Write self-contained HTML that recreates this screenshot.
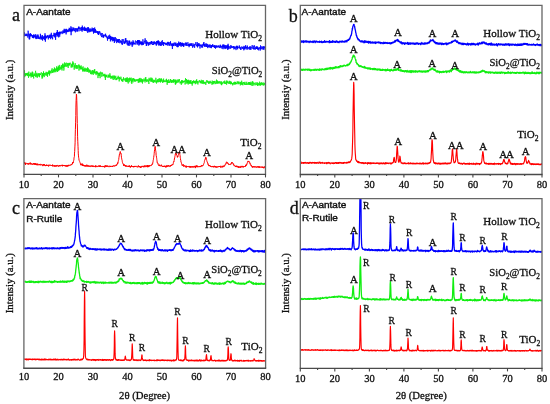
<!DOCTYPE html>
<html><head><meta charset="utf-8"><title>XRD patterns</title>
<style>html,body{margin:0;padding:0;background:#fff;}svg{display:block;}#w{width:550px;height:404px;}</style></head>
<body><div id="w"><svg width="550" height="404" viewBox="0 0 550 404">
<defs><clipPath id="cla"><rect x="24.0" y="5.3" width="241.5" height="169.1"/></clipPath><clipPath id="clb"><rect x="300.3" y="5.3" width="241.7" height="169.2"/></clipPath><clipPath id="clc"><rect x="23.9" y="198.6" width="241.7" height="169.6"/></clipPath><clipPath id="cld"><rect x="300.3" y="198.6" width="241.7" height="169.8"/></clipPath></defs>
<rect width="550" height="404" fill="#fff"/>
<g clip-path="url(#cla)"><polyline points="24.0,35.3 24.2,36.1 24.3,35.3 24.5,32.4 24.7,36.3 24.9,35.5 25.0,33.9 25.2,35.8 25.4,35.5 25.6,35.4 25.7,35.0 25.9,35.9 26.1,33.7 26.2,34.7 26.4,34.2 26.6,36.1 26.8,35.2 26.9,34.6 27.1,33.8 27.3,34.8 27.5,35.3 27.6,34.8 27.8,37.6 28.0,37.1 28.1,30.7 28.3,32.2 28.5,35.2 28.7,34.8 28.8,35.9 29.0,36.0 29.2,39.3 29.3,33.8 29.5,35.1 29.7,39.3 29.9,36.9 30.0,37.0 30.2,35.0 30.4,33.1 30.6,36.3 30.7,36.2 30.9,33.9 31.1,34.9 31.2,36.0 31.4,34.5 31.6,36.0 31.8,36.4 31.9,36.3 32.1,35.4 32.3,37.4 32.5,37.9 32.6,37.0 32.8,35.0 33.0,37.7 33.1,35.7 33.3,38.1 33.5,34.7 33.7,38.2 33.8,36.6 34.0,34.5 34.2,36.2 34.4,36.8 34.5,37.2 34.7,35.1 34.9,34.9 35.0,37.2 35.2,36.1 35.4,37.3 35.6,38.3 35.7,34.2 35.9,37.5 36.1,39.1 36.2,36.6 36.4,35.7 36.6,38.4 36.8,37.6 36.9,38.7 37.1,36.6 37.3,34.7 37.5,37.1 37.6,36.5 37.8,38.6 38.0,37.7 38.1,34.6 38.3,35.3 38.5,38.9 38.7,38.6 38.8,36.4 39.0,37.5 39.2,38.3 39.4,38.3 39.5,39.0 39.7,38.0 39.9,37.4 40.0,37.1 40.2,39.4 40.4,33.8 40.6,37.4 40.7,37.7 40.9,35.2 41.1,38.2 41.3,36.6 41.4,39.1 41.6,37.5 41.8,38.8 41.9,39.7 42.1,38.3 42.3,36.2 42.5,35.1 42.6,40.6 42.8,37.5 43.0,36.5 43.1,37.9 43.3,37.3 43.5,39.1 43.7,37.7 43.8,37.6 44.0,36.4 44.2,38.4 44.4,35.8 44.5,38.7 44.7,40.1 44.9,34.9 45.0,33.3 45.2,38.5 45.4,41.7 45.6,35.7 45.7,35.3 45.9,38.4 46.1,35.9 46.3,36.5 46.4,36.7 46.6,38.2 46.8,36.6 46.9,37.7 47.1,36.9 47.3,35.7 47.5,36.6 47.6,35.5 47.8,37.1 48.0,35.2 48.2,35.2 48.3,39.4 48.5,36.9 48.7,36.8 48.8,37.7 49.0,36.2 49.2,36.4 49.4,37.5 49.5,37.2 49.7,34.8 49.9,38.1 50.0,35.7 50.2,34.9 50.4,35.1 50.6,35.9 50.7,39.2 50.9,34.5 51.1,36.7 51.3,32.8 51.4,36.3 51.6,37.8 51.8,35.9 51.9,35.2 52.1,36.6 52.3,37.3 52.5,37.2 52.6,39.3 52.8,36.3 53.0,34.9 53.2,35.7 53.3,35.7 53.5,36.0 53.7,35.7 53.8,36.0 54.0,32.8 54.2,36.9 54.4,34.6 54.5,33.5 54.7,36.4 54.9,37.5 55.1,36.1 55.2,35.5 55.4,33.6 55.6,39.9 55.7,36.5 55.9,33.1 56.1,33.6 56.3,35.0 56.4,32.2 56.6,35.0 56.8,33.9 56.9,36.7 57.1,36.2 57.3,30.0 57.5,34.5 57.6,31.7 57.8,36.2 58.0,34.6 58.2,35.1 58.3,32.4 58.5,37.1 58.7,37.4 58.8,32.2 59.0,34.5 59.2,32.8 59.4,33.8 59.5,31.7 59.7,36.7 59.9,32.0 60.1,33.1 60.2,34.3 60.4,32.4 60.6,33.0 60.7,32.4 60.9,33.0 61.1,31.3 61.3,32.4 61.4,32.7 61.6,32.5 61.8,33.1 62.0,32.4 62.1,34.1 62.3,32.3 62.5,32.5 62.6,31.6 62.8,31.7 63.0,30.5 63.2,33.3 63.3,30.6 63.5,31.1 63.7,32.9 63.8,32.9 64.0,31.5 64.2,28.8 64.4,32.8 64.5,32.4 64.7,29.7 64.9,33.1 65.1,30.7 65.2,29.9 65.4,31.9 65.6,31.4 65.7,31.9 65.9,28.9 66.1,34.4 66.3,30.5 66.4,28.9 66.6,32.3 66.8,30.7 67.0,31.7 67.1,30.6 67.3,31.0 67.5,31.5 67.6,29.8 67.8,32.1 68.0,30.2 68.2,29.5 68.3,30.9 68.5,31.5 68.7,30.4 68.9,29.3 69.0,31.6 69.2,27.8 69.4,28.9 69.5,30.6 69.7,28.3 69.9,30.5 70.1,30.3 70.2,31.8 70.4,28.8 70.6,29.3 70.7,30.8 70.9,26.3 71.1,35.2 71.3,29.0 71.4,28.9 71.6,31.5 71.8,30.0 72.0,27.2 72.1,31.0 72.3,31.3 72.5,29.2 72.6,29.4 72.8,30.6 73.0,28.4 73.2,30.5 73.3,30.1 73.5,28.7 73.7,27.5 73.9,29.3 74.0,28.3 74.2,31.2 74.4,29.8 74.5,30.8 74.7,29.8 74.9,29.9 75.1,28.2 75.2,30.5 75.4,32.3 75.6,28.9 75.8,28.5 75.9,29.1 76.1,28.6 76.3,28.2 76.4,29.5 76.6,28.8 76.8,31.6 77.0,29.3 77.1,29.8 77.3,30.7 77.5,28.7 77.6,31.5 77.8,28.2 78.0,27.9 78.2,28.6 78.3,29.0 78.5,26.9 78.7,29.1 78.9,26.5 79.0,31.3 79.2,29.0 79.4,28.1 79.5,27.7 79.7,28.5 79.9,28.8 80.1,27.5 80.2,27.7 80.4,28.8 80.6,28.3 80.8,30.6 80.9,30.9 81.1,29.2 81.3,29.9 81.4,27.0 81.6,30.2 81.8,29.1 82.0,29.9 82.1,31.7 82.3,25.6 82.5,29.6 82.7,27.5 82.8,30.1 83.0,27.2 83.2,28.5 83.3,29.6 83.5,30.2 83.7,29.4 83.9,28.0 84.0,28.4 84.2,30.7 84.4,29.3 84.5,26.7 84.7,30.7 84.9,30.0 85.1,30.7 85.2,28.8 85.4,30.7 85.6,27.7 85.8,30.3 85.9,28.7 86.1,30.5 86.3,31.0 86.4,28.3 86.6,29.4 86.8,29.6 87.0,31.4 87.1,30.6 87.3,27.6 87.5,30.3 87.7,30.7 87.8,32.9 88.0,27.0 88.2,28.8 88.3,31.7 88.5,27.5 88.7,27.8 88.9,30.5 89.0,31.3 89.2,28.7 89.4,30.6 89.6,30.0 89.7,32.2 89.9,29.8 90.1,31.4 90.2,28.5 90.4,29.6 90.6,29.8 90.8,31.7 90.9,30.9 91.1,28.9 91.3,31.1 91.4,31.3 91.6,30.0 91.8,29.8 92.0,29.9 92.1,27.6 92.3,30.6 92.5,30.7 92.7,29.0 92.8,31.5 93.0,28.3 93.2,29.6 93.3,29.8 93.5,33.6 93.7,28.2 93.9,31.6 94.0,32.2 94.2,31.4 94.4,32.7 94.6,29.4 94.7,27.5 94.9,32.2 95.1,29.2 95.2,30.6 95.4,29.4 95.6,32.8 95.8,32.6 95.9,30.3 96.1,32.8 96.3,31.7 96.5,31.3 96.6,31.7 96.8,31.4 97.0,32.7 97.1,32.3 97.3,31.3 97.5,33.5 97.7,31.1 97.8,32.5 98.0,32.8 98.2,34.5 98.3,31.5 98.5,35.0 98.7,32.7 98.9,32.3 99.0,31.6 99.2,33.6 99.4,32.9 99.6,31.2 99.7,31.2 99.9,32.2 100.1,32.1 100.2,34.9 100.4,35.4 100.6,34.7 100.8,34.0 100.9,32.9 101.1,33.7 101.3,35.1 101.5,37.1 101.6,35.3 101.8,33.6 102.0,34.2 102.1,33.5 102.3,33.1 102.5,34.1 102.7,34.8 102.8,37.3 103.0,34.7 103.2,36.8 103.4,37.5 103.5,35.0 103.7,37.4 103.9,36.2 104.0,34.6 104.2,35.7 104.4,35.4 104.6,35.1 104.7,35.2 104.9,35.9 105.1,36.4 105.2,34.5 105.4,35.9 105.6,33.7 105.8,36.5 105.9,37.1 106.1,36.5 106.3,36.7 106.5,37.3 106.6,35.5 106.8,36.2 107.0,37.4 107.1,38.2 107.3,37.4 107.5,40.7 107.7,36.8 107.8,38.5 108.0,39.0 108.2,37.0 108.4,36.0 108.5,35.6 108.7,37.6 108.9,39.1 109.0,37.9 109.2,37.9 109.4,37.1 109.6,38.6 109.7,34.7 109.9,38.3 110.1,38.0 110.3,36.0 110.4,41.4 110.6,36.1 110.8,36.7 110.9,36.5 111.1,40.0 111.3,37.1 111.5,39.5 111.6,39.5 111.8,39.1 112.0,36.8 112.1,37.9 112.3,41.3 112.5,37.0 112.7,37.8 112.8,38.8 113.0,40.3 113.2,39.6 113.4,40.3 113.5,37.7 113.7,40.8 113.9,40.3 114.0,37.1 114.2,41.8 114.4,43.0 114.6,38.5 114.7,39.8 114.9,41.8 115.1,37.7 115.3,37.0 115.4,38.0 115.6,39.2 115.8,39.2 115.9,41.0 116.1,40.6 116.3,38.4 116.5,41.1 116.6,43.1 116.8,42.1 117.0,41.9 117.2,40.5 117.3,42.0 117.5,39.2 117.7,41.7 117.8,40.6 118.0,42.4 118.2,41.5 118.4,39.2 118.5,41.1 118.7,42.7 118.9,39.3 119.0,40.2 119.2,40.0 119.4,39.0 119.6,42.6 119.7,43.2 119.9,42.5 120.1,41.7 120.3,41.3 120.4,41.8 120.6,40.4 120.8,42.8 120.9,43.1 121.1,43.0 121.3,40.9 121.5,41.8 121.6,41.5 121.8,44.4 122.0,42.1 122.2,39.1 122.3,42.5 122.5,44.7 122.7,43.0 122.8,43.3 123.0,42.1 123.2,39.2 123.4,39.5 123.5,40.4 123.7,42.0 123.9,42.7 124.1,43.3 124.2,41.8 124.4,43.7 124.6,41.9 124.7,41.4 124.9,43.6 125.1,41.1 125.3,38.5 125.4,40.9 125.6,42.6 125.8,38.1 125.9,42.0 126.1,42.1 126.3,40.5 126.5,40.5 126.6,41.9 126.8,41.8 127.0,44.4 127.2,43.2 127.3,40.4 127.5,41.4 127.7,43.7 127.8,45.4 128.0,43.3 128.2,43.2 128.4,45.4 128.5,42.7 128.7,42.3 128.9,40.7 129.1,42.0 129.2,45.9 129.4,40.8 129.6,42.8 129.7,40.8 129.9,43.0 130.1,44.1 130.3,42.5 130.4,43.9 130.6,43.9 130.8,43.5 131.0,45.3 131.1,44.0 131.3,42.4 131.5,41.9 131.6,41.7 131.8,43.6 132.0,42.4 132.2,46.8 132.3,45.5 132.5,42.6 132.7,42.5 132.8,45.3 133.0,40.3 133.2,42.3 133.4,44.3 133.5,41.7 133.7,42.3 133.9,42.5 134.1,43.9 134.2,43.2 134.4,43.5 134.6,43.8 134.7,43.0 134.9,44.6 135.1,42.0 135.3,41.0 135.4,40.5 135.6,40.7 135.8,42.2 136.0,44.5 136.1,43.3 136.3,42.2 136.5,41.5 136.6,42.3 136.8,42.5 137.0,42.2 137.2,41.0 137.3,42.4 137.5,44.5 137.7,40.0 137.9,42.7 138.0,40.1 138.2,43.3 138.4,42.0 138.5,40.1 138.7,43.2 138.9,45.6 139.1,43.2 139.2,44.7 139.4,43.0 139.6,40.1 139.7,43.8 139.9,42.5 140.1,41.1 140.3,44.2 140.4,43.5 140.6,42.4 140.8,44.3 141.0,41.9 141.1,44.0 141.3,41.8 141.5,43.9 141.6,41.6 141.8,45.2 142.0,43.5 142.2,45.1 142.3,42.0 142.5,42.5 142.7,44.3 142.9,39.3 143.0,41.7 143.2,44.6 143.4,43.8 143.5,44.5 143.7,42.7 143.9,44.0 144.1,42.2 144.2,41.3 144.4,40.8 144.6,42.4 144.8,42.4 144.9,42.3 145.1,38.3 145.3,40.5 145.4,42.5 145.6,43.6 145.8,42.4 146.0,42.0 146.1,40.0 146.3,46.0 146.5,41.7 146.6,45.6 146.8,45.4 147.0,43.6 147.2,42.5 147.3,43.4 147.5,41.7 147.7,43.6 147.9,43.3 148.0,44.0 148.2,44.6 148.4,45.7 148.5,42.8 148.7,44.7 148.9,42.2 149.1,42.1 149.2,42.5 149.4,42.0 149.6,44.6 149.8,44.6 149.9,45.1 150.1,43.3 150.3,43.7 150.4,42.5 150.6,41.8 150.8,43.9 151.0,43.7 151.1,41.8 151.3,44.1 151.5,41.0 151.7,43.1 151.8,42.5 152.0,42.6 152.2,41.9 152.3,44.7 152.5,44.1 152.7,45.0 152.9,43.6 153.0,41.6 153.2,42.9 153.4,41.8 153.5,44.0 153.7,45.0 153.9,43.8 154.1,42.6 154.2,42.9 154.4,43.7 154.6,41.4 154.8,43.6 154.9,43.7 155.1,42.7 155.3,42.8 155.4,43.6 155.6,42.3 155.8,42.3 156.0,44.5 156.1,43.7 156.3,45.7 156.5,42.1 156.7,41.0 156.8,44.7 157.0,44.7 157.2,42.5 157.3,41.5 157.5,43.4 157.7,41.1 157.9,43.0 158.0,40.5 158.2,43.2 158.4,40.6 158.6,43.2 158.7,45.5 158.9,43.1 159.1,44.5 159.2,42.6 159.4,42.3 159.6,41.5 159.8,44.9 159.9,43.4 160.1,45.7 160.3,42.0 160.4,43.2 160.6,43.6 160.8,45.4 161.0,46.0 161.1,42.7 161.3,42.1 161.5,41.3 161.7,45.4 161.8,43.5 162.0,42.7 162.2,43.5 162.3,40.2 162.5,41.3 162.7,44.9 162.9,44.2 163.0,43.8 163.2,42.3 163.4,44.4 163.6,46.0 163.7,42.0 163.9,43.7 164.1,43.1 164.2,44.2 164.4,43.7 164.6,43.5 164.8,42.5 164.9,43.7 165.1,42.9 165.3,43.5 165.5,43.7 165.6,44.6 165.8,43.0 166.0,43.3 166.1,45.2 166.3,43.5 166.5,43.4 166.7,44.9 166.8,44.2 167.0,43.9 167.2,44.1 167.3,42.2 167.5,44.4 167.7,45.6 167.9,44.6 168.0,41.8 168.2,44.2 168.4,42.7 168.6,43.6 168.7,44.1 168.9,42.3 169.1,45.7 169.2,43.8 169.4,45.0 169.6,44.8 169.8,45.7 169.9,45.5 170.1,42.0 170.3,44.0 170.5,41.2 170.6,43.4 170.8,44.9 171.0,45.2 171.1,45.7 171.3,43.5 171.5,44.5 171.7,44.2 171.8,45.7 172.0,46.1 172.2,43.6 172.4,49.0 172.5,44.1 172.7,43.6 172.9,44.9 173.0,45.1 173.2,44.8 173.4,43.3 173.6,46.0 173.7,44.2 173.9,46.1 174.1,46.0 174.2,42.5 174.4,42.9 174.6,42.9 174.8,44.5 174.9,44.3 175.1,44.6 175.3,43.2 175.5,44.8 175.6,46.0 175.8,42.5 176.0,44.0 176.1,44.6 176.3,44.1 176.5,44.0 176.7,46.6 176.8,45.9 177.0,45.4 177.2,43.3 177.4,47.2 177.5,44.8 177.7,43.6 177.9,43.9 178.0,43.7 178.2,47.1 178.4,44.6 178.6,44.5 178.7,41.6 178.9,45.3 179.1,43.1 179.3,43.0 179.4,45.2 179.6,43.3 179.8,45.5 179.9,45.9 180.1,42.2 180.3,44.3 180.5,42.5 180.6,44.4 180.8,45.6 181.0,42.8 181.1,46.8 181.3,44.1 181.5,43.0 181.7,44.4 181.8,45.5 182.0,42.8 182.2,44.5 182.4,42.8 182.5,46.1 182.7,44.8 182.9,44.0 183.0,45.9 183.2,43.0 183.4,44.1 183.6,46.9 183.7,44.4 183.9,46.3 184.1,44.9 184.3,43.7 184.4,44.3 184.6,44.7 184.8,44.1 184.9,43.6 185.1,43.7 185.3,42.8 185.5,44.8 185.6,45.2 185.8,45.6 186.0,42.4 186.2,45.7 186.3,44.7 186.5,42.9 186.7,44.9 186.8,45.8 187.0,45.4 187.2,45.7 187.4,45.9 187.5,45.9 187.7,44.7 187.9,42.2 188.0,43.8 188.2,45.2 188.4,44.2 188.6,45.7 188.7,45.8 188.9,44.9 189.1,47.2 189.3,43.6 189.4,46.0 189.6,44.3 189.8,43.9 189.9,45.6 190.1,44.1 190.3,46.0 190.5,43.5 190.6,45.0 190.8,43.9 191.0,44.6 191.2,44.5 191.3,43.5 191.5,45.8 191.7,43.4 191.8,43.8 192.0,46.1 192.2,46.2 192.4,45.8 192.5,45.4 192.7,47.8 192.9,43.5 193.1,44.1 193.2,43.8 193.4,46.2 193.6,45.4 193.7,46.4 193.9,46.3 194.1,44.8 194.3,44.1 194.4,43.9 194.6,47.8 194.8,46.3 194.9,45.8 195.1,44.7 195.3,44.9 195.5,44.7 195.6,44.8 195.8,42.2 196.0,45.1 196.2,44.7 196.3,45.5 196.5,45.5 196.7,46.2 196.8,45.2 197.0,46.2 197.2,42.1 197.4,43.9 197.5,47.4 197.7,43.8 197.9,44.9 198.1,46.1 198.2,44.2 198.4,46.2 198.6,43.6 198.7,43.0 198.9,43.7 199.1,43.3 199.3,45.3 199.4,45.0 199.6,45.8 199.8,44.1 200.0,48.5 200.1,45.3 200.3,45.3 200.5,46.0 200.6,45.1 200.8,44.7 201.0,45.5 201.2,46.6 201.3,46.3 201.5,46.6 201.7,44.8 201.8,44.6 202.0,47.9 202.2,45.2 202.4,46.1 202.5,46.4 202.7,47.3 202.9,43.9 203.1,45.0 203.2,45.1 203.4,45.2 203.6,42.7 203.7,45.5 203.9,42.1 204.1,46.0 204.3,46.3 204.4,46.4 204.6,44.2 204.8,46.8 205.0,44.6 205.1,44.2 205.3,44.5 205.5,44.7 205.6,45.9 205.8,46.7 206.0,43.2 206.2,45.1 206.3,46.8 206.5,46.0 206.7,46.4 206.9,44.0 207.0,46.9 207.2,43.9 207.4,46.1 207.5,47.5 207.7,48.1 207.9,46.5 208.1,46.9 208.2,45.2 208.4,45.3 208.6,47.3 208.7,45.9 208.9,45.8 209.1,44.3 209.3,46.1 209.4,46.7 209.6,45.0 209.8,45.4 210.0,47.9 210.1,46.2 210.3,45.7 210.5,44.7 210.6,45.3 210.8,45.7 211.0,47.7 211.2,45.3 211.3,48.2 211.5,45.0 211.7,45.7 211.9,47.1 212.0,45.8 212.2,45.1 212.4,46.0 212.5,46.7 212.7,44.1 212.9,45.9 213.1,46.0 213.2,45.7 213.4,47.0 213.6,45.5 213.8,45.8 213.9,46.3 214.1,47.1 214.3,46.0 214.4,48.0 214.6,45.2 214.8,47.8 215.0,45.3 215.1,46.1 215.3,46.7 215.5,48.7 215.6,47.4 215.8,45.8 216.0,47.8 216.2,46.1 216.3,45.4 216.5,46.9 216.7,46.5 216.9,47.5 217.0,45.8 217.2,46.8 217.4,47.1 217.5,46.7 217.7,46.4 217.9,45.6 218.1,47.5 218.2,46.6 218.4,47.0 218.6,46.1 218.8,46.5 218.9,45.3 219.1,46.6 219.3,47.4 219.4,46.6 219.6,47.5 219.8,46.9 220.0,48.1 220.1,46.4 220.3,44.7 220.5,47.1 220.7,46.4 220.8,45.5 221.0,47.4 221.2,46.9 221.3,47.2 221.5,46.3 221.7,46.9 221.9,47.0 222.0,48.7 222.2,45.9 222.4,46.7 222.5,47.1 222.7,44.7 222.9,44.9 223.1,49.2 223.2,44.7 223.4,47.4 223.6,45.8 223.8,45.9 223.9,44.5 224.1,45.8 224.3,47.7 224.4,45.2 224.6,47.5 224.8,47.2 225.0,49.1 225.1,46.3 225.3,48.3 225.5,47.9 225.7,46.6 225.8,45.0 226.0,48.6 226.2,45.4 226.3,46.4 226.5,47.9 226.7,48.2 226.9,46.0 227.0,46.9 227.2,46.7 227.4,48.3 227.6,49.8 227.7,44.9 227.9,48.1 228.1,43.8 228.2,47.1 228.4,45.8 228.6,49.3 228.8,47.3 228.9,46.2 229.1,46.5 229.3,46.5 229.4,47.3 229.6,46.9 229.8,47.9 230.0,48.9 230.1,47.9 230.3,45.8 230.5,45.3 230.7,46.3 230.8,48.4 231.0,46.8 231.2,46.5 231.3,47.4 231.5,45.6 231.7,46.0 231.9,47.8 232.0,46.9 232.2,46.8 232.4,47.6 232.6,46.6 232.7,46.5 232.9,46.8 233.1,48.0 233.2,47.4 233.4,46.0 233.6,47.0 233.8,48.1 233.9,49.4 234.1,46.1 234.3,47.7 234.5,47.1 234.6,48.3 234.8,47.9 235.0,49.0 235.1,48.0 235.3,46.8 235.5,46.8 235.7,47.9 235.8,47.9 236.0,50.1 236.2,49.3 236.3,46.1 236.5,47.8 236.7,46.0 236.9,45.6 237.0,48.3 237.2,48.1 237.4,46.3 237.6,49.3 237.7,46.4 237.9,46.2 238.1,48.2 238.2,47.7 238.4,47.3 238.6,47.4 238.8,47.8 238.9,47.4 239.1,47.3 239.3,45.4 239.5,46.1 239.6,48.2 239.8,46.8 240.0,48.1 240.1,48.9 240.3,47.2 240.5,47.9 240.7,49.8 240.8,48.3 241.0,49.6 241.2,49.2 241.4,48.4 241.5,47.5 241.7,46.7 241.9,46.4 242.0,48.1 242.2,48.1 242.4,47.4 242.6,48.5 242.7,47.0 242.9,48.8 243.1,47.7 243.2,47.6 243.4,47.6 243.6,47.5 243.8,50.3 243.9,45.9 244.1,47.8 244.3,49.0 244.5,48.4 244.6,47.3 244.8,49.5 245.0,46.5 245.1,46.3 245.3,48.3 245.5,46.1 245.7,45.1 245.8,48.6 246.0,48.5 246.2,48.5 246.4,47.2 246.5,47.9 246.7,46.7 246.9,49.6 247.0,48.6 247.2,48.5 247.4,45.6 247.6,48.6 247.7,49.3 247.9,49.0 248.1,48.6 248.3,47.8 248.4,47.4 248.6,48.4 248.8,48.2 248.9,48.0 249.1,47.4 249.3,49.6 249.5,46.5 249.6,47.8 249.8,47.2 250.0,48.9 250.1,49.3 250.3,49.1 250.5,48.6 250.7,46.3 250.8,50.0 251.0,48.4 251.2,47.7 251.4,47.9 251.5,47.5 251.7,48.3 251.9,48.2 252.0,47.5 252.2,45.1 252.4,47.8 252.6,48.4 252.7,48.4 252.9,47.7 253.1,48.4 253.3,49.0 253.4,47.4 253.6,49.4 253.8,45.8 253.9,46.6 254.1,47.0 254.3,45.3 254.5,46.9 254.6,49.2 254.8,49.2 255.0,48.0 255.2,49.7 255.3,48.2 255.5,47.4 255.7,48.2 255.8,47.8 256.0,48.7 256.2,46.4 256.4,49.0 256.5,47.5 256.7,48.9 256.9,46.4 257.0,47.5 257.2,48.1 257.4,48.9 257.6,46.7 257.7,49.7 257.9,48.5 258.1,47.5 258.3,49.3 258.4,48.1 258.6,49.2 258.8,50.4 258.9,48.8 259.1,47.5 259.3,47.6 259.5,48.6 259.6,48.3 259.8,47.2 260.0,47.4 260.2,48.7 260.3,50.5 260.5,45.4 260.7,48.8 260.8,47.9 261.0,48.9 261.2,49.0 261.4,48.1 261.5,47.1 261.7,46.7 261.9,46.2 262.1,49.4 262.2,47.9 262.4,47.6 262.6,47.8 262.7,46.8 262.9,48.4 263.1,49.5 263.3,49.3 263.4,46.5 263.6,49.5 263.8,47.4 263.9,46.2 264.1,46.9 264.3,47.2 264.5,48.2 264.6,47.1 264.8,46.6 265.0,47.9 265.2,50.1 265.3,47.5 265.5,48.6" fill="none" stroke="#0000ff" stroke-width="0.8" stroke-linejoin="round"/></g><g clip-path="url(#cla)"><polyline points="24.0,74.6 24.2,73.4 24.3,73.6 24.5,70.2 24.7,77.2 24.9,76.2 25.0,73.7 25.2,75.6 25.4,74.8 25.6,73.4 25.7,75.9 25.9,73.8 26.1,73.8 26.2,73.0 26.4,75.1 26.6,74.2 26.8,75.2 26.9,73.4 27.1,74.6 27.3,72.9 27.5,75.8 27.6,74.7 27.8,74.9 28.0,75.1 28.1,72.8 28.3,75.7 28.5,77.8 28.7,71.8 28.8,71.6 29.0,72.0 29.2,75.8 29.3,74.7 29.5,76.2 29.7,75.7 29.9,74.8 30.0,75.0 30.2,74.2 30.4,75.9 30.6,72.7 30.7,73.8 30.9,74.9 31.1,77.5 31.2,73.3 31.4,72.8 31.6,73.7 31.8,76.2 31.9,74.2 32.1,76.8 32.3,71.6 32.5,76.5 32.6,76.3 32.8,72.3 33.0,74.9 33.1,76.6 33.3,74.8 33.5,76.3 33.7,78.5 33.8,75.1 34.0,74.2 34.2,73.5 34.4,75.8 34.5,74.4 34.7,74.4 34.9,74.6 35.0,75.8 35.2,73.0 35.4,72.3 35.6,70.8 35.7,76.7 35.9,74.9 36.1,77.2 36.2,74.8 36.4,73.6 36.6,75.6 36.8,74.7 36.9,72.8 37.1,73.4 37.3,77.7 37.5,75.4 37.6,75.5 37.8,74.4 38.0,73.8 38.1,76.3 38.3,74.7 38.5,73.7 38.7,74.7 38.8,73.4 39.0,75.2 39.2,76.7 39.4,73.6 39.5,77.2 39.7,73.8 39.9,75.1 40.0,73.6 40.2,74.5 40.4,75.0 40.6,74.2 40.7,73.7 40.9,73.8 41.1,73.5 41.3,72.3 41.4,74.4 41.6,75.5 41.8,76.3 41.9,75.8 42.1,78.7 42.3,75.3 42.5,74.0 42.6,77.7 42.8,73.0 43.0,76.2 43.1,73.1 43.3,75.2 43.5,71.4 43.7,76.0 43.8,74.2 44.0,72.9 44.2,77.1 44.4,75.6 44.5,74.4 44.7,73.1 44.9,74.2 45.0,74.0 45.2,75.3 45.4,75.4 45.6,73.0 45.7,73.2 45.9,73.2 46.1,71.8 46.3,73.0 46.4,73.7 46.6,74.9 46.8,75.8 46.9,72.4 47.1,74.5 47.3,72.9 47.5,76.8 47.6,73.4 47.8,74.2 48.0,71.9 48.2,72.0 48.3,73.6 48.5,72.6 48.7,73.7 48.8,70.6 49.0,74.0 49.2,71.5 49.4,75.6 49.5,72.3 49.7,74.4 49.9,70.4 50.0,73.2 50.2,71.1 50.4,71.7 50.6,72.4 50.7,71.8 50.9,72.6 51.1,73.3 51.3,73.1 51.4,71.8 51.6,69.8 51.8,70.6 51.9,71.4 52.1,68.3 52.3,72.8 52.5,71.1 52.6,71.0 52.8,72.8 53.0,72.3 53.2,71.5 53.3,69.5 53.5,71.5 53.7,71.5 53.8,69.5 54.0,72.4 54.2,71.5 54.4,67.5 54.5,70.7 54.7,68.5 54.9,72.1 55.1,71.5 55.2,68.5 55.4,68.7 55.6,70.2 55.7,69.6 55.9,72.2 56.1,70.9 56.3,69.2 56.4,70.5 56.6,66.4 56.8,69.9 56.9,70.7 57.1,69.0 57.3,68.1 57.5,70.0 57.6,72.0 57.8,69.2 58.0,67.1 58.2,71.0 58.3,65.7 58.5,69.4 58.7,67.6 58.8,69.8 59.0,67.0 59.2,70.3 59.4,68.6 59.5,65.4 59.7,64.9 59.9,67.4 60.1,69.8 60.2,67.9 60.4,67.8 60.6,67.2 60.7,68.6 60.9,68.0 61.1,67.8 61.3,65.7 61.4,69.0 61.6,69.2 61.8,65.0 62.0,70.5 62.1,68.0 62.3,66.1 62.5,63.8 62.6,67.7 62.8,67.5 63.0,65.6 63.2,63.7 63.3,68.1 63.5,65.4 63.7,65.5 63.8,70.6 64.0,69.4 64.2,67.5 64.4,65.3 64.5,67.0 64.7,62.4 64.9,66.0 65.1,64.6 65.2,63.8 65.4,63.3 65.6,66.4 65.7,65.7 65.9,65.8 66.1,66.8 66.3,64.2 66.4,63.5 66.6,62.7 66.8,64.8 67.0,66.5 67.1,65.0 67.3,66.2 67.5,63.4 67.6,64.5 67.8,64.0 68.0,63.2 68.2,68.0 68.3,66.4 68.5,63.9 68.7,63.9 68.9,65.0 69.0,62.9 69.2,65.7 69.4,63.1 69.5,64.5 69.7,63.5 69.9,64.3 70.1,63.0 70.2,62.7 70.4,63.6 70.6,64.1 70.7,64.7 70.9,65.2 71.1,67.5 71.3,66.4 71.4,64.8 71.6,66.3 71.8,64.2 72.0,67.5 72.1,66.1 72.3,63.3 72.5,66.5 72.6,66.6 72.8,61.4 73.0,64.3 73.2,64.8 73.3,62.6 73.5,63.9 73.7,64.2 73.9,66.4 74.0,66.1 74.2,69.7 74.4,65.2 74.5,67.5 74.7,66.0 74.9,66.3 75.1,64.2 75.2,63.1 75.4,64.9 75.6,67.2 75.8,68.5 75.9,67.1 76.1,67.0 76.3,65.0 76.4,68.7 76.6,68.4 76.8,65.7 77.0,66.5 77.1,65.1 77.3,68.8 77.5,67.3 77.6,66.6 77.8,67.4 78.0,67.6 78.2,66.3 78.3,65.2 78.5,65.2 78.7,64.6 78.9,67.9 79.0,70.6 79.2,64.8 79.4,67.6 79.5,68.1 79.7,66.1 79.9,67.9 80.1,66.0 80.2,69.5 80.4,66.9 80.6,68.0 80.8,68.9 80.9,67.4 81.1,65.4 81.3,67.3 81.4,69.3 81.6,68.1 81.8,68.7 82.0,66.8 82.1,68.7 82.3,69.6 82.5,68.6 82.7,71.5 82.8,68.4 83.0,67.2 83.2,66.5 83.3,70.6 83.5,68.9 83.7,70.5 83.9,69.8 84.0,71.6 84.2,71.1 84.4,68.7 84.5,69.8 84.7,71.0 84.9,67.7 85.1,71.7 85.2,71.4 85.4,71.1 85.6,69.5 85.8,70.3 85.9,68.2 86.1,70.0 86.3,69.1 86.4,70.2 86.6,69.4 86.8,70.6 87.0,72.0 87.1,68.4 87.3,71.7 87.5,67.5 87.7,67.3 87.8,70.4 88.0,70.6 88.2,71.3 88.3,68.3 88.5,70.7 88.7,71.0 88.9,72.7 89.0,70.8 89.2,71.8 89.4,69.6 89.6,70.9 89.7,70.5 89.9,72.3 90.1,69.8 90.2,70.1 90.4,72.2 90.6,74.1 90.8,72.1 90.9,72.0 91.1,71.1 91.3,73.3 91.4,72.5 91.6,74.3 91.8,72.3 92.0,70.5 92.1,71.1 92.3,70.6 92.5,70.2 92.7,73.9 92.8,73.3 93.0,70.4 93.2,74.9 93.3,72.7 93.5,71.0 93.7,73.0 93.9,72.4 94.0,71.4 94.2,69.8 94.4,72.7 94.6,73.1 94.7,69.0 94.9,73.6 95.1,73.7 95.2,72.2 95.4,73.1 95.6,72.6 95.8,71.8 95.9,72.6 96.1,75.1 96.3,71.1 96.5,73.6 96.6,73.6 96.8,72.3 97.0,72.8 97.1,71.4 97.3,72.3 97.5,73.6 97.7,74.1 97.8,72.4 98.0,78.1 98.2,72.9 98.3,74.0 98.5,73.5 98.7,73.3 98.9,75.8 99.0,73.3 99.2,75.9 99.4,75.7 99.6,72.6 99.7,75.7 99.9,73.3 100.1,78.2 100.2,73.8 100.4,73.0 100.6,71.7 100.8,72.6 100.9,73.7 101.1,73.1 101.3,72.8 101.5,73.6 101.6,74.4 101.8,76.8 102.0,72.3 102.1,74.0 102.3,73.5 102.5,72.8 102.7,73.2 102.8,73.7 103.0,76.1 103.2,74.8 103.4,74.4 103.5,76.1 103.7,75.6 103.9,75.0 104.0,75.9 104.2,74.2 104.4,76.3 104.6,76.1 104.7,74.9 104.9,73.8 105.1,77.7 105.2,75.8 105.4,80.0 105.6,74.8 105.8,77.0 105.9,75.2 106.1,76.2 106.3,77.1 106.5,74.8 106.6,75.8 106.8,76.2 107.0,76.2 107.1,76.9 107.3,77.6 107.5,77.3 107.7,76.6 107.8,75.8 108.0,74.7 108.2,75.3 108.4,75.6 108.5,77.4 108.7,75.9 108.9,74.7 109.0,77.4 109.2,75.4 109.4,75.5 109.6,76.3 109.7,77.4 109.9,73.3 110.1,75.2 110.3,77.1 110.4,76.3 110.6,75.7 110.8,76.2 110.9,78.9 111.1,76.4 111.3,78.0 111.5,78.2 111.6,76.5 111.8,77.8 112.0,76.6 112.1,76.4 112.3,75.7 112.5,78.5 112.7,76.8 112.8,76.6 113.0,75.9 113.2,80.0 113.4,78.5 113.5,77.4 113.7,76.6 113.9,75.5 114.0,78.1 114.2,78.1 114.4,75.8 114.6,79.4 114.7,78.9 114.9,76.5 115.1,77.1 115.3,77.3 115.4,78.2 115.6,77.8 115.8,75.8 115.9,80.1 116.1,78.6 116.3,79.9 116.5,79.9 116.6,77.9 116.8,78.7 117.0,79.3 117.2,79.4 117.3,78.2 117.5,77.6 117.7,78.5 117.8,77.4 118.0,77.8 118.2,75.8 118.4,78.7 118.5,77.2 118.7,77.9 118.9,78.7 119.0,79.2 119.2,81.4 119.4,79.1 119.6,76.9 119.7,79.1 119.9,78.1 120.1,79.5 120.3,78.1 120.4,78.1 120.6,78.4 120.8,78.3 120.9,76.7 121.1,78.3 121.3,79.2 121.5,80.9 121.6,78.9 121.8,78.8 122.0,80.2 122.2,80.1 122.3,81.6 122.5,80.3 122.7,79.5 122.8,81.4 123.0,81.6 123.2,78.9 123.4,79.8 123.5,77.3 123.7,79.2 123.9,78.5 124.1,79.4 124.2,79.1 124.4,79.5 124.6,79.6 124.7,80.4 124.9,80.1 125.1,79.0 125.3,78.1 125.4,81.5 125.6,81.8 125.8,79.3 125.9,80.6 126.1,77.8 126.3,77.8 126.5,79.5 126.6,81.9 126.8,78.5 127.0,78.8 127.2,82.1 127.3,77.4 127.5,80.8 127.7,80.6 127.8,79.7 128.0,80.2 128.2,83.5 128.4,78.5 128.5,79.6 128.7,79.7 128.9,79.1 129.1,78.2 129.2,82.2 129.4,80.3 129.6,77.7 129.7,79.1 129.9,80.6 130.1,80.6 130.3,78.1 130.4,79.9 130.6,80.4 130.8,80.6 131.0,80.6 131.1,77.6 131.3,82.6 131.5,80.4 131.6,82.5 131.8,83.9 132.0,79.9 132.2,78.5 132.3,81.3 132.5,79.9 132.7,79.5 132.8,78.7 133.0,82.4 133.2,79.5 133.4,78.3 133.5,79.5 133.7,78.6 133.9,80.4 134.1,79.6 134.2,78.8 134.4,81.0 134.6,79.3 134.7,81.1 134.9,81.9 135.1,79.7 135.3,79.3 135.4,80.5 135.6,81.4 135.8,80.2 136.0,80.4 136.1,80.2 136.3,80.6 136.5,81.1 136.6,79.3 136.8,79.6 137.0,80.3 137.2,79.4 137.3,80.4 137.5,81.0 137.7,80.2 137.9,79.5 138.0,79.2 138.2,82.6 138.4,81.4 138.5,78.8 138.7,79.2 138.9,82.8 139.1,82.3 139.2,80.5 139.4,81.8 139.6,78.3 139.7,80.3 139.9,81.3 140.1,77.9 140.3,79.3 140.4,81.4 140.6,81.8 140.8,79.6 141.0,80.7 141.1,82.4 141.3,79.8 141.5,78.6 141.6,80.3 141.8,79.8 142.0,82.1 142.2,80.6 142.3,79.3 142.5,83.5 142.7,79.7 142.9,81.0 143.0,81.3 143.2,81.4 143.4,80.6 143.5,81.2 143.7,80.3 143.9,78.6 144.1,80.1 144.2,80.2 144.4,80.2 144.6,80.6 144.8,79.6 144.9,82.2 145.1,82.5 145.3,77.6 145.4,80.5 145.6,79.5 145.8,77.1 146.0,81.0 146.1,79.7 146.3,80.0 146.5,79.6 146.6,81.9 146.8,82.1 147.0,80.9 147.2,81.4 147.3,80.4 147.5,80.7 147.7,79.5 147.9,80.6 148.0,79.6 148.2,81.0 148.4,81.6 148.5,80.9 148.7,82.1 148.9,84.0 149.1,77.8 149.2,80.6 149.4,79.8 149.6,80.0 149.8,78.8 149.9,80.6 150.1,80.2 150.3,79.8 150.4,80.3 150.6,79.8 150.8,77.6 151.0,82.0 151.1,80.2 151.3,79.4 151.5,81.0 151.7,79.8 151.8,77.8 152.0,81.8 152.2,78.5 152.3,80.4 152.5,80.8 152.7,82.4 152.9,82.2 153.0,80.9 153.2,79.7 153.4,80.1 153.5,82.1 153.7,83.0 153.9,81.4 154.1,79.9 154.2,82.0 154.4,80.2 154.6,80.2 154.8,80.3 154.9,81.5 155.1,81.1 155.3,82.0 155.4,82.4 155.6,81.4 155.8,77.8 156.0,78.6 156.1,80.9 156.3,80.7 156.5,83.5 156.7,80.7 156.8,80.6 157.0,82.0 157.2,82.1 157.3,80.5 157.5,81.4 157.7,79.4 157.9,79.6 158.0,82.4 158.2,79.0 158.4,82.0 158.6,81.7 158.7,81.8 158.9,82.0 159.1,81.5 159.2,78.1 159.4,79.6 159.6,80.1 159.8,82.0 159.9,79.4 160.1,80.0 160.3,80.4 160.4,82.5 160.6,79.1 160.8,79.2 161.0,81.7 161.1,78.2 161.3,81.3 161.5,80.3 161.7,78.9 161.8,80.4 162.0,79.7 162.2,81.1 162.3,81.4 162.5,82.8 162.7,80.9 162.9,81.1 163.0,80.2 163.2,80.9 163.4,82.3 163.6,78.6 163.7,81.8 163.9,80.3 164.1,81.1 164.2,81.4 164.4,82.1 164.6,81.3 164.8,80.5 164.9,81.4 165.1,81.1 165.3,80.8 165.5,81.3 165.6,82.1 165.8,81.2 166.0,81.3 166.1,79.5 166.3,80.9 166.5,78.8 166.7,82.0 166.8,79.9 167.0,82.7 167.2,84.8 167.3,80.6 167.5,82.8 167.7,81.6 167.9,80.4 168.0,80.1 168.2,81.8 168.4,82.9 168.6,81.6 168.7,79.3 168.9,79.9 169.1,80.9 169.2,82.9 169.4,81.5 169.6,81.6 169.8,82.7 169.9,80.9 170.1,81.1 170.3,81.0 170.5,79.0 170.6,81.8 170.8,81.7 171.0,82.4 171.1,79.8 171.3,80.2 171.5,82.4 171.7,81.7 171.8,83.0 172.0,80.2 172.2,81.5 172.4,80.5 172.5,81.7 172.7,80.7 172.9,82.0 173.0,82.6 173.2,82.1 173.4,79.1 173.6,82.5 173.7,81.9 173.9,80.1 174.1,80.3 174.2,81.4 174.4,82.1 174.6,80.8 174.8,79.4 174.9,81.7 175.1,81.6 175.3,84.4 175.5,79.8 175.6,84.5 175.8,83.5 176.0,81.8 176.1,83.4 176.3,81.5 176.5,82.6 176.7,80.5 176.8,81.5 177.0,80.2 177.2,79.5 177.4,81.1 177.5,80.7 177.7,82.2 177.9,83.0 178.0,81.3 178.2,81.6 178.4,81.7 178.6,79.5 178.7,81.8 178.9,81.5 179.1,81.5 179.3,80.2 179.4,79.1 179.6,81.2 179.8,81.9 179.9,83.2 180.1,82.9 180.3,83.3 180.5,82.0 180.6,83.0 180.8,81.3 181.0,82.3 181.1,82.7 181.3,84.8 181.5,81.9 181.7,80.1 181.8,83.3 182.0,80.7 182.2,81.5 182.4,81.3 182.5,80.5 182.7,83.2 182.9,82.4 183.0,80.9 183.2,81.7 183.4,81.1 183.6,82.4 183.7,81.2 183.9,80.8 184.1,80.9 184.3,81.2 184.4,82.0 184.6,80.6 184.8,81.6 184.9,82.2 185.1,84.5 185.3,82.7 185.5,78.2 185.6,81.1 185.8,81.3 186.0,82.1 186.2,83.6 186.3,82.6 186.5,79.0 186.7,82.1 186.8,81.9 187.0,82.3 187.2,83.4 187.4,80.5 187.5,83.1 187.7,79.9 187.9,81.9 188.0,82.3 188.2,84.5 188.4,81.0 188.6,79.8 188.7,82.6 188.9,81.1 189.1,83.7 189.3,81.0 189.4,80.8 189.6,83.3 189.8,82.0 189.9,83.1 190.1,80.2 190.3,83.8 190.5,81.2 190.6,82.9 190.8,80.7 191.0,80.1 191.2,81.6 191.3,82.1 191.5,83.8 191.7,82.3 191.8,82.8 192.0,82.7 192.2,85.6 192.4,81.0 192.5,83.4 192.7,81.8 192.9,82.3 193.1,81.3 193.2,83.3 193.4,80.5 193.6,80.5 193.7,81.8 193.9,80.7 194.1,82.8 194.3,83.1 194.4,81.2 194.6,82.9 194.8,81.3 194.9,82.0 195.1,82.1 195.3,84.2 195.5,82.1 195.6,81.0 195.8,81.0 196.0,83.5 196.2,80.2 196.3,81.5 196.5,81.7 196.7,79.3 196.8,81.6 197.0,83.3 197.2,82.4 197.4,81.1 197.5,82.9 197.7,82.7 197.9,84.5 198.1,81.3 198.2,81.7 198.4,82.2 198.6,82.0 198.7,82.3 198.9,82.1 199.1,81.4 199.3,80.3 199.4,81.5 199.6,80.6 199.8,81.0 200.0,81.6 200.1,82.8 200.3,83.2 200.5,81.0 200.6,82.6 200.8,83.1 201.0,82.2 201.2,80.4 201.3,79.8 201.5,83.1 201.7,83.3 201.8,82.6 202.0,81.1 202.2,83.9 202.4,83.6 202.5,82.2 202.7,82.0 202.9,80.0 203.1,83.1 203.2,80.5 203.4,83.1 203.6,83.1 203.7,82.4 203.9,84.1 204.1,81.9 204.3,83.0 204.4,83.2 204.6,82.6 204.8,81.9 205.0,83.7 205.1,82.8 205.3,82.1 205.5,82.2 205.6,82.5 205.8,84.9 206.0,82.5 206.2,82.1 206.3,81.2 206.5,81.0 206.7,80.3 206.9,82.7 207.0,82.4 207.2,81.3 207.4,80.7 207.5,82.1 207.7,81.8 207.9,80.9 208.1,82.8 208.2,82.6 208.4,82.4 208.6,83.3 208.7,81.7 208.9,84.0 209.1,81.3 209.3,83.0 209.4,83.2 209.6,82.2 209.8,82.9 210.0,81.1 210.1,80.8 210.3,82.3 210.5,81.7 210.6,83.2 210.8,82.6 211.0,83.2 211.2,82.9 211.3,82.8 211.5,82.6 211.7,82.1 211.9,82.0 212.0,84.8 212.2,80.6 212.4,82.4 212.5,83.7 212.7,83.0 212.9,84.1 213.1,83.2 213.2,81.2 213.4,82.2 213.6,81.0 213.8,83.7 213.9,84.2 214.1,82.1 214.3,83.2 214.4,82.2 214.6,81.0 214.8,82.1 215.0,80.9 215.1,82.0 215.3,82.9 215.5,83.5 215.6,84.1 215.8,82.3 216.0,82.9 216.2,83.1 216.3,83.3 216.5,79.6 216.7,81.8 216.9,83.6 217.0,81.5 217.2,83.0 217.4,83.6 217.5,80.6 217.7,82.5 217.9,83.0 218.1,82.7 218.2,81.1 218.4,83.1 218.6,82.1 218.8,83.6 218.9,83.2 219.1,82.2 219.3,82.9 219.4,82.0 219.6,82.0 219.8,81.0 220.0,82.5 220.1,83.7 220.3,82.9 220.5,82.8 220.7,82.1 220.8,82.2 221.0,83.6 221.2,81.2 221.3,85.0 221.5,82.7 221.7,85.2 221.9,84.1 222.0,82.4 222.2,83.6 222.4,83.1 222.5,83.3 222.7,83.7 222.9,82.2 223.1,82.2 223.2,82.4 223.4,81.4 223.6,82.6 223.8,83.1 223.9,83.1 224.1,83.1 224.3,82.4 224.4,83.7 224.6,80.7 224.8,82.4 225.0,82.5 225.1,83.8 225.3,83.6 225.5,83.7 225.7,82.9 225.8,83.9 226.0,81.8 226.2,83.0 226.3,80.6 226.5,84.7 226.7,84.6 226.9,82.3 227.0,82.0 227.2,80.7 227.4,81.3 227.6,83.1 227.7,82.8 227.9,81.4 228.1,82.4 228.2,82.2 228.4,83.4 228.6,83.7 228.8,82.7 228.9,83.1 229.1,83.0 229.3,80.8 229.4,83.2 229.6,82.9 229.8,83.8 230.0,81.1 230.1,83.8 230.3,82.3 230.5,83.3 230.7,84.3 230.8,81.5 231.0,81.7 231.2,84.1 231.3,81.8 231.5,82.0 231.7,83.7 231.9,82.9 232.0,83.9 232.2,83.4 232.4,83.1 232.6,84.1 232.7,85.4 232.9,83.0 233.1,84.7 233.2,84.3 233.4,83.2 233.6,83.6 233.8,82.1 233.9,82.5 234.1,83.4 234.3,83.1 234.5,84.5 234.6,81.8 234.8,82.9 235.0,82.5 235.1,83.0 235.3,84.4 235.5,81.9 235.7,84.1 235.8,82.6 236.0,82.9 236.2,84.2 236.3,82.9 236.5,83.9 236.7,83.3 236.9,83.0 237.0,82.9 237.2,81.4 237.4,82.5 237.6,83.4 237.7,83.5 237.9,81.7 238.1,84.3 238.2,83.9 238.4,81.9 238.6,82.2 238.8,83.8 238.9,81.5 239.1,82.5 239.3,83.2 239.5,83.2 239.6,83.3 239.8,83.7 240.0,82.5 240.1,82.8 240.3,85.4 240.5,81.9 240.7,82.9 240.8,83.5 241.0,82.7 241.2,84.6 241.4,83.4 241.5,84.1 241.7,80.7 241.9,84.6 242.0,84.6 242.2,82.6 242.4,84.7 242.6,83.7 242.7,84.4 242.9,85.3 243.1,83.5 243.2,82.4 243.4,83.4 243.6,82.1 243.8,82.6 243.9,82.7 244.1,82.7 244.3,84.6 244.5,84.3 244.6,82.6 244.8,84.6 245.0,81.8 245.1,82.8 245.3,83.4 245.5,84.7 245.7,84.2 245.8,84.0 246.0,84.8 246.2,84.3 246.4,84.9 246.5,82.7 246.7,81.8 246.9,83.1 247.0,84.4 247.2,83.8 247.4,84.5 247.6,84.3 247.7,84.1 247.9,84.4 248.1,82.9 248.3,84.7 248.4,82.6 248.6,83.5 248.8,82.2 248.9,84.1 249.1,82.1 249.3,85.0 249.5,82.3 249.6,83.9 249.8,83.5 250.0,82.8 250.1,84.9 250.3,83.2 250.5,85.1 250.7,82.6 250.8,82.9 251.0,81.7 251.2,84.2 251.4,84.6 251.5,83.9 251.7,83.5 251.9,82.8 252.0,86.0 252.2,84.4 252.4,81.9 252.6,83.4 252.7,81.1 252.9,85.3 253.1,85.7 253.3,85.2 253.4,83.7 253.6,83.1 253.8,82.3 253.9,84.3 254.1,83.0 254.3,83.4 254.5,83.1 254.6,83.5 254.8,84.7 255.0,85.4 255.2,83.9 255.3,83.8 255.5,82.7 255.7,82.6 255.8,82.7 256.0,84.7 256.2,84.1 256.4,84.8 256.5,84.2 256.7,83.4 256.9,82.6 257.0,83.5 257.2,82.4 257.4,85.8 257.6,84.1 257.7,83.5 257.9,85.8 258.1,83.5 258.3,84.4 258.4,83.7 258.6,84.2 258.8,83.5 258.9,84.4 259.1,85.3 259.3,82.7 259.5,81.7 259.6,85.2 259.8,84.1 260.0,84.8 260.2,83.6 260.3,85.4 260.5,85.7 260.7,82.8 260.8,84.6 261.0,83.3 261.2,82.4 261.4,83.6 261.5,84.5 261.7,82.6 261.9,82.7 262.1,85.2 262.2,84.0 262.4,84.4 262.6,82.8 262.7,83.3 262.9,84.1 263.1,84.1 263.3,84.1 263.4,85.5 263.6,84.1 263.8,82.5 263.9,83.1 264.1,83.9 264.3,85.2 264.5,83.3 264.6,83.6 264.8,83.9 265.0,83.3 265.2,83.2 265.3,83.7 265.5,84.9" fill="none" stroke="#11ee11" stroke-width="0.8" stroke-linejoin="round"/></g><g clip-path="url(#cla)"><polyline points="24.0,164.3 24.2,162.2 24.3,163.5 24.5,163.1 24.7,163.2 24.9,163.3 25.0,162.5 25.2,163.3 25.4,163.0 25.6,164.9 25.7,163.5 25.9,163.3 26.1,163.3 26.2,163.2 26.4,163.0 26.6,163.3 26.8,163.7 26.9,163.4 27.1,164.0 27.3,163.5 27.5,163.6 27.6,164.3 27.8,163.8 28.0,163.4 28.1,163.5 28.3,163.9 28.5,164.5 28.7,163.5 28.8,163.6 29.0,164.1 29.2,163.3 29.3,163.6 29.5,164.1 29.7,164.0 29.9,163.8 30.0,164.1 30.2,162.5 30.4,164.3 30.6,163.4 30.7,163.1 30.9,164.0 31.1,164.2 31.2,163.7 31.4,163.4 31.6,163.9 31.8,163.9 31.9,164.6 32.1,164.3 32.3,164.1 32.5,164.5 32.6,163.9 32.8,163.6 33.0,164.3 33.1,164.3 33.3,164.0 33.5,163.7 33.7,164.2 33.8,163.0 34.0,164.4 34.2,164.4 34.4,163.4 34.5,164.2 34.7,163.8 34.9,164.6 35.0,163.3 35.2,163.8 35.4,164.6 35.6,164.8 35.7,163.3 35.9,164.1 36.1,164.5 36.2,164.1 36.4,165.1 36.6,163.8 36.8,164.6 36.9,163.9 37.1,165.1 37.3,164.4 37.5,164.3 37.6,163.7 37.8,165.2 38.0,164.8 38.1,164.9 38.3,165.1 38.5,164.7 38.7,164.3 38.8,164.2 39.0,164.2 39.2,165.2 39.4,164.0 39.5,164.4 39.7,164.5 39.9,164.8 40.0,165.0 40.2,164.1 40.4,163.9 40.6,164.7 40.7,165.3 40.9,165.1 41.1,164.9 41.3,164.7 41.4,164.9 41.6,164.7 41.8,165.2 41.9,164.5 42.1,164.9 42.3,164.8 42.5,165.1 42.6,165.0 42.8,166.1 43.0,165.6 43.1,165.6 43.3,164.1 43.5,164.8 43.7,164.7 43.8,165.3 44.0,164.0 44.2,165.6 44.4,165.5 44.5,164.5 44.7,164.6 44.9,164.7 45.0,165.1 45.2,165.4 45.4,166.1 45.6,165.1 45.7,165.5 45.9,165.2 46.1,166.0 46.3,165.5 46.4,165.8 46.6,164.7 46.8,165.1 46.9,164.9 47.1,165.9 47.3,165.6 47.5,165.1 47.6,165.1 47.8,165.5 48.0,165.0 48.2,164.9 48.3,165.5 48.5,166.4 48.7,165.2 48.8,165.1 49.0,164.8 49.2,164.8 49.4,165.6 49.5,165.8 49.7,165.4 49.9,165.6 50.0,165.5 50.2,165.5 50.4,164.8 50.6,165.2 50.7,165.5 50.9,165.1 51.1,165.3 51.3,165.1 51.4,165.3 51.6,165.9 51.8,165.3 51.9,165.5 52.1,165.9 52.3,165.8 52.5,166.3 52.6,164.6 52.8,166.0 53.0,165.4 53.2,165.6 53.3,166.0 53.5,166.1 53.7,166.1 53.8,165.7 54.0,166.3 54.2,165.5 54.4,165.6 54.5,166.0 54.7,165.4 54.9,166.6 55.1,166.1 55.2,166.6 55.4,165.7 55.6,165.5 55.7,165.8 55.9,166.0 56.1,165.4 56.3,165.9 56.4,165.7 56.6,166.4 56.8,165.4 56.9,166.2 57.1,165.4 57.3,165.3 57.5,165.4 57.6,165.2 57.8,165.8 58.0,166.2 58.2,165.8 58.3,166.0 58.5,166.5 58.7,165.9 58.8,165.9 59.0,165.6 59.2,165.1 59.4,166.1 59.5,165.0 59.7,166.1 59.9,165.8 60.1,166.3 60.2,165.8 60.4,165.4 60.6,165.9 60.7,165.5 60.9,165.7 61.1,165.8 61.3,165.7 61.4,165.7 61.6,165.4 61.8,165.7 62.0,164.8 62.1,165.7 62.3,165.2 62.5,166.3 62.6,166.3 62.8,164.9 63.0,165.8 63.2,165.7 63.3,165.3 63.5,166.0 63.7,165.5 63.8,165.0 64.0,165.6 64.2,165.7 64.4,165.8 64.5,165.2 64.7,166.0 64.9,166.0 65.1,165.2 65.2,165.4 65.4,165.6 65.6,165.4 65.7,166.5 65.9,165.7 66.1,165.2 66.3,165.3 66.4,165.6 66.6,166.6 66.8,165.5 67.0,165.6 67.1,165.8 67.3,165.5 67.5,166.5 67.6,165.3 67.8,165.8 68.0,165.5 68.2,165.7 68.3,164.9 68.5,166.2 68.7,165.3 68.9,165.3 69.0,164.9 69.2,164.9 69.4,165.5 69.5,165.6 69.7,165.5 69.9,165.6 70.1,165.3 70.2,165.0 70.4,165.3 70.6,165.1 70.7,164.7 70.9,165.0 71.1,165.2 71.3,164.6 71.4,164.2 71.6,164.6 71.8,165.0 72.0,163.9 72.1,163.8 72.3,163.5 72.5,164.0 72.6,162.3 72.8,163.1 73.0,163.1 73.2,161.9 73.3,162.5 73.5,161.5 73.7,160.4 73.9,159.9 74.0,158.1 74.2,157.2 74.4,156.6 74.5,153.1 74.7,151.4 74.9,146.9 75.1,142.8 75.2,136.8 75.4,129.3 75.6,122.8 75.8,115.4 75.9,107.1 76.1,100.3 76.3,96.4 76.4,94.2 76.6,95.4 76.8,100.6 77.0,108.0 77.1,115.1 77.3,123.5 77.5,131.0 77.6,136.8 77.8,141.8 78.0,146.3 78.2,150.6 78.3,153.9 78.5,155.9 78.7,157.8 78.9,158.7 79.0,160.0 79.2,160.5 79.4,161.2 79.5,161.3 79.7,161.6 79.9,162.4 80.1,162.5 80.2,162.8 80.4,163.8 80.6,163.7 80.8,165.2 80.9,164.5 81.1,163.9 81.3,164.7 81.4,164.6 81.6,164.3 81.8,165.2 82.0,164.4 82.1,163.5 82.3,165.3 82.5,164.7 82.7,165.8 82.8,164.9 83.0,164.7 83.2,166.0 83.3,164.8 83.5,165.5 83.7,166.1 83.9,165.5 84.0,165.4 84.2,165.6 84.4,165.9 84.5,165.2 84.7,165.9 84.9,165.9 85.1,166.7 85.2,165.5 85.4,165.3 85.6,166.1 85.8,165.6 85.9,165.9 86.1,165.9 86.3,166.3 86.4,165.5 86.6,165.8 86.8,164.7 87.0,165.5 87.1,166.6 87.3,165.6 87.5,165.6 87.7,165.4 87.8,166.2 88.0,166.0 88.2,165.4 88.3,166.3 88.5,166.1 88.7,166.3 88.9,165.7 89.0,166.8 89.2,166.2 89.4,166.0 89.6,165.8 89.7,166.0 89.9,166.5 90.1,166.0 90.2,166.6 90.4,166.4 90.6,166.7 90.8,166.5 90.9,166.1 91.1,165.3 91.3,166.3 91.4,166.5 91.6,166.2 91.8,166.4 92.0,165.9 92.1,166.0 92.3,165.7 92.5,166.8 92.7,166.2 92.8,166.0 93.0,165.6 93.2,166.1 93.3,166.8 93.5,166.4 93.7,165.9 93.9,166.8 94.0,166.8 94.2,166.7 94.4,166.6 94.6,166.7 94.7,166.5 94.9,166.6 95.1,165.9 95.2,166.9 95.4,166.3 95.6,167.2 95.8,165.3 95.9,166.6 96.1,166.7 96.3,166.1 96.5,166.5 96.6,166.6 96.8,166.5 97.0,166.0 97.1,166.2 97.3,166.7 97.5,166.8 97.7,166.3 97.8,166.3 98.0,166.4 98.2,166.7 98.3,165.8 98.5,165.7 98.7,166.3 98.9,165.8 99.0,166.0 99.2,166.3 99.4,166.5 99.6,165.8 99.7,166.7 99.9,165.5 100.1,166.5 100.2,165.6 100.4,165.7 100.6,166.6 100.8,166.1 100.9,166.0 101.1,166.1 101.3,166.5 101.5,166.3 101.6,166.3 101.8,166.8 102.0,166.0 102.1,166.1 102.3,166.1 102.5,166.8 102.7,166.8 102.8,166.9 103.0,166.3 103.2,166.3 103.4,166.7 103.5,166.1 103.7,166.7 103.9,166.6 104.0,166.0 104.2,166.3 104.4,166.3 104.6,167.1 104.7,167.5 104.9,166.3 105.1,166.3 105.2,165.3 105.4,166.4 105.6,166.3 105.8,165.8 105.9,166.7 106.1,165.6 106.3,166.2 106.5,166.4 106.6,165.8 106.8,166.7 107.0,166.8 107.1,165.7 107.3,165.7 107.5,166.6 107.7,166.3 107.8,165.8 108.0,166.2 108.2,166.2 108.4,166.2 108.5,166.7 108.7,166.5 108.9,167.1 109.0,166.9 109.2,166.6 109.4,166.8 109.6,166.9 109.7,166.6 109.9,165.7 110.1,166.6 110.3,166.3 110.4,167.0 110.6,166.3 110.8,166.5 110.9,166.4 111.1,167.0 111.3,166.3 111.5,166.1 111.6,166.3 111.8,166.0 112.0,166.2 112.1,166.1 112.3,166.3 112.5,167.0 112.7,165.9 112.8,166.1 113.0,166.0 113.2,166.3 113.4,165.5 113.5,165.7 113.7,166.0 113.9,166.2 114.0,165.9 114.2,165.7 114.4,165.5 114.6,166.0 114.7,166.4 114.9,165.9 115.1,165.8 115.3,165.8 115.4,165.1 115.6,165.4 115.8,165.3 115.9,165.5 116.1,165.2 116.3,164.6 116.5,165.5 116.6,165.6 116.8,164.6 117.0,164.7 117.2,164.3 117.3,164.3 117.5,162.9 117.7,163.9 117.8,162.5 118.0,162.8 118.2,161.6 118.4,160.7 118.5,160.0 118.7,159.7 118.9,157.9 119.0,157.1 119.2,156.0 119.4,154.4 119.6,154.8 119.7,153.5 119.9,152.6 120.1,152.6 120.3,151.5 120.4,152.1 120.6,153.4 120.8,153.7 120.9,153.2 121.1,153.7 121.3,155.8 121.5,157.8 121.6,158.1 121.8,159.2 122.0,160.4 122.2,160.5 122.3,161.7 122.5,162.6 122.7,163.0 122.8,163.4 123.0,163.4 123.2,164.2 123.4,164.1 123.5,165.1 123.7,165.9 123.9,164.6 124.1,164.1 124.2,165.0 124.4,165.5 124.6,165.9 124.7,166.0 124.9,165.2 125.1,165.3 125.3,166.3 125.4,165.3 125.6,166.3 125.8,165.8 125.9,166.3 126.1,166.3 126.3,166.3 126.5,166.4 126.6,165.6 126.8,166.2 127.0,166.1 127.2,166.3 127.3,166.7 127.5,166.1 127.7,165.9 127.8,165.9 128.0,166.1 128.2,166.6 128.4,165.9 128.5,166.8 128.7,166.4 128.9,166.2 129.1,165.7 129.2,166.4 129.4,166.7 129.6,165.6 129.7,166.9 129.9,167.1 130.1,166.5 130.3,166.6 130.4,167.5 130.6,167.0 130.8,166.0 131.0,166.4 131.1,166.4 131.3,166.4 131.5,165.4 131.6,166.8 131.8,166.2 132.0,166.5 132.2,166.4 132.3,166.9 132.5,166.3 132.7,166.1 132.8,166.7 133.0,167.1 133.2,166.3 133.4,167.1 133.5,166.6 133.7,166.3 133.9,167.2 134.1,166.1 134.2,167.0 134.4,166.3 134.6,166.7 134.7,166.0 134.9,166.1 135.1,167.0 135.3,166.6 135.4,166.5 135.6,166.3 135.8,166.7 136.0,165.9 136.1,166.0 136.3,166.5 136.5,166.2 136.6,166.2 136.8,166.5 137.0,166.5 137.2,166.4 137.3,167.3 137.5,167.0 137.7,167.1 137.9,166.5 138.0,166.3 138.2,165.9 138.4,166.4 138.5,165.6 138.7,166.3 138.9,166.9 139.1,167.3 139.2,167.0 139.4,166.2 139.6,166.8 139.7,166.2 139.9,166.9 140.1,166.5 140.3,166.9 140.4,167.7 140.6,167.0 140.8,167.6 141.0,166.6 141.1,166.4 141.3,167.1 141.5,167.3 141.6,166.3 141.8,166.6 142.0,165.9 142.2,166.4 142.3,166.9 142.5,166.5 142.7,166.3 142.9,165.9 143.0,166.7 143.2,166.9 143.4,166.8 143.5,166.6 143.7,165.9 143.9,167.3 144.1,166.5 144.2,166.4 144.4,166.8 144.6,165.5 144.8,166.4 144.9,166.4 145.1,166.6 145.3,167.1 145.4,166.7 145.6,165.6 145.8,166.3 146.0,166.5 146.1,166.5 146.3,165.8 146.5,165.6 146.6,166.6 146.8,166.5 147.0,166.3 147.2,165.6 147.3,167.1 147.5,165.0 147.7,166.1 147.9,167.2 148.0,166.2 148.2,166.3 148.4,165.7 148.5,166.8 148.7,165.6 148.9,166.2 149.1,166.2 149.2,165.6 149.4,166.4 149.6,165.3 149.8,165.6 149.9,165.9 150.1,165.6 150.3,166.0 150.4,166.1 150.6,165.5 150.8,165.3 151.0,165.2 151.1,165.2 151.3,165.6 151.5,165.0 151.7,165.1 151.8,164.7 152.0,164.2 152.2,164.7 152.3,163.5 152.5,163.6 152.7,163.8 152.9,162.0 153.0,161.8 153.2,160.3 153.4,159.7 153.5,158.2 153.7,157.4 153.9,155.8 154.1,154.5 154.2,153.4 154.4,151.2 154.6,149.7 154.8,148.1 154.9,147.1 155.1,146.5 155.3,146.4 155.4,148.1 155.6,150.2 155.8,151.2 156.0,152.5 156.1,155.2 156.3,155.8 156.5,157.2 156.7,158.3 156.8,159.5 157.0,160.8 157.2,162.7 157.3,162.4 157.5,162.6 157.7,163.3 157.9,163.8 158.0,163.5 158.2,164.6 158.4,165.1 158.6,165.1 158.7,165.4 158.9,164.7 159.1,164.6 159.2,166.0 159.4,166.0 159.6,164.9 159.8,165.8 159.9,165.8 160.1,166.1 160.3,166.0 160.4,165.7 160.6,166.0 160.8,166.1 161.0,166.0 161.1,165.2 161.3,164.7 161.5,165.8 161.7,165.4 161.8,166.3 162.0,166.5 162.2,166.3 162.3,166.1 162.5,166.3 162.7,166.8 162.9,165.9 163.0,166.7 163.2,166.6 163.4,166.4 163.6,167.0 163.7,166.0 163.9,166.7 164.1,165.9 164.2,166.0 164.4,165.9 164.6,166.5 164.8,165.9 164.9,166.4 165.1,165.8 165.3,166.8 165.5,167.2 165.6,166.4 165.8,167.1 166.0,166.6 166.1,167.3 166.3,166.4 166.5,165.6 166.7,167.0 166.8,166.3 167.0,165.8 167.2,166.0 167.3,165.6 167.5,166.2 167.7,165.8 167.9,166.9 168.0,166.5 168.2,165.5 168.4,165.5 168.6,165.9 168.7,165.3 168.9,166.1 169.1,166.1 169.2,165.8 169.4,165.8 169.6,166.3 169.8,166.7 169.9,166.7 170.1,166.0 170.3,166.3 170.5,165.5 170.6,166.0 170.8,165.3 171.0,166.0 171.1,165.1 171.3,165.1 171.5,165.5 171.7,165.7 171.8,164.7 172.0,164.9 172.2,165.1 172.4,165.0 172.5,164.3 172.7,164.5 172.9,164.1 173.0,164.5 173.2,163.8 173.4,162.5 173.6,161.7 173.7,162.1 173.9,162.0 174.1,160.9 174.2,160.4 174.4,159.0 174.6,157.7 174.8,157.7 174.9,156.4 175.1,155.8 175.3,154.0 175.5,154.0 175.6,153.2 175.8,153.6 176.0,153.0 176.1,153.2 176.3,153.6 176.5,155.0 176.7,155.1 176.8,155.3 177.0,155.7 177.2,156.0 177.4,157.4 177.5,156.0 177.7,156.3 177.9,156.7 178.0,156.5 178.2,155.2 178.4,154.9 178.6,154.1 178.7,153.4 178.9,152.3 179.1,152.6 179.3,151.9 179.4,152.9 179.6,152.4 179.8,154.4 179.9,154.6 180.1,155.7 180.3,157.8 180.5,158.4 180.6,160.0 180.8,160.3 181.0,162.3 181.1,162.3 181.3,162.4 181.5,163.5 181.7,164.2 181.8,163.9 182.0,164.7 182.2,165.7 182.4,165.3 182.5,165.1 182.7,165.0 182.9,165.7 183.0,164.8 183.2,164.2 183.4,165.4 183.6,165.3 183.7,166.6 183.9,166.0 184.1,165.5 184.3,165.5 184.4,166.3 184.6,165.7 184.8,165.9 184.9,166.1 185.1,166.3 185.3,166.3 185.5,166.3 185.6,166.9 185.8,167.1 186.0,165.6 186.2,167.6 186.3,166.5 186.5,167.0 186.7,166.1 186.8,166.6 187.0,166.6 187.2,166.6 187.4,166.9 187.5,166.8 187.7,166.1 187.9,166.5 188.0,166.9 188.2,166.9 188.4,166.4 188.6,166.5 188.7,166.5 188.9,166.1 189.1,166.0 189.3,167.3 189.4,166.5 189.6,166.7 189.8,166.3 189.9,167.2 190.1,167.5 190.3,166.6 190.5,166.9 190.6,166.3 190.8,167.5 191.0,167.1 191.2,166.3 191.3,167.3 191.5,166.9 191.7,166.9 191.8,166.9 192.0,166.4 192.2,166.5 192.4,167.0 192.5,166.7 192.7,166.3 192.9,167.6 193.1,166.6 193.2,166.5 193.4,166.4 193.6,167.0 193.7,167.2 193.9,166.8 194.1,167.1 194.3,166.1 194.4,166.6 194.6,166.5 194.8,166.7 194.9,167.0 195.1,165.8 195.3,168.1 195.5,166.3 195.6,166.9 195.8,167.1 196.0,167.1 196.2,166.8 196.3,165.4 196.5,166.2 196.7,167.1 196.8,166.3 197.0,166.2 197.2,165.6 197.4,167.2 197.5,166.9 197.7,166.3 197.9,166.6 198.1,166.6 198.2,166.1 198.4,166.5 198.6,166.7 198.7,166.9 198.9,167.2 199.1,166.6 199.3,166.4 199.4,166.7 199.6,166.3 199.8,166.0 200.0,167.0 200.1,166.3 200.3,166.5 200.5,166.7 200.6,165.9 200.8,166.6 201.0,166.5 201.2,166.2 201.3,166.4 201.5,165.8 201.7,165.1 201.8,165.9 202.0,165.6 202.2,166.3 202.4,165.9 202.5,165.4 202.7,165.5 202.9,165.9 203.1,165.6 203.2,165.0 203.4,164.8 203.6,164.1 203.7,163.8 203.9,163.7 204.1,162.9 204.3,162.6 204.4,161.3 204.6,160.5 204.8,159.8 205.0,159.7 205.1,159.9 205.3,159.3 205.5,157.8 205.6,157.3 205.8,158.3 206.0,158.2 206.2,157.7 206.3,159.2 206.5,159.4 206.7,160.5 206.9,160.7 207.0,161.6 207.2,162.0 207.4,162.0 207.5,162.9 207.7,163.2 207.9,164.3 208.1,163.8 208.2,163.9 208.4,165.2 208.6,165.7 208.7,166.0 208.9,166.0 209.1,165.0 209.3,165.5 209.4,165.7 209.6,166.0 209.8,165.1 210.0,166.2 210.1,166.4 210.3,165.9 210.5,166.4 210.6,166.9 210.8,166.4 211.0,166.9 211.2,166.9 211.3,166.7 211.5,166.7 211.7,166.4 211.9,167.1 212.0,166.4 212.2,166.3 212.4,166.9 212.5,166.3 212.7,166.9 212.9,167.1 213.1,166.7 213.2,166.7 213.4,167.1 213.6,167.1 213.8,166.0 213.9,166.1 214.1,167.3 214.3,166.9 214.4,165.8 214.6,166.2 214.8,166.8 215.0,166.3 215.1,167.0 215.3,166.8 215.5,167.0 215.6,166.3 215.8,167.1 216.0,167.7 216.2,166.5 216.3,167.4 216.5,167.3 216.7,167.1 216.9,166.8 217.0,166.3 217.2,166.4 217.4,167.2 217.5,167.3 217.7,167.4 217.9,167.3 218.1,167.2 218.2,166.6 218.4,166.3 218.6,166.9 218.8,167.0 218.9,166.8 219.1,166.1 219.3,166.6 219.4,166.1 219.6,166.9 219.8,166.3 220.0,166.7 220.1,166.9 220.3,166.8 220.5,167.4 220.7,166.3 220.8,165.8 221.0,167.2 221.2,167.4 221.3,167.4 221.5,166.8 221.7,166.9 221.9,166.7 222.0,166.1 222.2,166.4 222.4,166.8 222.5,166.3 222.7,167.4 222.9,165.8 223.1,166.3 223.2,166.9 223.4,166.1 223.6,165.8 223.8,165.6 223.9,165.8 224.1,166.7 224.3,166.0 224.4,165.9 224.6,165.3 224.8,165.7 225.0,165.2 225.1,164.4 225.3,164.4 225.5,164.4 225.7,164.5 225.8,163.6 226.0,163.5 226.2,163.8 226.3,162.3 226.5,161.8 226.7,162.7 226.9,162.4 227.0,162.2 227.2,162.4 227.4,162.4 227.6,163.0 227.7,162.9 227.9,163.8 228.1,163.2 228.2,163.6 228.4,164.3 228.6,164.2 228.8,164.9 228.9,164.7 229.1,164.6 229.3,165.0 229.4,164.7 229.6,164.2 229.8,164.4 230.0,164.4 230.1,164.4 230.3,164.5 230.5,164.6 230.7,164.2 230.8,164.5 231.0,164.0 231.2,163.0 231.3,163.5 231.5,163.1 231.7,162.1 231.9,162.3 232.0,162.7 232.2,162.3 232.4,162.9 232.6,162.8 232.7,163.3 232.9,163.1 233.1,163.8 233.2,163.8 233.4,164.6 233.6,163.8 233.8,165.0 233.9,165.7 234.1,165.6 234.3,165.6 234.5,166.0 234.6,165.5 234.8,165.7 235.0,166.0 235.1,166.2 235.3,166.8 235.5,166.0 235.7,166.9 235.8,165.8 236.0,166.2 236.2,166.6 236.3,167.1 236.5,166.4 236.7,165.7 236.9,166.9 237.0,166.7 237.2,166.2 237.4,166.3 237.6,166.4 237.7,166.8 237.9,167.1 238.1,166.1 238.2,167.8 238.4,166.8 238.6,166.7 238.8,167.1 238.9,166.9 239.1,167.9 239.3,167.3 239.5,166.7 239.6,166.7 239.8,166.6 240.0,166.7 240.1,167.2 240.3,166.6 240.5,167.6 240.7,166.8 240.8,166.8 241.0,167.3 241.2,165.9 241.4,166.4 241.5,167.1 241.7,166.8 241.9,166.8 242.0,167.0 242.2,166.5 242.4,166.7 242.6,166.2 242.7,165.9 242.9,167.3 243.1,166.3 243.2,166.4 243.4,167.3 243.6,167.1 243.8,166.4 243.9,166.3 244.1,166.5 244.3,166.1 244.5,166.7 244.6,166.5 244.8,166.4 245.0,166.6 245.1,166.5 245.3,166.9 245.5,166.6 245.7,165.0 245.8,166.0 246.0,164.9 246.2,164.6 246.4,165.3 246.5,164.4 246.7,164.2 246.9,164.5 247.0,163.4 247.2,162.9 247.4,163.1 247.6,163.1 247.7,162.3 247.9,161.0 248.1,161.1 248.3,161.1 248.4,161.9 248.6,161.4 248.8,161.4 248.9,161.7 249.1,161.3 249.3,162.0 249.5,162.3 249.6,162.1 249.8,162.9 250.0,163.6 250.1,163.2 250.3,164.4 250.5,164.8 250.7,165.2 250.8,164.7 251.0,165.3 251.2,166.1 251.4,166.0 251.5,165.5 251.7,166.1 251.9,166.7 252.0,166.2 252.2,166.5 252.4,167.6 252.6,166.5 252.7,166.5 252.9,166.1 253.1,166.3 253.3,167.3 253.4,166.7 253.6,166.2 253.8,166.4 253.9,166.8 254.1,167.2 254.3,166.5 254.5,167.2 254.6,166.7 254.8,167.1 255.0,167.2 255.2,167.2 255.3,166.8 255.5,166.9 255.7,167.2 255.8,166.4 256.0,167.1 256.2,167.2 256.4,167.5 256.5,167.0 256.7,167.0 256.9,167.1 257.0,166.7 257.2,167.0 257.4,167.3 257.6,167.2 257.7,166.6 257.9,166.9 258.1,166.1 258.3,167.5 258.4,166.9 258.6,167.2 258.8,166.6 258.9,167.1 259.1,167.3 259.3,167.6 259.5,166.5 259.6,167.5 259.8,167.1 260.0,166.8 260.2,167.4 260.3,167.0 260.5,167.0 260.7,166.8 260.8,167.3 261.0,167.2 261.2,167.1 261.4,166.7 261.5,166.9 261.7,167.4 261.9,167.7 262.1,167.2 262.2,167.8 262.4,167.2 262.6,166.7 262.7,167.5 262.9,166.8 263.1,167.4 263.3,167.7 263.4,167.1 263.6,167.2 263.8,168.3 263.9,167.3 264.1,167.3 264.3,167.6 264.5,167.2 264.6,167.2 264.8,167.4 265.0,166.1 265.2,167.8 265.3,166.7 265.5,166.7" fill="none" stroke="#ff0000" stroke-width="1.0" stroke-linejoin="round"/></g><g clip-path="url(#clb)"><polyline points="300.9,41.3 301.1,41.5 301.2,42.3 301.4,41.9 301.6,40.9 301.8,41.6 301.9,41.3 302.1,41.7 302.3,41.0 302.5,41.7 302.6,41.7 302.8,42.2 303.0,41.7 303.1,41.8 303.3,41.0 303.5,42.5 303.7,40.8 303.8,42.0 304.0,41.5 304.2,41.3 304.4,41.3 304.5,41.3 304.7,41.8 304.9,41.6 305.0,42.2 305.2,40.9 305.4,41.6 305.6,41.3 305.7,41.9 305.9,40.8 306.1,41.5 306.3,41.7 306.4,41.0 306.6,42.0 306.8,41.7 306.9,42.0 307.1,42.0 307.3,41.2 307.5,41.3 307.6,41.6 307.8,41.9 308.0,42.0 308.2,41.4 308.3,41.4 308.5,41.3 308.7,41.4 308.8,41.6 309.0,41.6 309.2,42.5 309.4,41.5 309.5,41.5 309.7,41.8 309.9,41.3 310.1,41.5 310.2,41.7 310.4,42.0 310.6,41.1 310.7,42.2 310.9,41.5 311.1,41.7 311.3,42.0 311.4,41.9 311.6,42.1 311.8,41.7 311.9,41.7 312.1,41.8 312.3,41.3 312.5,42.2 312.6,41.4 312.8,41.2 313.0,42.5 313.2,41.6 313.3,41.2 313.5,42.4 313.7,41.6 313.8,42.1 314.0,41.4 314.2,41.6 314.4,41.0 314.5,40.9 314.7,41.3 314.9,41.7 315.1,42.0 315.2,42.7 315.4,41.3 315.6,42.1 315.7,41.5 315.9,41.7 316.1,41.1 316.3,41.1 316.4,41.4 316.6,41.2 316.8,41.7 317.0,41.4 317.1,42.2 317.3,41.8 317.5,41.8 317.6,42.2 317.8,41.9 318.0,41.7 318.2,41.7 318.3,41.7 318.5,42.2 318.7,42.1 318.9,41.9 319.0,42.1 319.2,41.5 319.4,42.0 319.5,41.2 319.7,42.3 319.9,41.8 320.1,41.8 320.2,42.0 320.4,41.8 320.6,41.7 320.8,42.2 320.9,41.8 321.1,41.4 321.3,41.9 321.4,41.1 321.6,42.4 321.8,41.7 322.0,41.8 322.1,42.7 322.3,42.6 322.5,41.8 322.7,42.0 322.8,42.2 323.0,42.4 323.2,41.7 323.3,41.8 323.5,42.3 323.7,41.9 323.9,42.1 324.0,42.0 324.2,41.3 324.4,41.4 324.6,40.7 324.7,41.7 324.9,42.3 325.1,41.3 325.2,42.3 325.4,42.2 325.6,41.8 325.8,41.8 325.9,41.8 326.1,41.4 326.3,41.7 326.5,41.8 326.6,42.0 326.8,42.1 327.0,41.5 327.1,42.1 327.3,41.5 327.5,41.7 327.7,41.9 327.8,41.8 328.0,41.7 328.2,41.9 328.4,41.6 328.5,41.5 328.7,41.7 328.9,42.2 329.0,41.8 329.2,42.6 329.4,41.9 329.6,40.6 329.7,41.6 329.9,42.5 330.1,41.8 330.2,41.6 330.4,41.5 330.6,42.3 330.8,42.2 330.9,42.1 331.1,42.0 331.3,42.4 331.5,42.1 331.6,41.3 331.8,42.1 332.0,41.9 332.1,41.8 332.3,42.1 332.5,41.8 332.7,40.6 332.8,42.4 333.0,42.2 333.2,41.7 333.4,41.6 333.5,41.9 333.7,41.3 333.9,41.9 334.0,41.7 334.2,41.7 334.4,41.4 334.6,41.5 334.7,42.2 334.9,42.3 335.1,42.0 335.3,41.8 335.4,41.4 335.6,42.1 335.8,42.4 335.9,41.1 336.1,42.2 336.3,40.9 336.5,41.6 336.6,41.9 336.8,41.2 337.0,41.2 337.2,41.8 337.3,42.1 337.5,41.6 337.7,42.3 337.8,41.4 338.0,42.5 338.2,41.8 338.4,41.8 338.5,42.0 338.7,41.9 338.9,42.5 339.1,42.6 339.2,41.9 339.4,41.6 339.6,41.2 339.7,41.4 339.9,41.7 340.1,41.7 340.3,41.7 340.4,41.7 340.6,41.9 340.8,41.1 341.0,41.2 341.1,42.1 341.3,42.0 341.5,41.4 341.6,42.1 341.8,41.3 342.0,41.5 342.2,40.9 342.3,41.9 342.5,41.6 342.7,42.0 342.9,41.8 343.0,41.5 343.2,41.6 343.4,42.0 343.5,41.4 343.7,41.4 343.9,41.4 344.1,41.7 344.2,41.7 344.4,42.1 344.6,41.3 344.8,41.8 344.9,41.0 345.1,41.5 345.3,41.3 345.4,41.9 345.6,41.4 345.8,40.9 346.0,41.3 346.1,41.1 346.3,40.8 346.5,40.8 346.7,40.5 346.8,41.9 347.0,40.8 347.2,41.0 347.3,40.1 347.5,40.1 347.7,40.3 347.9,40.2 348.0,40.5 348.2,39.7 348.4,40.2 348.5,40.4 348.7,39.3 348.9,39.8 349.1,38.9 349.2,39.2 349.4,39.0 349.6,39.3 349.8,38.0 349.9,38.1 350.1,38.1 350.3,36.8 350.4,36.9 350.6,36.1 350.8,35.6 351.0,35.6 351.1,35.0 351.3,35.1 351.5,34.0 351.7,33.2 351.8,31.8 352.0,30.9 352.2,30.2 352.3,28.4 352.5,29.1 352.7,27.3 352.9,26.3 353.0,25.8 353.2,25.7 353.4,25.4 353.6,24.5 353.7,24.7 353.9,24.6 354.1,24.5 354.2,25.4 354.4,26.0 354.6,26.1 354.8,28.0 354.9,27.8 355.1,29.4 355.3,29.8 355.5,30.8 355.6,31.6 355.8,33.0 356.0,33.0 356.1,34.1 356.3,35.5 356.5,35.2 356.7,36.0 356.8,36.8 357.0,36.7 357.2,37.6 357.4,37.5 357.5,38.4 357.7,38.5 357.9,38.4 358.0,39.6 358.2,39.2 358.4,39.4 358.6,39.3 358.7,39.7 358.9,40.0 359.1,40.2 359.3,40.7 359.4,39.9 359.6,40.4 359.8,41.1 359.9,40.8 360.1,41.0 360.3,41.5 360.5,41.1 360.6,41.2 360.8,41.1 361.0,41.9 361.2,41.7 361.3,41.0 361.5,41.6 361.7,40.9 361.8,41.9 362.0,41.8 362.2,41.5 362.4,41.4 362.5,40.9 362.7,42.0 362.9,41.6 363.1,41.6 363.2,42.0 363.4,41.5 363.6,41.6 363.7,41.6 363.9,41.3 364.1,42.9 364.3,41.8 364.4,41.8 364.6,42.3 364.8,40.7 365.0,42.0 365.1,42.0 365.3,41.7 365.5,42.2 365.6,41.3 365.8,42.1 366.0,42.5 366.2,41.2 366.3,41.6 366.5,42.1 366.7,42.1 366.8,41.9 367.0,42.3 367.2,42.3 367.4,41.7 367.5,42.2 367.7,41.7 367.9,41.4 368.1,41.3 368.2,42.6 368.4,42.2 368.6,43.0 368.7,41.7 368.9,42.1 369.1,42.4 369.3,42.2 369.4,42.5 369.6,42.4 369.8,42.1 370.0,41.4 370.1,42.0 370.3,43.1 370.5,42.7 370.6,42.9 370.8,42.2 371.0,42.3 371.2,42.1 371.3,42.6 371.5,42.5 371.7,42.6 371.9,43.2 372.0,42.1 372.2,42.8 372.4,41.9 372.5,42.9 372.7,42.3 372.9,42.5 373.1,42.6 373.2,43.2 373.4,42.5 373.6,42.3 373.8,42.1 373.9,42.7 374.1,42.2 374.3,42.4 374.4,42.6 374.6,42.8 374.8,42.3 375.0,42.9 375.1,43.3 375.3,42.0 375.5,43.2 375.7,43.5 375.8,42.4 376.0,42.9 376.2,42.1 376.3,42.8 376.5,42.5 376.7,42.8 376.9,42.3 377.0,42.3 377.2,42.5 377.4,42.4 377.6,42.4 377.7,42.6 377.9,42.3 378.1,42.6 378.2,42.9 378.4,41.8 378.6,42.8 378.8,42.4 378.9,42.3 379.1,42.2 379.3,42.4 379.5,42.4 379.6,42.9 379.8,42.2 380.0,43.2 380.1,42.4 380.3,43.0 380.5,43.2 380.7,42.3 380.8,43.2 381.0,43.7 381.2,42.6 381.4,43.0 381.5,42.8 381.7,42.9 381.9,42.8 382.0,42.6 382.2,43.1 382.4,43.2 382.6,42.9 382.7,43.5 382.9,43.3 383.1,43.2 383.3,42.6 383.4,43.7 383.6,43.4 383.8,42.1 383.9,42.5 384.1,42.7 384.3,43.3 384.5,43.4 384.6,42.8 384.8,43.0 385.0,43.2 385.1,42.4 385.3,43.2 385.5,42.8 385.7,43.0 385.8,42.9 386.0,42.5 386.2,42.6 386.4,43.0 386.5,43.0 386.7,42.9 386.9,43.4 387.0,42.8 387.2,42.5 387.4,42.9 387.6,42.9 387.7,42.9 387.9,43.5 388.1,43.2 388.3,43.4 388.4,43.3 388.6,42.9 388.8,43.4 388.9,42.9 389.1,43.1 389.3,42.6 389.5,43.1 389.6,42.9 389.8,43.2 390.0,43.7 390.2,44.0 390.3,43.4 390.5,43.0 390.7,43.3 390.8,43.1 391.0,42.7 391.2,42.9 391.4,42.8 391.5,42.7 391.7,43.5 391.9,42.7 392.1,42.7 392.2,43.1 392.4,42.5 392.6,42.3 392.7,42.4 392.9,42.8 393.1,42.7 393.3,42.6 393.4,42.3 393.6,42.0 393.8,42.6 394.0,41.6 394.1,42.0 394.3,41.4 394.5,41.7 394.6,41.7 394.8,42.1 395.0,40.3 395.2,41.9 395.3,40.9 395.5,41.2 395.7,41.3 395.9,40.5 396.0,40.7 396.2,40.8 396.4,40.4 396.5,40.1 396.7,40.4 396.9,40.3 397.1,39.7 397.2,40.8 397.4,40.4 397.6,39.3 397.8,40.0 397.9,41.1 398.1,41.2 398.3,40.8 398.4,40.1 398.6,40.8 398.8,41.5 399.0,41.3 399.1,41.2 399.3,41.2 399.5,41.9 399.7,41.7 399.8,42.0 400.0,42.2 400.2,42.8 400.3,42.3 400.5,42.5 400.7,41.8 400.9,43.0 401.0,43.0 401.2,42.7 401.4,41.9 401.6,42.7 401.7,43.0 401.9,43.8 402.1,43.3 402.2,43.4 402.4,43.5 402.6,43.7 402.8,42.7 402.9,42.9 403.1,42.8 403.3,43.2 403.4,43.2 403.6,43.4 403.8,42.9 404.0,43.4 404.1,43.0 404.3,44.2 404.5,43.2 404.7,44.4 404.8,44.1 405.0,42.9 405.2,43.8 405.3,43.7 405.5,42.8 405.7,43.7 405.9,43.4 406.0,43.6 406.2,43.1 406.4,43.4 406.6,43.6 406.7,43.4 406.9,43.2 407.1,43.4 407.2,43.1 407.4,43.6 407.6,42.5 407.8,44.1 407.9,43.5 408.1,43.7 408.3,43.9 408.5,43.0 408.6,44.4 408.8,43.1 409.0,43.7 409.1,43.7 409.3,44.1 409.5,43.5 409.7,43.0 409.8,43.7 410.0,42.6 410.2,43.5 410.4,43.4 410.5,44.2 410.7,43.5 410.9,43.4 411.0,43.3 411.2,43.2 411.4,43.4 411.6,43.8 411.7,43.1 411.9,43.5 412.1,43.0 412.3,43.5 412.4,43.7 412.6,43.1 412.8,43.4 412.9,43.6 413.1,43.9 413.3,44.0 413.5,43.6 413.6,43.2 413.8,43.0 414.0,43.9 414.2,44.2 414.3,43.8 414.5,44.2 414.7,43.4 414.8,43.5 415.0,44.2 415.2,43.2 415.4,43.9 415.5,43.8 415.7,43.7 415.9,44.3 416.1,43.3 416.2,43.5 416.4,42.8 416.6,43.2 416.7,43.4 416.9,43.5 417.1,43.6 417.3,43.8 417.4,43.4 417.6,42.8 417.8,43.7 418.0,43.8 418.1,43.2 418.3,43.3 418.5,44.3 418.6,44.1 418.8,44.1 419.0,43.9 419.2,43.7 419.3,43.4 419.5,43.9 419.7,43.6 419.9,43.5 420.0,43.6 420.2,43.6 420.4,44.0 420.5,43.3 420.7,44.6 420.9,43.2 421.1,43.5 421.2,44.0 421.4,43.3 421.6,43.5 421.8,43.7 421.9,42.4 422.1,43.4 422.3,43.3 422.4,43.5 422.6,43.8 422.8,43.9 423.0,44.2 423.1,44.2 423.3,44.0 423.5,43.6 423.6,44.0 423.8,43.2 424.0,43.6 424.2,44.2 424.3,43.9 424.5,43.0 424.7,43.4 424.9,44.0 425.0,43.8 425.2,44.0 425.4,42.9 425.5,43.0 425.7,43.4 425.9,43.1 426.1,43.5 426.2,43.5 426.4,43.6 426.6,43.4 426.8,43.6 426.9,43.7 427.1,43.4 427.3,42.8 427.4,43.7 427.6,43.3 427.8,43.3 428.0,43.1 428.1,42.3 428.3,43.1 428.5,42.5 428.7,42.2 428.8,43.1 429.0,42.3 429.2,42.4 429.3,42.5 429.5,42.7 429.7,41.1 429.9,41.4 430.0,41.8 430.2,41.1 430.4,39.9 430.6,41.2 430.7,41.0 430.9,41.1 431.1,40.8 431.2,40.4 431.4,40.5 431.6,40.4 431.8,40.1 431.9,40.4 432.1,40.4 432.3,39.9 432.5,40.7 432.6,40.7 432.8,40.8 433.0,39.5 433.1,40.7 433.3,40.8 433.5,40.6 433.7,41.4 433.8,40.7 434.0,41.9 434.2,41.8 434.4,41.6 434.5,42.5 434.7,42.3 434.9,42.3 435.0,41.8 435.2,42.7 435.4,43.2 435.6,43.2 435.7,42.3 435.9,43.5 436.1,43.7 436.3,43.4 436.4,43.0 436.6,42.6 436.8,42.9 436.9,43.1 437.1,43.5 437.3,43.7 437.5,43.2 437.6,42.9 437.8,43.4 438.0,43.0 438.2,44.1 438.3,43.1 438.5,43.8 438.7,44.0 438.8,43.3 439.0,44.1 439.2,43.6 439.4,43.4 439.5,43.3 439.7,43.7 439.9,44.1 440.1,43.0 440.2,44.0 440.4,43.7 440.6,43.4 440.7,43.7 440.9,43.7 441.1,43.7 441.3,44.1 441.4,43.4 441.6,44.6 441.8,44.1 441.9,43.5 442.1,43.0 442.3,43.8 442.5,43.6 442.6,44.1 442.8,44.1 443.0,44.6 443.2,43.7 443.3,44.1 443.5,43.6 443.7,43.6 443.8,44.4 444.0,43.7 444.2,43.7 444.4,43.6 444.5,43.9 444.7,44.0 444.9,43.7 445.1,43.3 445.2,43.9 445.4,43.4 445.6,43.6 445.7,43.9 445.9,43.9 446.1,42.8 446.3,44.4 446.4,44.1 446.6,44.5 446.8,44.7 447.0,43.3 447.1,43.5 447.3,43.8 447.5,44.0 447.6,43.4 447.8,43.5 448.0,44.0 448.2,43.2 448.3,43.6 448.5,43.9 448.7,43.4 448.9,43.7 449.0,43.3 449.2,42.7 449.4,43.1 449.5,43.1 449.7,43.0 449.9,43.1 450.1,43.2 450.2,43.1 450.4,43.0 450.6,42.6 450.8,42.6 450.9,42.5 451.1,42.3 451.3,43.0 451.4,41.6 451.6,42.3 451.8,41.5 452.0,41.8 452.1,42.2 452.3,41.7 452.5,42.3 452.7,41.2 452.8,41.4 453.0,41.1 453.2,41.3 453.3,41.0 453.5,40.9 453.7,41.0 453.9,41.4 454.0,40.9 454.2,40.8 454.4,40.6 454.6,40.4 454.7,40.1 454.9,40.3 455.1,40.7 455.2,39.9 455.4,41.0 455.6,40.6 455.8,40.5 455.9,40.7 456.1,41.3 456.3,41.2 456.5,41.3 456.6,42.0 456.8,42.3 457.0,41.0 457.1,42.0 457.3,41.4 457.5,41.3 457.7,41.8 457.8,42.5 458.0,42.1 458.2,42.1 458.4,43.0 458.5,42.7 458.7,42.6 458.9,43.5 459.0,43.0 459.2,42.6 459.4,42.6 459.6,42.9 459.7,43.2 459.9,43.6 460.1,43.6 460.2,43.4 460.4,43.0 460.6,43.9 460.8,43.6 460.9,43.1 461.1,43.1 461.3,43.7 461.5,43.8 461.6,44.1 461.8,43.3 462.0,44.6 462.1,43.1 462.3,43.8 462.5,44.4 462.7,44.3 462.8,43.5 463.0,44.2 463.2,44.4 463.4,44.2 463.5,43.5 463.7,44.6 463.9,43.3 464.0,44.0 464.2,43.6 464.4,43.8 464.6,43.9 464.7,44.2 464.9,43.5 465.1,44.1 465.3,44.5 465.4,44.1 465.6,44.3 465.8,44.2 465.9,43.7 466.1,43.9 466.3,44.1 466.5,44.3 466.6,44.9 466.8,44.7 467.0,43.9 467.2,43.9 467.3,43.7 467.5,43.1 467.7,44.6 467.8,44.3 468.0,43.3 468.2,44.1 468.4,45.1 468.5,44.3 468.7,44.3 468.9,44.2 469.1,43.8 469.2,43.6 469.4,43.8 469.6,44.2 469.7,44.0 469.9,44.4 470.1,44.8 470.3,44.4 470.4,44.5 470.6,44.0 470.8,43.6 471.0,45.0 471.1,44.4 471.3,44.6 471.5,44.0 471.6,43.5 471.8,44.7 472.0,43.3 472.2,44.1 472.3,44.0 472.5,44.3 472.7,44.5 472.9,44.5 473.0,43.3 473.2,44.6 473.4,43.4 473.5,44.5 473.7,44.0 473.9,43.7 474.1,44.0 474.2,43.6 474.4,44.2 474.6,44.6 474.8,44.5 474.9,44.2 475.1,44.6 475.3,44.4 475.4,45.1 475.6,44.4 475.8,43.9 476.0,44.1 476.1,43.9 476.3,44.0 476.5,44.1 476.7,44.4 476.8,44.5 477.0,44.2 477.2,44.3 477.3,43.8 477.5,43.9 477.7,43.1 477.9,43.8 478.0,43.9 478.2,45.1 478.4,43.5 478.5,44.0 478.7,43.8 478.9,43.3 479.1,44.0 479.2,43.9 479.4,43.2 479.6,42.8 479.8,43.7 479.9,43.1 480.1,43.9 480.3,43.4 480.4,43.7 480.6,43.3 480.8,43.9 481.0,43.5 481.1,43.8 481.3,43.1 481.5,42.6 481.7,42.3 481.8,42.6 482.0,42.9 482.2,42.4 482.3,43.6 482.5,42.5 482.7,42.7 482.9,42.5 483.0,42.0 483.2,42.9 483.4,42.7 483.6,42.9 483.7,42.2 483.9,42.6 484.1,42.6 484.2,43.2 484.4,42.2 484.6,43.1 484.8,43.5 484.9,42.9 485.1,42.8 485.3,43.8 485.5,43.4 485.6,43.8 485.8,43.8 486.0,44.0 486.1,43.5 486.3,42.8 486.5,44.0 486.7,43.5 486.8,44.1 487.0,43.7 487.2,44.7 487.4,43.9 487.5,44.4 487.7,44.6 487.9,44.1 488.0,44.3 488.2,44.2 488.4,43.8 488.6,44.9 488.7,43.9 488.9,43.6 489.1,44.1 489.3,44.4 489.4,44.4 489.6,44.2 489.8,44.2 489.9,43.5 490.1,44.6 490.3,45.1 490.5,44.1 490.6,43.6 490.8,44.7 491.0,44.3 491.2,42.8 491.3,44.1 491.5,43.8 491.7,43.9 491.8,45.2 492.0,44.8 492.2,44.4 492.4,44.4 492.5,45.1 492.7,44.0 492.9,44.7 493.1,44.2 493.2,44.8 493.4,44.5 493.6,44.2 493.7,44.9 493.9,44.7 494.1,45.2 494.3,44.3 494.4,44.5 494.6,44.2 494.8,45.0 495.0,44.2 495.1,44.5 495.3,45.0 495.5,44.7 495.6,44.6 495.8,44.6 496.0,44.6 496.2,44.8 496.3,44.4 496.5,43.7 496.7,45.1 496.8,44.1 497.0,45.3 497.2,44.6 497.4,45.8 497.5,45.0 497.7,44.7 497.9,44.9 498.1,43.9 498.2,44.6 498.4,44.4 498.6,44.5 498.7,43.7 498.9,43.6 499.1,44.8 499.3,44.6 499.4,44.4 499.6,44.5 499.8,44.3 500.0,44.3 500.1,44.8 500.3,44.4 500.5,44.8 500.6,44.3 500.8,43.8 501.0,44.3 501.2,44.5 501.3,44.1 501.5,44.4 501.7,44.3 501.9,44.9 502.0,44.9 502.2,45.0 502.4,44.2 502.5,44.7 502.7,45.1 502.9,44.6 503.1,44.5 503.2,44.2 503.4,44.9 503.6,44.6 503.8,45.0 503.9,44.5 504.1,45.4 504.3,44.6 504.4,44.1 504.6,44.7 504.8,44.8 505.0,45.1 505.1,44.4 505.3,44.4 505.5,44.5 505.7,44.4 505.8,43.7 506.0,44.9 506.2,45.1 506.3,44.3 506.5,44.2 506.7,44.5 506.9,44.3 507.0,44.9 507.2,44.4 507.4,44.9 507.6,44.1 507.7,44.0 507.9,44.0 508.1,44.0 508.2,44.8 508.4,45.0 508.6,44.7 508.8,44.7 508.9,43.7 509.1,45.1 509.3,44.1 509.5,45.2 509.6,45.6 509.8,44.7 510.0,44.9 510.1,44.9 510.3,44.1 510.5,44.2 510.7,44.4 510.8,44.7 511.0,45.0 511.2,44.7 511.4,45.1 511.5,44.4 511.7,44.1 511.9,44.7 512.0,44.6 512.2,44.1 512.4,45.1 512.6,44.3 512.7,44.4 512.9,44.8 513.1,44.2 513.3,44.9 513.4,44.8 513.6,44.9 513.8,44.7 513.9,44.5 514.1,44.4 514.3,44.8 514.5,45.2 514.6,45.0 514.8,44.8 515.0,45.1 515.1,45.2 515.3,44.2 515.5,44.7 515.7,45.2 515.8,44.4 516.0,44.5 516.2,45.0 516.4,44.6 516.5,45.2 516.7,44.6 516.9,45.0 517.0,45.7 517.2,45.2 517.4,44.2 517.6,44.3 517.7,44.3 517.9,44.7 518.1,44.1 518.3,44.9 518.4,45.4 518.6,45.4 518.8,44.4 518.9,44.6 519.1,44.6 519.3,44.4 519.5,45.4 519.6,44.4 519.8,44.2 520.0,44.8 520.2,44.8 520.3,45.3 520.5,45.3 520.7,44.6 520.8,43.8 521.0,44.9 521.2,44.9 521.4,45.3 521.5,43.9 521.7,44.1 521.9,45.2 522.1,45.2 522.2,45.0 522.4,44.4 522.6,44.9 522.7,44.1 522.9,43.8 523.1,44.3 523.3,44.3 523.4,44.6 523.6,44.6 523.8,43.4 524.0,44.2 524.1,44.3 524.3,43.5 524.5,43.9 524.6,44.0 524.8,44.2 525.0,43.6 525.2,43.7 525.3,43.5 525.5,44.1 525.7,43.9 525.9,43.8 526.0,44.3 526.2,44.0 526.4,43.6 526.5,44.6 526.7,44.5 526.9,44.4 527.1,43.8 527.2,44.7 527.4,44.1 527.6,43.6 527.8,44.3 527.9,45.1 528.1,44.3 528.3,44.7 528.4,45.1 528.6,44.6 528.8,44.4 529.0,44.6 529.1,44.9 529.3,44.4 529.5,44.8 529.7,44.9 529.8,44.5 530.0,45.0 530.2,45.0 530.3,44.6 530.5,44.7 530.7,44.8 530.9,44.7 531.0,44.7 531.2,44.4 531.4,44.8 531.6,45.1 531.7,45.1 531.9,44.5 532.1,45.0 532.2,45.1 532.4,44.5 532.6,45.0 532.8,44.8 532.9,44.7 533.1,44.9 533.3,44.8 533.4,44.0 533.6,44.9 533.8,44.4 534.0,44.8 534.1,45.1 534.3,44.8 534.5,44.7 534.7,44.9 534.8,45.1 535.0,44.5 535.2,44.6 535.3,45.1 535.5,45.5 535.7,44.9 535.9,45.2 536.0,44.6 536.2,44.9 536.4,44.9 536.6,44.4 536.7,44.9 536.9,44.8 537.1,43.9 537.2,44.9 537.4,45.0 537.6,45.0 537.8,45.0 537.9,44.5 538.1,44.6 538.3,44.8 538.5,44.6 538.6,44.7 538.8,45.4 539.0,44.6 539.1,44.8 539.3,45.6 539.5,44.9 539.7,44.5 539.8,45.0 540.0,45.0 540.2,45.0 540.4,44.3 540.5,45.0 540.7,45.1 540.9,45.8 541.0,45.2 541.2,44.8 541.4,45.1 541.6,45.2 541.7,44.9 541.9,44.9 542.1,45.5 542.3,45.2 542.4,45.2 542.6,44.6" fill="none" stroke="#0000ff" stroke-width="1.3" stroke-linejoin="round"/></g><g clip-path="url(#clb)"><polyline points="300.9,69.4 301.1,69.2 301.2,69.6 301.4,69.9 301.6,70.2 301.8,69.8 301.9,69.5 302.1,69.4 302.3,70.0 302.5,70.4 302.6,69.9 302.8,69.3 303.0,69.4 303.1,70.4 303.3,69.8 303.5,69.1 303.7,69.7 303.8,69.3 304.0,69.5 304.2,69.6 304.4,69.5 304.5,70.0 304.7,69.8 304.9,69.6 305.0,70.0 305.2,70.1 305.4,69.1 305.6,69.7 305.7,69.4 305.9,69.7 306.1,69.3 306.3,69.8 306.4,69.8 306.6,69.7 306.8,69.4 306.9,69.7 307.1,69.4 307.3,69.3 307.5,69.9 307.6,69.4 307.8,70.3 308.0,70.1 308.2,69.1 308.3,70.0 308.5,69.4 308.7,69.9 308.8,69.9 309.0,69.1 309.2,69.8 309.4,69.8 309.5,70.3 309.7,69.4 309.9,70.2 310.1,69.4 310.2,69.8 310.4,69.6 310.6,70.5 310.7,70.1 310.9,70.9 311.1,70.2 311.3,70.2 311.4,70.2 311.6,69.7 311.8,69.9 311.9,70.4 312.1,69.8 312.3,70.0 312.5,69.9 312.6,70.2 312.8,69.8 313.0,69.9 313.2,70.0 313.3,70.0 313.5,69.6 313.7,70.3 313.8,69.4 314.0,69.4 314.2,69.4 314.4,70.3 314.5,69.8 314.7,69.5 314.9,69.4 315.1,70.1 315.2,69.5 315.4,69.4 315.6,70.1 315.7,69.4 315.9,69.7 316.1,69.9 316.3,69.7 316.4,69.8 316.6,70.4 316.8,69.6 317.0,69.3 317.1,69.1 317.3,69.7 317.5,69.7 317.6,69.9 317.8,69.6 318.0,69.6 318.2,69.5 318.3,69.5 318.5,69.8 318.7,69.6 318.9,69.7 319.0,70.4 319.2,69.9 319.4,69.0 319.5,70.3 319.7,69.8 319.9,69.2 320.1,70.0 320.2,69.6 320.4,69.3 320.6,69.3 320.8,69.1 320.9,69.5 321.1,69.9 321.3,69.4 321.4,69.6 321.6,70.2 321.8,68.9 322.0,69.5 322.1,69.3 322.3,69.0 322.5,68.9 322.7,69.3 322.8,69.5 323.0,69.1 323.2,69.3 323.3,69.5 323.5,69.4 323.7,69.6 323.9,69.4 324.0,69.4 324.2,69.9 324.4,69.4 324.6,69.2 324.7,69.4 324.9,68.7 325.1,68.9 325.2,69.3 325.4,69.3 325.6,69.6 325.8,69.0 325.9,68.4 326.1,69.7 326.3,69.3 326.5,68.5 326.6,69.4 326.8,68.8 327.0,68.1 327.1,68.6 327.3,68.6 327.5,69.4 327.7,68.4 327.8,68.6 328.0,68.6 328.2,68.5 328.4,68.3 328.5,68.7 328.7,69.0 328.9,68.8 329.0,68.2 329.2,68.0 329.4,68.5 329.6,68.2 329.7,68.2 329.9,67.7 330.1,69.2 330.2,68.7 330.4,67.9 330.6,68.7 330.8,68.8 330.9,67.3 331.1,68.0 331.3,68.0 331.5,68.4 331.6,68.1 331.8,68.0 332.0,68.1 332.1,68.8 332.3,68.9 332.5,67.8 332.7,67.6 332.8,69.0 333.0,67.5 333.2,67.7 333.4,67.9 333.5,68.0 333.7,68.2 333.9,67.9 334.0,67.4 334.2,67.9 334.4,67.8 334.6,68.4 334.7,67.6 334.9,67.1 335.1,67.1 335.3,68.1 335.4,67.3 335.6,66.6 335.8,67.2 335.9,67.4 336.1,67.9 336.3,66.9 336.5,67.6 336.6,67.6 336.8,67.0 337.0,67.1 337.2,67.9 337.3,67.8 337.5,67.5 337.7,67.2 337.8,67.5 338.0,67.0 338.2,66.9 338.4,66.6 338.5,66.9 338.7,66.8 338.9,67.9 339.1,66.7 339.2,67.3 339.4,67.3 339.6,66.6 339.7,67.1 339.9,65.8 340.1,66.6 340.3,66.9 340.4,65.6 340.6,66.0 340.8,66.9 341.0,66.3 341.1,65.9 341.3,66.2 341.5,66.1 341.6,66.6 341.8,66.4 342.0,66.1 342.2,65.9 342.3,66.1 342.5,66.6 342.7,66.2 342.9,66.3 343.0,65.9 343.2,65.5 343.4,65.7 343.5,66.2 343.7,65.9 343.9,65.5 344.1,65.1 344.2,65.8 344.4,65.6 344.6,65.6 344.8,65.5 344.9,65.7 345.1,65.7 345.3,65.9 345.4,65.9 345.6,66.0 345.8,65.8 346.0,65.3 346.1,65.3 346.3,65.5 346.5,65.1 346.7,65.4 346.8,65.6 347.0,64.8 347.2,64.4 347.3,65.5 347.5,65.0 347.7,65.2 347.9,64.3 348.0,65.5 348.2,65.0 348.4,64.6 348.5,64.4 348.7,64.5 348.9,64.3 349.1,64.1 349.2,63.6 349.4,64.5 349.6,63.8 349.8,63.7 349.9,63.5 350.1,62.3 350.3,63.2 350.4,62.6 350.6,62.3 350.8,62.2 351.0,61.4 351.1,61.8 351.3,60.8 351.5,60.3 351.7,59.8 351.8,59.8 352.0,59.5 352.2,58.4 352.3,57.5 352.5,58.0 352.7,56.7 352.9,57.1 353.0,56.1 353.2,55.5 353.4,55.2 353.6,55.5 353.7,55.7 353.9,55.3 354.1,56.0 354.2,56.7 354.4,56.2 354.6,56.3 354.8,56.9 354.9,57.3 355.1,58.2 355.3,58.7 355.5,59.1 355.6,60.3 355.8,59.6 356.0,60.6 356.1,62.4 356.3,62.4 356.5,62.6 356.7,63.0 356.8,63.8 357.0,63.7 357.2,63.8 357.4,63.5 357.5,64.2 357.7,64.2 357.9,64.4 358.0,64.6 358.2,65.0 358.4,65.1 358.6,65.7 358.7,64.9 358.9,65.5 359.1,66.4 359.3,65.8 359.4,66.4 359.6,66.5 359.8,66.6 359.9,66.5 360.1,65.7 360.3,66.2 360.5,66.3 360.6,65.9 360.8,66.4 361.0,66.1 361.2,66.0 361.3,66.8 361.5,66.8 361.7,66.6 361.8,66.5 362.0,66.7 362.2,66.8 362.4,66.9 362.5,67.1 362.7,67.0 362.9,67.4 363.1,67.5 363.2,67.4 363.4,67.1 363.6,67.1 363.7,67.6 363.9,67.4 364.1,67.5 364.3,66.5 364.4,66.5 364.6,67.7 364.8,67.8 365.0,68.2 365.1,68.0 365.3,67.8 365.5,67.8 365.6,67.2 365.8,68.2 366.0,67.6 366.2,68.1 366.3,68.0 366.5,68.1 366.7,68.4 366.8,67.8 367.0,67.9 367.2,67.8 367.4,68.0 367.5,68.8 367.7,68.0 367.9,68.7 368.1,68.6 368.2,68.6 368.4,68.6 368.6,67.9 368.7,68.5 368.9,69.0 369.1,68.1 369.3,68.4 369.4,68.2 369.6,68.6 369.8,68.1 370.0,69.2 370.1,68.4 370.3,68.0 370.5,69.3 370.6,69.0 370.8,68.9 371.0,68.9 371.2,68.6 371.3,68.6 371.5,69.0 371.7,69.1 371.9,69.2 372.0,68.9 372.2,68.6 372.4,68.8 372.5,69.3 372.7,69.5 372.9,68.8 373.1,68.7 373.2,69.5 373.4,69.3 373.6,69.3 373.8,68.5 373.9,68.9 374.1,68.8 374.3,69.2 374.4,68.4 374.6,69.6 374.8,69.2 375.0,69.3 375.1,68.7 375.3,69.2 375.5,69.7 375.7,68.6 375.8,69.4 376.0,69.5 376.2,69.0 376.3,69.6 376.5,69.2 376.7,69.8 376.9,69.6 377.0,69.4 377.2,70.2 377.4,69.7 377.6,69.9 377.7,68.9 377.9,69.2 378.1,69.8 378.2,69.8 378.4,69.5 378.6,69.8 378.8,69.1 378.9,69.6 379.1,69.1 379.3,69.7 379.5,69.4 379.6,69.3 379.8,69.6 380.0,70.4 380.1,69.2 380.3,69.4 380.5,70.1 380.7,69.5 380.8,70.4 381.0,69.8 381.2,69.8 381.4,69.9 381.5,70.4 381.7,70.0 381.9,70.0 382.0,69.9 382.2,69.2 382.4,69.5 382.6,70.4 382.7,70.2 382.9,70.1 383.1,70.1 383.3,69.7 383.4,70.0 383.6,69.5 383.8,70.1 383.9,69.6 384.1,69.9 384.3,70.1 384.5,69.8 384.6,70.2 384.8,70.2 385.0,70.1 385.1,70.5 385.3,69.4 385.5,69.4 385.7,70.3 385.8,70.4 386.0,70.9 386.2,70.4 386.4,70.4 386.5,69.7 386.7,70.4 386.9,70.4 387.0,69.7 387.2,69.8 387.4,70.1 387.6,70.3 387.7,69.0 387.9,70.2 388.1,70.3 388.3,70.1 388.4,70.3 388.6,70.4 388.8,69.8 388.9,70.4 389.1,70.1 389.3,69.9 389.5,70.3 389.6,70.9 389.8,69.7 390.0,69.6 390.2,69.6 390.3,71.1 390.5,70.2 390.7,70.3 390.8,70.0 391.0,69.9 391.2,69.5 391.4,70.4 391.5,70.4 391.7,69.5 391.9,69.9 392.1,70.0 392.2,70.3 392.4,70.4 392.6,70.8 392.7,70.8 392.9,70.7 393.1,70.8 393.3,69.8 393.4,70.0 393.6,70.7 393.8,70.3 394.0,70.1 394.1,69.3 394.3,69.3 394.5,70.3 394.6,70.1 394.8,69.8 395.0,69.7 395.2,69.1 395.3,69.9 395.5,70.2 395.7,70.3 395.9,69.7 396.0,69.5 396.2,69.1 396.4,70.0 396.5,70.2 396.7,69.2 396.9,69.6 397.1,69.5 397.2,69.2 397.4,68.5 397.6,69.4 397.8,69.8 397.9,69.0 398.1,69.3 398.3,68.4 398.4,70.3 398.6,70.0 398.8,69.9 399.0,69.8 399.1,69.8 399.3,70.1 399.5,70.0 399.7,70.1 399.8,70.3 400.0,70.4 400.2,71.0 400.3,69.9 400.5,70.6 400.7,70.3 400.9,70.2 401.0,69.7 401.2,71.0 401.4,70.4 401.6,70.5 401.7,71.0 401.9,70.4 402.1,70.9 402.2,70.9 402.4,71.3 402.6,71.4 402.8,70.6 402.9,71.4 403.1,71.0 403.3,71.1 403.4,71.0 403.6,71.4 403.8,70.6 404.0,71.2 404.1,71.6 404.3,71.0 404.5,71.9 404.7,70.8 404.8,71.2 405.0,71.0 405.2,70.9 405.3,70.7 405.5,71.0 405.7,71.2 405.9,70.9 406.0,71.5 406.2,71.8 406.4,70.6 406.6,71.6 406.7,71.3 406.9,71.3 407.1,72.2 407.2,71.7 407.4,71.4 407.6,71.3 407.8,70.4 407.9,71.6 408.1,71.0 408.3,71.3 408.5,71.3 408.6,71.7 408.8,72.1 409.0,71.7 409.1,71.8 409.3,71.2 409.5,71.5 409.7,71.6 409.8,70.7 410.0,72.1 410.2,71.0 410.4,70.8 410.5,72.0 410.7,72.2 410.9,71.1 411.0,71.1 411.2,72.6 411.4,71.4 411.6,70.6 411.7,71.1 411.9,72.2 412.1,71.6 412.3,71.7 412.4,71.9 412.6,71.6 412.8,71.2 412.9,70.7 413.1,71.6 413.3,70.9 413.5,71.4 413.6,72.1 413.8,71.6 414.0,71.4 414.2,71.4 414.3,71.7 414.5,71.8 414.7,70.9 414.8,71.5 415.0,72.1 415.2,71.7 415.4,71.1 415.5,71.2 415.7,70.6 415.9,71.1 416.1,72.1 416.2,71.4 416.4,71.1 416.6,71.2 416.7,71.4 416.9,71.4 417.1,71.3 417.3,71.1 417.4,71.7 417.6,72.1 417.8,71.2 418.0,71.2 418.1,71.9 418.3,70.9 418.5,71.2 418.6,71.3 418.8,71.5 419.0,71.4 419.2,71.1 419.3,71.6 419.5,71.0 419.7,70.8 419.9,70.7 420.0,71.8 420.2,70.8 420.4,71.7 420.5,71.8 420.7,71.8 420.9,71.4 421.1,71.3 421.2,71.5 421.4,71.3 421.6,71.0 421.8,72.0 421.9,71.1 422.1,72.2 422.3,71.7 422.4,71.3 422.6,71.7 422.8,72.0 423.0,70.9 423.1,71.1 423.3,71.1 423.5,71.6 423.6,71.7 423.8,71.5 424.0,71.2 424.2,71.3 424.3,72.0 424.5,71.9 424.7,71.5 424.9,70.9 425.0,71.7 425.2,71.6 425.4,71.5 425.5,72.1 425.7,71.8 425.9,71.0 426.1,71.0 426.2,71.9 426.4,71.4 426.6,71.7 426.8,71.3 426.9,70.9 427.1,71.4 427.3,71.9 427.4,71.3 427.6,70.7 427.8,71.0 428.0,70.8 428.1,71.0 428.3,71.3 428.5,71.6 428.7,70.8 428.8,70.4 429.0,70.5 429.2,70.4 429.3,70.1 429.5,70.2 429.7,70.0 429.9,69.4 430.0,70.0 430.2,69.5 430.4,69.1 430.6,69.5 430.7,69.0 430.9,69.8 431.1,69.1 431.2,68.9 431.4,68.5 431.6,68.5 431.8,69.0 431.9,68.3 432.1,68.9 432.3,67.8 432.5,68.7 432.6,69.0 432.8,68.9 433.0,68.9 433.1,69.4 433.3,68.8 433.5,68.8 433.7,69.4 433.8,70.0 434.0,69.8 434.2,69.7 434.4,70.1 434.5,70.3 434.7,69.7 434.9,69.2 435.0,70.1 435.2,70.0 435.4,70.5 435.6,70.3 435.7,70.6 435.9,71.2 436.1,71.1 436.3,71.1 436.4,71.9 436.6,71.1 436.8,71.2 436.9,71.9 437.1,71.0 437.3,70.8 437.5,72.0 437.6,71.7 437.8,71.8 438.0,71.8 438.2,72.0 438.3,71.4 438.5,71.6 438.7,71.2 438.8,71.7 439.0,71.8 439.2,71.5 439.4,72.0 439.5,72.9 439.7,71.3 439.9,72.1 440.1,72.1 440.2,72.2 440.4,71.5 440.6,72.3 440.7,72.1 440.9,71.7 441.1,71.7 441.3,71.9 441.4,72.2 441.6,72.2 441.8,72.7 441.9,71.7 442.1,72.1 442.3,71.7 442.5,72.2 442.6,71.9 442.8,71.6 443.0,71.3 443.2,71.5 443.3,71.9 443.5,72.4 443.7,72.2 443.8,71.4 444.0,71.7 444.2,71.9 444.4,71.8 444.5,71.9 444.7,72.1 444.9,71.9 445.1,71.6 445.2,71.1 445.4,71.7 445.6,71.1 445.7,71.7 445.9,71.9 446.1,71.2 446.3,71.7 446.4,71.6 446.6,72.5 446.8,71.9 447.0,71.0 447.1,71.9 447.3,71.9 447.5,71.6 447.6,71.5 447.8,71.9 448.0,71.9 448.2,71.7 448.3,71.1 448.5,71.4 448.7,70.8 448.9,70.8 449.0,71.2 449.2,70.9 449.4,71.1 449.5,72.2 449.7,71.4 449.9,70.8 450.1,70.2 450.2,70.6 450.4,70.3 450.6,69.9 450.8,71.0 450.9,70.4 451.1,70.7 451.3,71.7 451.4,70.5 451.6,70.3 451.8,70.3 452.0,69.9 452.1,69.6 452.3,69.7 452.5,70.2 452.7,69.5 452.8,68.9 453.0,68.9 453.2,68.9 453.3,69.2 453.5,69.3 453.7,69.2 453.9,69.4 454.0,68.8 454.2,69.2 454.4,68.9 454.6,69.0 454.7,68.0 454.9,69.2 455.1,68.1 455.2,68.3 455.4,69.1 455.6,68.7 455.8,69.6 455.9,69.1 456.1,68.7 456.3,69.2 456.5,69.1 456.6,70.0 456.8,70.1 457.0,69.9 457.1,69.6 457.3,69.9 457.5,70.4 457.7,69.8 457.8,69.9 458.0,70.6 458.2,70.7 458.4,70.4 458.5,70.5 458.7,69.9 458.9,71.3 459.0,70.9 459.2,70.4 459.4,70.6 459.6,70.8 459.7,71.9 459.9,71.6 460.1,70.9 460.2,72.2 460.4,72.1 460.6,71.2 460.8,70.6 460.9,72.1 461.1,71.5 461.3,71.7 461.5,71.6 461.6,72.3 461.8,72.5 462.0,72.2 462.1,71.9 462.3,72.1 462.5,72.2 462.7,71.4 462.8,72.5 463.0,71.9 463.2,72.2 463.4,72.1 463.5,72.5 463.7,72.5 463.9,73.0 464.0,72.0 464.2,71.8 464.4,72.2 464.6,71.9 464.7,72.5 464.9,71.9 465.1,72.2 465.3,72.6 465.4,72.6 465.6,72.3 465.8,72.8 465.9,72.7 466.1,71.6 466.3,72.4 466.5,72.3 466.6,72.1 466.8,72.0 467.0,72.3 467.2,72.4 467.3,72.4 467.5,72.8 467.7,72.7 467.8,72.1 468.0,72.0 468.2,72.6 468.4,72.0 468.5,72.4 468.7,72.5 468.9,72.7 469.1,72.5 469.2,72.9 469.4,72.2 469.6,72.6 469.7,72.1 469.9,72.4 470.1,72.4 470.3,72.0 470.4,71.3 470.6,72.7 470.8,72.5 471.0,72.4 471.1,72.1 471.3,72.2 471.5,72.6 471.6,72.4 471.8,72.8 472.0,72.4 472.2,72.1 472.3,72.6 472.5,72.1 472.7,72.5 472.9,71.7 473.0,72.3 473.2,72.6 473.4,72.1 473.5,72.4 473.7,72.6 473.9,72.4 474.1,73.1 474.2,72.3 474.4,72.3 474.6,72.3 474.8,71.6 474.9,71.8 475.1,72.6 475.3,72.3 475.4,73.0 475.6,72.4 475.8,72.3 476.0,72.8 476.1,72.5 476.3,73.0 476.5,72.0 476.7,72.6 476.8,72.7 477.0,72.6 477.2,72.8 477.3,72.8 477.5,72.4 477.7,72.1 477.9,72.7 478.0,72.3 478.2,72.7 478.4,72.8 478.5,72.4 478.7,71.9 478.9,72.1 479.1,72.5 479.2,72.1 479.4,72.6 479.6,72.1 479.8,72.1 479.9,71.7 480.1,71.9 480.3,72.3 480.4,71.7 480.6,71.6 480.8,71.4 481.0,72.0 481.1,71.0 481.3,71.2 481.5,71.8 481.7,71.9 481.8,71.2 482.0,71.6 482.2,70.4 482.3,71.4 482.5,71.2 482.7,70.6 482.9,70.3 483.0,70.8 483.2,71.1 483.4,71.2 483.6,71.1 483.7,71.4 483.9,71.4 484.1,70.6 484.2,71.0 484.4,71.0 484.6,71.7 484.8,71.2 484.9,71.9 485.1,71.6 485.3,72.5 485.5,71.6 485.6,71.7 485.8,71.8 486.0,71.9 486.1,72.9 486.3,71.8 486.5,71.7 486.7,72.0 486.8,72.4 487.0,71.8 487.2,72.5 487.4,72.6 487.5,72.2 487.7,72.2 487.9,72.0 488.0,72.3 488.2,72.1 488.4,72.9 488.6,73.1 488.7,72.3 488.9,72.5 489.1,71.7 489.3,72.3 489.4,72.6 489.6,72.6 489.8,72.6 489.9,72.9 490.1,72.6 490.3,72.4 490.5,73.2 490.6,71.8 490.8,72.1 491.0,72.3 491.2,72.3 491.3,72.3 491.5,72.5 491.7,72.3 491.8,72.5 492.0,72.8 492.2,72.6 492.4,72.6 492.5,72.2 492.7,72.1 492.9,72.5 493.1,73.0 493.2,72.7 493.4,73.0 493.6,73.0 493.7,73.0 493.9,72.3 494.1,73.1 494.3,72.9 494.4,73.4 494.6,72.8 494.8,72.7 495.0,72.6 495.1,72.7 495.3,72.0 495.5,72.5 495.6,72.6 495.8,73.0 496.0,72.4 496.2,72.7 496.3,73.4 496.5,72.4 496.7,73.0 496.8,72.4 497.0,72.6 497.2,72.8 497.4,73.0 497.5,72.4 497.7,72.2 497.9,73.3 498.1,72.7 498.2,73.0 498.4,73.0 498.6,73.0 498.7,72.6 498.9,72.6 499.1,72.0 499.3,72.7 499.4,72.5 499.6,72.7 499.8,73.4 500.0,72.9 500.1,72.7 500.3,72.1 500.5,73.0 500.6,73.3 500.8,72.4 501.0,72.8 501.2,72.5 501.3,72.6 501.5,72.5 501.7,72.0 501.9,72.5 502.0,72.0 502.2,73.2 502.4,73.1 502.5,72.7 502.7,72.8 502.9,72.7 503.1,72.8 503.2,72.8 503.4,72.6 503.6,72.6 503.8,72.2 503.9,72.3 504.1,72.5 504.3,72.8 504.4,72.6 504.6,73.5 504.8,72.6 505.0,72.6 505.1,72.9 505.3,73.1 505.5,73.4 505.7,73.1 505.8,72.5 506.0,72.7 506.2,73.1 506.3,72.8 506.5,73.0 506.7,72.7 506.9,73.4 507.0,73.3 507.2,73.2 507.4,72.8 507.6,72.1 507.7,72.2 507.9,72.9 508.1,73.0 508.2,71.6 508.4,72.6 508.6,73.2 508.8,73.1 508.9,72.6 509.1,73.0 509.3,72.8 509.5,72.7 509.6,73.2 509.8,73.2 510.0,72.6 510.1,72.4 510.3,72.3 510.5,72.2 510.7,73.3 510.8,73.5 511.0,72.9 511.2,73.2 511.4,72.5 511.5,72.7 511.7,73.1 511.9,72.9 512.0,72.8 512.2,72.1 512.4,72.2 512.6,72.6 512.7,72.6 512.9,72.8 513.1,72.5 513.3,72.7 513.4,72.8 513.6,73.0 513.8,72.8 513.9,72.6 514.1,72.7 514.3,73.2 514.5,72.7 514.6,72.4 514.8,72.4 515.0,72.9 515.1,73.0 515.3,73.3 515.5,72.7 515.7,73.3 515.8,72.7 516.0,72.7 516.2,72.6 516.4,73.0 516.5,73.2 516.7,72.8 516.9,72.6 517.0,72.2 517.2,72.9 517.4,72.7 517.6,72.7 517.7,72.6 517.9,72.5 518.1,72.7 518.3,73.0 518.4,73.2 518.6,72.8 518.8,73.0 518.9,72.8 519.1,72.8 519.3,72.3 519.5,73.2 519.6,73.1 519.8,73.4 520.0,72.6 520.2,72.9 520.3,72.5 520.5,72.9 520.7,72.8 520.8,73.1 521.0,72.8 521.2,73.1 521.4,72.7 521.5,73.1 521.7,72.7 521.9,72.7 522.1,72.9 522.2,73.0 522.4,72.3 522.6,72.3 522.7,72.9 522.9,72.8 523.1,72.1 523.3,72.2 523.4,72.6 523.6,73.0 523.8,72.9 524.0,73.3 524.1,73.3 524.3,73.8 524.5,72.3 524.6,72.9 524.8,73.3 525.0,72.4 525.2,72.3 525.3,73.0 525.5,73.3 525.7,73.4 525.9,72.2 526.0,72.4 526.2,72.8 526.4,72.7 526.5,73.0 526.7,72.9 526.9,73.6 527.1,72.9 527.2,73.0 527.4,72.9 527.6,73.3 527.8,72.5 527.9,73.0 528.1,72.6 528.3,72.4 528.4,73.4 528.6,73.1 528.8,73.4 529.0,73.0 529.1,73.2 529.3,73.0 529.5,73.1 529.7,72.8 529.8,73.6 530.0,72.6 530.2,73.6 530.3,72.8 530.5,73.3 530.7,73.0 530.9,73.1 531.0,73.5 531.2,73.0 531.4,72.6 531.6,73.0 531.7,73.2 531.9,72.0 532.1,73.3 532.2,73.4 532.4,72.2 532.6,72.9 532.8,73.3 532.9,72.5 533.1,72.8 533.3,72.8 533.4,73.2 533.6,73.4 533.8,72.9 534.0,73.0 534.1,73.3 534.3,73.2 534.5,72.9 534.7,73.5 534.8,72.4 535.0,73.0 535.2,72.8 535.3,72.8 535.5,73.0 535.7,73.0 535.9,73.9 536.0,73.2 536.2,73.1 536.4,73.6 536.6,73.4 536.7,72.2 536.9,73.0 537.1,73.3 537.2,72.7 537.4,73.1 537.6,72.8 537.8,73.1 537.9,72.3 538.1,72.2 538.3,72.8 538.5,73.1 538.6,73.5 538.8,72.9 539.0,72.7 539.1,73.3 539.3,73.0 539.5,73.7 539.7,72.9 539.8,72.2 540.0,72.7 540.2,72.6 540.4,72.4 540.5,72.7 540.7,72.7 540.9,72.9 541.0,72.8 541.2,73.1 541.4,73.2 541.6,73.1 541.7,73.1 541.9,72.2 542.1,72.3 542.3,72.6 542.4,73.1 542.6,72.4" fill="none" stroke="#11ee11" stroke-width="1.3" stroke-linejoin="round"/></g><g clip-path="url(#clb)"><polyline points="300.9,163.1 301.1,163.3 301.2,162.0 301.4,162.8 301.6,163.1 301.8,163.2 301.9,163.0 302.1,163.3 302.3,162.9 302.5,163.0 302.6,162.9 302.8,162.5 303.0,162.6 303.1,162.9 303.3,162.6 303.5,163.2 303.7,163.2 303.8,163.4 304.0,162.8 304.2,163.2 304.4,162.5 304.5,162.6 304.7,162.8 304.9,162.9 305.0,162.3 305.2,162.3 305.4,162.9 305.6,162.6 305.7,163.2 305.9,162.9 306.1,162.9 306.3,162.9 306.4,163.1 306.6,162.8 306.8,163.2 306.9,162.7 307.1,162.8 307.3,162.6 307.5,163.0 307.6,162.8 307.8,162.6 308.0,163.4 308.2,162.7 308.3,162.8 308.5,163.0 308.7,163.4 308.8,162.8 309.0,163.1 309.2,162.9 309.4,162.4 309.5,163.1 309.7,163.2 309.9,162.8 310.1,162.8 310.2,162.4 310.4,162.4 310.6,162.7 310.7,163.0 310.9,162.7 311.1,162.9 311.3,163.1 311.4,162.9 311.6,163.0 311.8,163.3 311.9,162.5 312.1,163.1 312.3,162.3 312.5,163.0 312.6,162.9 312.8,162.7 313.0,162.5 313.2,162.9 313.3,162.7 313.5,162.9 313.7,162.6 313.8,163.0 314.0,162.6 314.2,162.8 314.4,162.8 314.5,163.3 314.7,162.4 314.9,162.8 315.1,163.2 315.2,162.7 315.4,162.5 315.6,163.0 315.7,162.8 315.9,163.1 316.1,162.6 316.3,162.9 316.4,163.1 316.6,163.2 316.8,162.6 317.0,163.3 317.1,162.6 317.3,162.4 317.5,162.6 317.6,162.9 317.8,162.8 318.0,163.0 318.2,163.0 318.3,163.0 318.5,162.8 318.7,163.4 318.9,162.2 319.0,162.4 319.2,162.8 319.4,162.5 319.5,162.1 319.7,162.7 319.9,162.7 320.1,162.2 320.2,163.2 320.4,163.3 320.6,163.3 320.8,162.8 320.9,163.0 321.1,162.6 321.3,163.0 321.4,162.7 321.6,163.0 321.8,162.8 322.0,163.2 322.1,163.2 322.3,163.3 322.5,162.4 322.7,162.4 322.8,163.0 323.0,162.8 323.2,163.0 323.3,163.0 323.5,163.0 323.7,163.2 323.9,163.1 324.0,163.1 324.2,162.7 324.4,163.5 324.6,163.0 324.7,163.3 324.9,163.0 325.1,163.3 325.2,163.0 325.4,163.0 325.6,163.0 325.8,162.7 325.9,162.8 326.1,162.9 326.3,162.9 326.5,162.6 326.6,163.7 326.8,162.7 327.0,162.9 327.1,163.7 327.3,162.8 327.5,163.2 327.7,163.1 327.8,162.9 328.0,162.5 328.2,162.5 328.4,163.0 328.5,163.1 328.7,162.3 328.9,163.0 329.0,162.8 329.2,163.2 329.4,163.0 329.6,162.7 329.7,162.8 329.9,163.0 330.1,163.4 330.2,163.9 330.4,163.1 330.6,163.0 330.8,163.2 330.9,163.0 331.1,163.2 331.3,163.1 331.5,163.0 331.6,162.8 331.8,163.0 332.0,163.3 332.1,163.0 332.3,163.5 332.5,163.3 332.7,163.0 332.8,163.5 333.0,162.7 333.2,163.4 333.4,163.6 333.5,162.9 333.7,163.0 333.9,163.3 334.0,163.4 334.2,163.1 334.4,163.1 334.6,163.3 334.7,163.1 334.9,162.6 335.1,163.0 335.3,163.0 335.4,162.6 335.6,163.1 335.8,162.8 335.9,163.2 336.1,162.6 336.3,162.7 336.5,162.6 336.6,163.4 336.8,163.4 337.0,163.4 337.2,163.4 337.3,163.3 337.5,163.3 337.7,162.5 337.8,163.1 338.0,162.9 338.2,162.9 338.4,162.6 338.5,163.4 338.7,163.1 338.9,162.6 339.1,163.2 339.2,163.0 339.4,162.7 339.6,162.9 339.7,162.8 339.9,162.3 340.1,162.5 340.3,163.1 340.4,163.1 340.6,163.0 340.8,162.6 341.0,162.8 341.1,163.0 341.3,163.2 341.5,162.7 341.6,162.6 341.8,163.3 342.0,163.0 342.2,162.8 342.3,162.7 342.5,162.7 342.7,163.4 342.9,163.2 343.0,162.8 343.2,162.5 343.4,163.4 343.5,163.4 343.7,163.3 343.9,163.1 344.1,162.3 344.2,162.5 344.4,163.0 344.6,162.8 344.8,162.9 344.9,162.7 345.1,162.6 345.3,163.0 345.4,162.7 345.6,162.8 345.8,162.9 346.0,162.9 346.1,163.1 346.3,163.2 346.5,162.3 346.7,162.6 346.8,162.5 347.0,162.9 347.2,162.3 347.3,162.9 347.5,162.8 347.7,162.8 347.9,162.3 348.0,162.5 348.2,162.2 348.4,162.6 348.5,162.7 348.7,161.9 348.9,162.1 349.1,162.2 349.2,162.0 349.4,162.6 349.6,162.0 349.8,162.0 349.9,161.5 350.1,162.2 350.3,161.6 350.4,161.6 350.6,161.3 350.8,160.4 351.0,160.3 351.1,160.1 351.3,160.2 351.5,159.4 351.7,158.9 351.8,157.8 352.0,156.2 352.2,153.9 352.3,150.0 352.5,144.1 352.7,137.2 352.9,128.6 353.0,116.7 353.2,105.5 353.4,94.3 353.6,85.3 353.7,82.4 353.9,85.0 354.1,94.1 354.2,104.9 354.4,116.6 354.6,128.0 354.8,137.2 354.9,144.5 355.1,150.0 355.3,153.6 355.5,155.9 355.6,158.0 355.8,159.6 356.0,159.6 356.1,159.9 356.3,160.2 356.5,161.0 356.7,161.0 356.8,161.3 357.0,160.9 357.2,161.3 357.4,161.4 357.5,162.2 357.7,161.9 357.9,161.3 358.0,162.3 358.2,162.6 358.4,162.7 358.6,161.5 358.7,162.5 358.9,162.7 359.1,162.7 359.3,162.5 359.4,162.1 359.6,162.5 359.8,162.6 359.9,162.9 360.1,162.9 360.3,162.7 360.5,163.0 360.6,162.5 360.8,162.6 361.0,162.8 361.2,163.0 361.3,162.8 361.5,163.3 361.7,163.0 361.8,162.6 362.0,163.0 362.2,162.7 362.4,162.7 362.5,162.5 362.7,163.4 362.9,163.3 363.1,162.5 363.2,163.3 363.4,163.3 363.6,162.9 363.7,163.2 363.9,163.7 364.1,163.1 364.3,163.2 364.4,163.4 364.6,162.8 364.8,162.7 365.0,162.7 365.1,163.1 365.3,163.3 365.5,162.8 365.6,162.7 365.8,163.2 366.0,163.0 366.2,163.3 366.3,163.1 366.5,163.1 366.7,163.1 366.8,163.1 367.0,162.9 367.2,162.8 367.4,163.6 367.5,164.1 367.7,163.5 367.9,162.7 368.1,163.2 368.2,163.5 368.4,162.7 368.6,163.0 368.7,163.1 368.9,162.9 369.1,162.9 369.3,163.5 369.4,163.1 369.6,163.1 369.8,163.7 370.0,162.9 370.1,162.6 370.3,163.4 370.5,163.8 370.6,163.3 370.8,163.3 371.0,162.8 371.2,162.9 371.3,163.7 371.5,163.6 371.7,163.4 371.9,163.0 372.0,162.9 372.2,162.9 372.4,162.9 372.5,163.4 372.7,163.0 372.9,163.1 373.1,163.4 373.2,163.4 373.4,163.3 373.6,163.4 373.8,163.2 373.9,162.7 374.1,163.2 374.3,163.1 374.4,163.1 374.6,163.3 374.8,163.1 375.0,163.6 375.1,163.2 375.3,163.3 375.5,163.4 375.7,163.2 375.8,163.5 376.0,163.5 376.2,163.4 376.3,163.0 376.5,163.0 376.7,163.1 376.9,163.3 377.0,162.7 377.2,163.0 377.4,162.9 377.6,163.1 377.7,163.0 377.9,163.5 378.1,163.4 378.2,163.6 378.4,163.0 378.6,163.0 378.8,163.2 378.9,163.8 379.1,163.8 379.3,163.1 379.5,163.5 379.6,163.9 379.8,163.0 380.0,163.2 380.1,163.7 380.3,163.5 380.5,163.0 380.7,163.7 380.8,163.6 381.0,163.5 381.2,162.9 381.4,163.2 381.5,163.7 381.7,163.4 381.9,163.5 382.0,163.2 382.2,163.8 382.4,163.2 382.6,163.6 382.7,163.4 382.9,163.0 383.1,163.8 383.3,162.9 383.4,163.1 383.6,163.4 383.8,162.9 383.9,162.8 384.1,163.3 384.3,163.2 384.5,163.2 384.6,163.5 384.8,164.0 385.0,163.2 385.1,164.1 385.3,163.4 385.5,163.3 385.7,162.5 385.8,162.9 386.0,163.4 386.2,163.5 386.4,163.1 386.5,163.4 386.7,163.6 386.9,163.1 387.0,162.8 387.2,163.0 387.4,163.2 387.6,163.4 387.7,163.5 387.9,163.0 388.1,163.3 388.3,163.2 388.4,163.3 388.6,163.6 388.8,163.7 388.9,163.2 389.1,163.1 389.3,163.1 389.5,163.1 389.6,163.2 389.8,163.2 390.0,163.1 390.2,163.0 390.3,162.9 390.5,163.3 390.7,164.0 390.8,163.4 391.0,163.4 391.2,163.3 391.4,163.2 391.5,163.8 391.7,163.1 391.9,162.9 392.1,162.8 392.2,163.2 392.4,162.8 392.6,162.8 392.7,162.7 392.9,162.5 393.1,162.7 393.3,161.8 393.4,162.3 393.6,159.7 393.8,158.7 394.0,157.8 394.1,157.3 394.3,157.6 394.5,159.1 394.6,160.4 394.8,161.4 395.0,162.1 395.2,162.4 395.3,162.3 395.5,162.3 395.7,162.4 395.9,161.8 396.0,161.4 396.2,160.7 396.4,158.6 396.5,156.5 396.7,153.0 396.9,150.0 397.1,147.4 397.2,146.2 397.4,147.4 397.6,150.3 397.8,153.0 397.9,155.9 398.1,158.6 398.3,159.7 398.4,161.2 398.6,162.1 398.8,162.0 399.0,162.2 399.1,161.8 399.3,161.4 399.5,160.1 399.7,158.5 399.8,156.1 400.0,156.3 400.2,157.3 400.3,158.6 400.5,159.9 400.7,161.7 400.9,161.9 401.0,162.5 401.2,163.1 401.4,162.8 401.6,163.1 401.7,163.1 401.9,162.8 402.1,163.0 402.2,163.1 402.4,163.1 402.6,163.6 402.8,163.3 402.9,163.1 403.1,162.9 403.3,163.2 403.4,163.7 403.6,163.3 403.8,163.6 404.0,163.5 404.1,163.2 404.3,163.1 404.5,163.5 404.7,162.9 404.8,163.6 405.0,163.0 405.2,163.7 405.3,163.3 405.5,163.4 405.7,163.7 405.9,163.1 406.0,163.4 406.2,163.3 406.4,163.6 406.6,163.6 406.7,163.5 406.9,163.5 407.1,163.3 407.2,163.6 407.4,163.4 407.6,163.5 407.8,163.5 407.9,163.0 408.1,163.1 408.3,163.5 408.5,163.5 408.6,163.8 408.8,162.7 409.0,163.5 409.1,163.8 409.3,163.5 409.5,163.7 409.7,163.5 409.8,163.5 410.0,163.7 410.2,163.1 410.4,162.8 410.5,163.6 410.7,163.5 410.9,163.5 411.0,163.6 411.2,163.7 411.4,163.3 411.6,163.6 411.7,163.6 411.9,163.1 412.1,163.4 412.3,163.6 412.4,163.3 412.6,163.8 412.8,163.4 412.9,163.7 413.1,163.9 413.3,163.1 413.5,163.1 413.6,163.7 413.8,163.4 414.0,163.7 414.2,164.0 414.3,163.4 414.5,163.8 414.7,163.4 414.8,163.3 415.0,163.7 415.2,163.6 415.4,163.8 415.5,163.6 415.7,163.8 415.9,163.7 416.1,163.0 416.2,163.4 416.4,163.4 416.6,163.8 416.7,163.2 416.9,163.6 417.1,163.4 417.3,163.0 417.4,163.5 417.6,163.7 417.8,163.4 418.0,163.8 418.1,163.6 418.3,163.6 418.5,163.4 418.6,163.5 418.8,163.7 419.0,163.5 419.2,163.2 419.3,163.5 419.5,163.7 419.7,163.9 419.9,163.8 420.0,163.2 420.2,163.7 420.4,163.1 420.5,163.3 420.7,163.3 420.9,164.0 421.1,163.7 421.2,163.6 421.4,163.3 421.6,163.9 421.8,163.5 421.9,163.7 422.1,163.9 422.3,163.4 422.4,163.7 422.6,162.9 422.8,163.7 423.0,163.0 423.1,163.7 423.3,163.6 423.5,163.7 423.6,164.2 423.8,162.8 424.0,163.7 424.2,163.4 424.3,163.7 424.5,163.6 424.7,163.5 424.9,163.4 425.0,163.3 425.2,163.6 425.4,163.1 425.5,163.8 425.7,163.3 425.9,163.6 426.1,163.1 426.2,163.6 426.4,163.4 426.6,163.7 426.8,163.8 426.9,163.3 427.1,163.5 427.3,163.5 427.4,163.9 427.6,163.0 427.8,163.6 428.0,163.4 428.1,163.0 428.3,163.2 428.5,163.1 428.7,163.6 428.8,163.0 429.0,163.5 429.2,163.0 429.3,163.3 429.5,162.5 429.7,162.7 429.9,162.9 430.0,162.5 430.2,162.1 430.4,162.3 430.6,162.1 430.7,161.2 430.9,160.0 431.1,158.4 431.2,155.6 431.4,152.6 431.6,148.6 431.8,143.7 431.9,141.1 432.1,139.7 432.3,140.9 432.5,144.3 432.6,148.7 432.8,152.9 433.0,156.2 433.1,158.2 433.3,160.5 433.5,160.7 433.7,162.2 433.8,162.5 434.0,162.9 434.2,162.5 434.4,163.3 434.5,163.4 434.7,163.1 434.9,162.7 435.0,163.3 435.2,163.0 435.4,162.8 435.6,163.1 435.7,164.0 435.9,162.9 436.1,163.3 436.3,163.5 436.4,163.7 436.6,163.1 436.8,163.2 436.9,163.7 437.1,163.6 437.3,163.9 437.5,163.2 437.6,163.5 437.8,163.8 438.0,163.6 438.2,163.2 438.3,163.6 438.5,163.0 438.7,163.3 438.8,163.8 439.0,163.8 439.2,163.7 439.4,163.8 439.5,163.1 439.7,163.4 439.9,163.9 440.1,164.3 440.2,163.7 440.4,163.3 440.6,163.3 440.7,163.9 440.9,163.9 441.1,163.2 441.3,163.6 441.4,164.0 441.6,164.0 441.8,163.4 441.9,163.5 442.1,163.7 442.3,163.3 442.5,163.1 442.6,163.4 442.8,164.0 443.0,163.9 443.2,163.8 443.3,163.3 443.5,163.0 443.7,163.3 443.8,163.6 444.0,163.9 444.2,163.3 444.4,163.6 444.5,163.1 444.7,163.0 444.9,163.6 445.1,163.2 445.2,163.3 445.4,162.9 445.6,163.8 445.7,163.0 445.9,163.6 446.1,163.1 446.3,163.4 446.4,164.0 446.6,163.6 446.8,163.6 447.0,163.8 447.1,163.7 447.3,163.9 447.5,163.1 447.6,163.9 447.8,163.5 448.0,163.2 448.2,163.7 448.3,163.6 448.5,163.5 448.7,163.7 448.9,163.1 449.0,162.9 449.2,163.2 449.4,163.7 449.5,163.5 449.7,163.3 449.9,163.1 450.1,163.2 450.2,163.5 450.4,162.9 450.6,162.8 450.8,162.9 450.9,162.7 451.1,162.2 451.3,161.9 451.4,160.4 451.6,158.5 451.8,156.0 452.0,154.6 452.1,151.6 452.3,149.7 452.5,149.0 452.7,150.0 452.8,152.0 453.0,154.5 453.2,156.7 453.3,158.6 453.5,160.3 453.7,161.0 453.9,162.0 454.0,162.6 454.2,162.8 454.4,162.7 454.6,162.4 454.7,162.4 454.9,162.3 455.1,162.2 455.2,162.1 455.4,161.5 455.6,160.5 455.8,159.2 455.9,156.6 456.1,154.5 456.3,152.3 456.5,150.4 456.6,149.2 456.8,150.0 457.0,152.5 457.1,154.8 457.3,157.2 457.5,158.9 457.7,160.2 457.8,161.6 458.0,162.3 458.2,162.8 458.4,163.2 458.5,163.1 458.7,163.5 458.9,163.2 459.0,163.4 459.2,163.4 459.4,162.9 459.6,163.1 459.7,163.3 459.9,163.6 460.1,163.6 460.2,163.9 460.4,163.6 460.6,163.5 460.8,163.7 460.9,163.2 461.1,163.6 461.3,163.3 461.5,163.7 461.6,163.4 461.8,163.5 462.0,164.2 462.1,164.0 462.3,164.4 462.5,163.7 462.7,163.6 462.8,163.5 463.0,163.7 463.2,163.2 463.4,163.7 463.5,163.5 463.7,163.3 463.9,163.2 464.0,163.4 464.2,163.6 464.4,163.7 464.6,163.2 464.7,163.7 464.9,163.8 465.1,164.4 465.3,163.8 465.4,164.0 465.6,163.5 465.8,163.7 465.9,163.5 466.1,163.5 466.3,163.9 466.5,163.7 466.6,164.2 466.8,163.7 467.0,163.9 467.2,163.4 467.3,163.5 467.5,164.0 467.7,163.6 467.8,164.1 468.0,163.5 468.2,163.5 468.4,164.3 468.5,163.3 468.7,163.6 468.9,163.9 469.1,164.0 469.2,163.4 469.4,164.4 469.6,163.6 469.7,163.2 469.9,164.1 470.1,163.6 470.3,163.8 470.4,164.0 470.6,163.5 470.8,163.6 471.0,163.8 471.1,164.0 471.3,163.4 471.5,164.2 471.6,163.9 471.8,163.5 472.0,163.8 472.2,164.0 472.3,164.2 472.5,164.1 472.7,164.1 472.9,163.8 473.0,164.0 473.2,163.0 473.4,164.1 473.5,163.8 473.7,164.3 473.9,163.6 474.1,163.7 474.2,163.8 474.4,164.0 474.6,163.9 474.8,164.1 474.9,163.8 475.1,164.1 475.3,164.6 475.4,164.2 475.6,164.0 475.8,163.4 476.0,164.0 476.1,164.1 476.3,163.7 476.5,164.1 476.7,163.1 476.8,163.6 477.0,163.5 477.2,163.9 477.3,163.5 477.5,163.5 477.7,164.2 477.9,163.3 478.0,163.9 478.2,164.1 478.4,163.7 478.5,163.5 478.7,163.7 478.9,163.5 479.1,163.5 479.2,163.7 479.4,163.6 479.6,164.6 479.8,164.0 479.9,163.6 480.1,163.7 480.3,164.0 480.4,163.8 480.6,163.4 480.8,163.1 481.0,163.7 481.1,163.0 481.3,162.8 481.5,162.6 481.7,161.6 481.8,160.9 482.0,159.0 482.2,157.5 482.3,155.5 482.5,154.3 482.7,151.8 482.9,151.6 483.0,152.0 483.2,153.4 483.4,155.1 483.6,157.2 483.7,159.5 483.9,160.9 484.1,161.3 484.2,161.9 484.4,162.6 484.6,163.5 484.8,163.2 484.9,162.7 485.1,163.7 485.3,163.4 485.5,163.7 485.6,163.7 485.8,163.2 486.0,163.9 486.1,163.9 486.3,163.5 486.5,163.0 486.7,163.4 486.8,163.4 487.0,164.0 487.2,163.6 487.4,163.6 487.5,163.8 487.7,163.7 487.9,163.9 488.0,163.9 488.2,164.1 488.4,163.4 488.6,163.9 488.7,163.7 488.9,164.5 489.1,164.3 489.3,163.7 489.4,164.1 489.6,163.3 489.8,163.5 489.9,163.8 490.1,163.9 490.3,163.5 490.5,163.9 490.6,164.2 490.8,163.4 491.0,163.5 491.2,163.3 491.3,164.2 491.5,163.6 491.7,163.8 491.8,163.6 492.0,163.9 492.2,163.8 492.4,163.9 492.5,163.9 492.7,164.4 492.9,163.6 493.1,163.9 493.2,163.9 493.4,163.6 493.6,164.1 493.7,164.4 493.9,163.6 494.1,164.6 494.3,163.9 494.4,163.9 494.6,163.1 494.8,163.9 495.0,163.9 495.1,163.8 495.3,164.1 495.5,163.8 495.6,164.0 495.8,163.7 496.0,163.6 496.2,163.9 496.3,164.1 496.5,164.1 496.7,163.9 496.8,163.7 497.0,163.9 497.2,163.8 497.4,163.5 497.5,164.0 497.7,163.8 497.9,163.6 498.1,163.8 498.2,164.1 498.4,164.3 498.6,163.3 498.7,163.8 498.9,164.1 499.1,164.2 499.3,164.0 499.4,163.6 499.6,163.7 499.8,163.9 500.0,163.6 500.1,163.5 500.3,163.5 500.5,164.6 500.6,163.9 500.8,163.8 501.0,164.0 501.2,163.8 501.3,163.7 501.5,163.8 501.7,163.5 501.9,163.6 502.0,163.9 502.2,163.7 502.4,163.1 502.5,163.6 502.7,162.8 502.9,162.0 503.1,162.2 503.2,161.5 503.4,160.7 503.6,159.7 503.8,159.9 503.9,159.5 504.1,159.6 504.3,160.1 504.4,160.7 504.6,162.0 504.8,161.8 505.0,162.6 505.1,163.2 505.3,163.4 505.5,163.1 505.7,163.5 505.8,163.5 506.0,163.2 506.2,163.6 506.3,164.0 506.5,163.8 506.7,164.0 506.9,163.8 507.0,163.4 507.2,163.8 507.4,163.0 507.6,163.8 507.7,163.1 507.9,163.4 508.1,162.1 508.2,161.7 508.4,161.2 508.6,160.6 508.8,159.5 508.9,159.1 509.1,159.5 509.3,159.3 509.5,160.3 509.6,161.1 509.8,160.9 510.0,161.9 510.1,163.0 510.3,163.3 510.5,162.8 510.7,163.6 510.8,164.1 511.0,163.0 511.2,163.9 511.4,164.1 511.5,163.7 511.7,163.7 511.9,164.1 512.0,163.4 512.2,164.1 512.4,164.3 512.6,164.0 512.7,163.5 512.9,164.4 513.1,163.9 513.3,164.1 513.4,163.7 513.6,163.9 513.8,164.3 513.9,163.5 514.1,163.6 514.3,163.4 514.5,164.1 514.6,164.1 514.8,163.7 515.0,164.1 515.1,164.0 515.3,164.6 515.5,163.6 515.7,164.1 515.8,163.9 516.0,164.6 516.2,164.1 516.4,163.6 516.5,164.1 516.7,164.0 516.9,163.7 517.0,164.1 517.2,164.0 517.4,163.6 517.6,163.9 517.7,164.3 517.9,164.3 518.1,164.0 518.3,163.9 518.4,164.1 518.6,164.0 518.8,163.6 518.9,164.2 519.1,163.8 519.3,164.4 519.5,164.2 519.6,164.2 519.8,163.9 520.0,164.0 520.2,163.8 520.3,163.9 520.5,163.7 520.7,164.4 520.8,163.6 521.0,164.5 521.2,164.2 521.4,163.7 521.5,164.3 521.7,164.1 521.9,163.7 522.1,164.0 522.2,163.8 522.4,163.6 522.6,163.8 522.7,163.9 522.9,163.7 523.1,163.7 523.3,163.9 523.4,163.5 523.6,163.3 523.8,162.8 524.0,162.8 524.1,162.2 524.3,161.6 524.5,161.0 524.6,160.0 524.8,158.7 525.0,157.4 525.2,156.9 525.3,156.6 525.5,156.9 525.7,157.2 525.9,158.7 526.0,159.4 526.2,160.8 526.4,161.7 526.5,162.3 526.7,163.1 526.9,163.0 527.1,163.3 527.2,163.0 527.4,163.2 527.6,163.0 527.8,162.9 527.9,162.5 528.1,161.4 528.3,161.9 528.4,161.5 528.6,160.3 528.8,160.9 529.0,161.3 529.1,161.5 529.3,162.0 529.5,162.2 529.7,162.5 529.8,163.6 530.0,163.5 530.2,164.0 530.3,163.7 530.5,164.1 530.7,164.1 530.9,164.2 531.0,163.6 531.2,164.7 531.4,164.1 531.6,163.9 531.7,164.1 531.9,163.5 532.1,164.5 532.2,163.9 532.4,164.1 532.6,164.1 532.8,163.6 532.9,164.0 533.1,164.5 533.3,163.9 533.4,164.2 533.6,164.4 533.8,164.6 534.0,163.9 534.1,164.4 534.3,164.3 534.5,164.3 534.7,164.4 534.8,164.4 535.0,163.8 535.2,164.3 535.3,164.0 535.5,164.2 535.7,164.0 535.9,164.6 536.0,164.4 536.2,164.3 536.4,164.0 536.6,164.3 536.7,163.8 536.9,163.9 537.1,163.7 537.2,164.4 537.4,164.0 537.6,164.4 537.8,164.5 537.9,164.5 538.1,164.1 538.3,164.6 538.5,164.5 538.6,163.8 538.8,164.3 539.0,163.9 539.1,164.2 539.3,164.6 539.5,164.3 539.7,164.7 539.8,164.4 540.0,164.4 540.2,164.7 540.4,164.6 540.5,164.4 540.7,164.6 540.9,164.6 541.0,163.8 541.2,163.9 541.4,164.2 541.6,164.5 541.7,164.0 541.9,163.7 542.1,164.2 542.3,164.0 542.4,164.6 542.6,163.5" fill="none" stroke="#ff0000" stroke-width="1.15" stroke-linejoin="round"/></g><g clip-path="url(#clc)"><polyline points="24.5,248.5 24.7,248.6 24.8,248.4 25.0,248.2 25.2,248.3 25.4,248.1 25.5,248.5 25.7,248.9 25.9,248.3 26.1,248.2 26.2,248.6 26.4,248.6 26.6,248.5 26.7,248.1 26.9,248.5 27.1,248.7 27.3,248.0 27.4,248.3 27.6,247.8 27.8,248.0 28.0,247.8 28.1,248.4 28.3,248.0 28.5,248.6 28.6,248.5 28.8,248.4 29.0,247.6 29.2,248.3 29.3,248.4 29.5,248.5 29.7,247.9 29.9,248.3 30.0,248.1 30.2,248.2 30.4,248.8 30.5,248.2 30.7,248.4 30.9,248.8 31.1,248.2 31.2,248.4 31.4,248.5 31.6,248.5 31.8,248.0 31.9,248.5 32.1,248.9 32.3,247.9 32.4,248.7 32.6,248.5 32.8,248.2 33.0,249.1 33.1,248.7 33.3,248.0 33.5,248.5 33.7,248.6 33.8,248.4 34.0,248.7 34.2,248.4 34.3,248.7 34.5,248.9 34.7,248.2 34.9,248.5 35.0,248.3 35.2,248.5 35.4,248.0 35.5,248.2 35.7,248.4 35.9,248.7 36.1,248.8 36.2,248.0 36.4,248.1 36.6,248.7 36.8,247.7 36.9,248.3 37.1,248.4 37.3,248.9 37.4,248.7 37.6,248.3 37.8,248.3 38.0,248.3 38.1,249.0 38.3,248.3 38.5,248.3 38.7,248.5 38.8,248.4 39.0,248.3 39.2,248.0 39.3,248.4 39.5,248.3 39.7,248.8 39.9,248.6 40.0,248.4 40.2,248.6 40.4,248.3 40.6,248.8 40.7,248.4 40.9,248.6 41.1,248.0 41.2,248.5 41.4,247.8 41.6,247.7 41.8,248.3 41.9,248.1 42.1,248.5 42.3,249.2 42.5,248.1 42.6,248.2 42.8,248.5 43.0,248.6 43.1,248.3 43.3,248.3 43.5,248.6 43.7,248.6 43.8,248.0 44.0,248.4 44.2,248.4 44.4,248.0 44.5,248.5 44.7,248.1 44.9,248.7 45.0,248.4 45.2,248.4 45.4,248.2 45.6,248.3 45.7,247.7 45.9,248.0 46.1,248.5 46.3,247.6 46.4,248.7 46.6,247.8 46.8,248.6 46.9,248.1 47.1,248.6 47.3,248.4 47.5,247.8 47.6,248.8 47.8,248.9 48.0,248.3 48.2,248.3 48.3,248.3 48.5,248.0 48.7,248.7 48.8,248.2 49.0,248.3 49.2,248.1 49.4,248.1 49.5,247.9 49.7,248.8 49.9,248.3 50.1,248.7 50.2,248.3 50.4,248.1 50.6,248.2 50.7,248.1 50.9,248.3 51.1,248.2 51.3,248.2 51.4,247.8 51.6,248.0 51.8,248.9 52.0,248.1 52.1,248.0 52.3,248.4 52.5,248.8 52.6,247.8 52.8,248.2 53.0,248.1 53.2,247.7 53.3,248.6 53.5,248.3 53.7,248.3 53.8,248.0 54.0,248.5 54.2,248.1 54.4,248.2 54.5,247.9 54.7,247.9 54.9,248.8 55.1,248.1 55.2,248.4 55.4,248.3 55.6,248.1 55.7,248.1 55.9,248.5 56.1,248.2 56.3,248.2 56.4,248.3 56.6,248.7 56.8,248.5 57.0,248.4 57.1,248.1 57.3,247.8 57.5,248.6 57.6,248.6 57.8,248.2 58.0,248.4 58.2,248.5 58.3,248.5 58.5,248.6 58.7,248.1 58.9,248.8 59.0,247.8 59.2,248.5 59.4,248.4 59.5,248.5 59.7,248.9 59.9,248.7 60.1,247.8 60.2,247.6 60.4,248.5 60.6,247.8 60.8,248.2 60.9,248.5 61.1,247.6 61.3,247.4 61.4,248.2 61.6,248.2 61.8,248.1 62.0,248.2 62.1,247.8 62.3,247.6 62.5,248.1 62.7,247.8 62.8,247.5 63.0,248.3 63.2,248.1 63.3,248.2 63.5,247.7 63.7,247.9 63.9,247.7 64.0,247.8 64.2,248.1 64.4,247.8 64.6,248.2 64.7,248.2 64.9,248.7 65.1,247.5 65.2,248.3 65.4,248.0 65.6,248.0 65.8,247.5 65.9,247.8 66.1,248.2 66.3,247.9 66.5,248.0 66.6,247.8 66.8,248.3 67.0,247.9 67.1,247.1 67.3,247.6 67.5,247.1 67.7,246.7 67.8,247.6 68.0,248.2 68.2,247.8 68.4,247.3 68.5,247.4 68.7,248.1 68.9,247.7 69.0,247.6 69.2,247.6 69.4,247.6 69.6,247.8 69.7,247.7 69.9,247.5 70.1,247.0 70.3,247.5 70.4,247.0 70.6,247.6 70.8,246.7 70.9,247.0 71.1,247.0 71.3,246.5 71.5,247.4 71.6,247.3 71.8,246.5 72.0,246.8 72.1,246.5 72.3,245.3 72.5,246.2 72.7,245.9 72.8,245.8 73.0,245.1 73.2,245.2 73.4,244.9 73.5,245.0 73.7,244.4 73.9,243.8 74.0,243.8 74.2,242.4 74.4,241.7 74.6,240.3 74.7,240.4 74.9,239.0 75.1,237.6 75.3,235.9 75.4,233.9 75.6,231.8 75.8,229.4 75.9,226.9 76.1,224.4 76.3,222.1 76.5,219.0 76.6,216.1 76.8,213.6 77.0,211.7 77.2,211.2 77.3,210.4 77.5,210.7 77.7,211.8 77.8,213.4 78.0,216.2 78.2,219.2 78.4,221.5 78.5,224.3 78.7,227.0 78.9,229.6 79.1,231.3 79.2,233.8 79.4,235.5 79.6,237.7 79.7,238.5 79.9,240.2 80.1,241.6 80.3,241.9 80.4,242.5 80.6,243.5 80.8,243.9 81.0,244.1 81.1,245.0 81.3,245.8 81.5,245.3 81.6,245.6 81.8,245.5 82.0,246.2 82.2,245.7 82.3,245.9 82.5,246.8 82.7,246.1 82.9,246.8 83.0,246.9 83.2,246.4 83.4,246.5 83.5,246.9 83.7,246.0 83.9,245.7 84.1,245.3 84.2,245.6 84.4,246.0 84.6,245.8 84.8,245.1 84.9,245.1 85.1,245.3 85.3,245.7 85.4,245.8 85.6,246.1 85.8,246.4 86.0,246.5 86.1,246.8 86.3,247.2 86.5,247.3 86.7,247.7 86.8,248.4 87.0,248.1 87.2,248.0 87.3,247.6 87.5,248.4 87.7,247.7 87.9,247.9 88.0,248.8 88.2,248.8 88.4,248.5 88.6,248.0 88.7,248.5 88.9,248.5 89.1,248.9 89.2,249.5 89.4,248.9 89.6,248.5 89.8,248.4 89.9,248.8 90.1,248.8 90.3,248.5 90.4,249.0 90.6,248.5 90.8,249.3 91.0,249.3 91.1,249.4 91.3,248.8 91.5,249.2 91.7,249.0 91.8,248.9 92.0,248.9 92.2,248.6 92.3,248.6 92.5,249.4 92.7,249.1 92.9,249.2 93.0,249.5 93.2,248.6 93.4,248.9 93.6,249.2 93.7,249.3 93.9,249.1 94.1,249.6 94.2,249.3 94.4,248.8 94.6,248.9 94.8,249.5 94.9,249.4 95.1,248.6 95.3,249.8 95.5,249.5 95.6,249.8 95.8,249.2 96.0,249.2 96.1,248.9 96.3,250.2 96.5,249.3 96.7,249.9 96.8,249.1 97.0,249.4 97.2,248.8 97.4,249.3 97.5,249.7 97.7,249.0 97.9,249.8 98.0,249.5 98.2,249.1 98.4,249.3 98.6,249.3 98.7,249.4 98.9,249.3 99.1,249.2 99.3,249.4 99.4,249.1 99.6,249.0 99.8,249.5 99.9,249.8 100.1,249.0 100.3,249.5 100.5,249.3 100.6,249.2 100.8,249.8 101.0,249.3 101.2,250.1 101.3,249.3 101.5,249.7 101.7,249.5 101.8,249.3 102.0,249.8 102.2,249.5 102.4,249.8 102.5,249.6 102.7,249.2 102.9,249.6 103.1,249.6 103.2,249.9 103.4,249.3 103.6,249.6 103.7,249.0 103.9,249.8 104.1,249.2 104.3,249.0 104.4,249.6 104.6,250.0 104.8,249.1 105.0,249.3 105.1,249.4 105.3,249.3 105.5,249.8 105.6,249.4 105.8,249.4 106.0,249.9 106.2,249.4 106.3,249.8 106.5,249.3 106.7,249.3 106.9,249.1 107.0,250.3 107.2,249.6 107.4,249.8 107.5,249.7 107.7,249.8 107.9,249.7 108.1,250.4 108.2,249.4 108.4,249.2 108.6,249.4 108.7,249.3 108.9,250.0 109.1,250.0 109.3,249.4 109.4,249.3 109.6,249.6 109.8,250.2 110.0,248.8 110.1,249.9 110.3,249.4 110.5,250.1 110.6,249.4 110.8,249.7 111.0,249.2 111.2,249.4 111.3,250.2 111.5,250.0 111.7,249.6 111.9,249.4 112.0,249.1 112.2,249.6 112.4,249.7 112.5,249.7 112.7,249.7 112.9,249.3 113.1,249.7 113.2,249.7 113.4,250.2 113.6,250.4 113.8,249.7 113.9,249.4 114.1,249.7 114.3,249.5 114.4,249.4 114.6,249.6 114.8,249.3 115.0,249.8 115.1,249.6 115.3,249.7 115.5,249.5 115.7,249.2 115.8,249.1 116.0,249.3 116.2,249.1 116.3,249.3 116.5,249.2 116.7,248.6 116.9,249.0 117.0,248.3 117.2,248.4 117.4,248.4 117.6,247.6 117.7,248.1 117.9,247.9 118.1,247.6 118.2,247.2 118.4,246.9 118.6,246.4 118.8,246.3 118.9,245.9 119.1,245.8 119.3,245.0 119.5,245.2 119.6,244.8 119.8,244.4 120.0,244.0 120.1,244.1 120.3,243.1 120.5,243.7 120.7,243.6 120.8,243.6 121.0,243.6 121.2,243.4 121.4,243.7 121.5,244.2 121.7,244.4 121.9,244.6 122.0,244.3 122.2,245.3 122.4,245.9 122.6,246.2 122.7,246.3 122.9,246.0 123.1,247.2 123.3,247.1 123.4,246.6 123.6,247.9 123.8,247.5 123.9,247.8 124.1,248.3 124.3,249.1 124.5,248.7 124.6,249.1 124.8,249.8 125.0,249.8 125.2,249.4 125.3,249.4 125.5,249.1 125.7,249.4 125.8,249.9 126.0,249.9 126.2,249.8 126.4,250.2 126.5,249.6 126.7,249.9 126.9,250.2 127.0,250.2 127.2,250.4 127.4,250.2 127.6,249.9 127.7,250.2 127.9,249.7 128.1,249.5 128.3,250.3 128.4,250.1 128.6,250.2 128.8,249.5 128.9,250.0 129.1,249.9 129.3,249.9 129.5,249.4 129.6,250.1 129.8,250.5 130.0,250.3 130.2,250.0 130.3,250.2 130.5,250.5 130.7,249.3 130.8,250.2 131.0,250.4 131.2,250.5 131.4,250.9 131.5,250.7 131.7,250.4 131.9,250.4 132.1,250.6 132.2,250.1 132.4,250.3 132.6,250.6 132.7,251.0 132.9,250.2 133.1,250.3 133.3,250.4 133.4,250.8 133.6,250.3 133.8,250.8 134.0,250.0 134.1,250.3 134.3,250.3 134.5,250.6 134.6,250.7 134.8,249.8 135.0,250.0 135.2,250.5 135.3,250.1 135.5,249.8 135.7,250.7 135.9,250.5 136.0,250.5 136.2,250.2 136.4,250.7 136.5,250.3 136.7,250.7 136.9,250.0 137.1,250.1 137.2,250.4 137.4,250.1 137.6,250.6 137.8,250.5 137.9,250.1 138.1,250.4 138.3,250.3 138.4,250.7 138.6,250.2 138.8,250.2 139.0,250.8 139.1,251.2 139.3,251.1 139.5,250.4 139.7,250.5 139.8,250.9 140.0,250.4 140.2,250.1 140.3,250.4 140.5,250.6 140.7,250.1 140.9,249.8 141.0,249.9 141.2,250.6 141.4,250.1 141.6,250.4 141.7,250.5 141.9,250.6 142.1,250.3 142.2,250.6 142.4,250.1 142.6,250.3 142.8,250.1 142.9,250.8 143.1,250.4 143.3,250.2 143.5,250.3 143.6,250.3 143.8,250.7 144.0,249.9 144.1,250.1 144.3,250.3 144.5,251.3 144.7,250.8 144.8,250.4 145.0,250.7 145.2,251.1 145.4,250.3 145.5,250.3 145.7,250.8 145.9,250.6 146.0,250.7 146.2,250.2 146.4,251.1 146.6,251.0 146.7,250.6 146.9,250.7 147.1,249.7 147.2,250.6 147.4,250.3 147.6,250.6 147.8,250.6 147.9,250.3 148.1,249.8 148.3,250.5 148.5,250.1 148.6,250.3 148.8,250.2 149.0,250.3 149.1,249.6 149.3,250.8 149.5,250.5 149.7,250.8 149.8,251.0 150.0,250.4 150.2,249.7 150.4,250.0 150.5,249.9 150.7,250.1 150.9,250.3 151.0,249.6 151.2,250.4 151.4,249.7 151.6,250.3 151.7,250.2 151.9,250.1 152.1,250.1 152.3,249.9 152.4,249.8 152.6,249.4 152.8,249.9 152.9,250.4 153.1,250.3 153.3,249.9 153.5,249.4 153.6,248.6 153.8,249.0 154.0,248.0 154.2,247.4 154.3,246.6 154.5,246.0 154.7,244.9 154.8,244.2 155.0,243.0 155.2,242.4 155.4,242.7 155.5,241.5 155.7,241.3 155.9,241.7 156.1,242.2 156.2,242.2 156.4,243.3 156.6,244.6 156.7,245.2 156.9,246.0 157.1,247.3 157.3,247.2 157.4,248.0 157.6,248.3 157.8,249.4 158.0,248.5 158.1,249.2 158.3,249.5 158.5,250.0 158.6,250.1 158.8,250.5 159.0,249.5 159.2,250.4 159.3,250.1 159.5,250.0 159.7,250.4 159.9,249.9 160.0,249.6 160.2,250.2 160.4,249.8 160.5,250.1 160.7,250.5 160.9,250.5 161.1,250.9 161.2,250.3 161.4,249.9 161.6,250.1 161.8,250.1 161.9,250.0 162.1,250.6 162.3,250.2 162.4,249.7 162.6,250.7 162.8,250.4 163.0,250.6 163.1,250.5 163.3,250.7 163.5,250.5 163.7,250.9 163.8,250.6 164.0,250.6 164.2,250.6 164.3,250.0 164.5,250.4 164.7,250.4 164.9,250.6 165.0,250.0 165.2,251.1 165.4,250.5 165.5,250.1 165.7,249.9 165.9,250.4 166.1,250.5 166.2,250.2 166.4,250.5 166.6,250.3 166.8,250.7 166.9,250.2 167.1,250.5 167.3,250.8 167.4,251.4 167.6,250.1 167.8,250.3 168.0,250.2 168.1,250.7 168.3,250.1 168.5,250.3 168.7,250.4 168.8,250.1 169.0,250.1 169.2,250.3 169.3,249.7 169.5,249.9 169.7,250.3 169.9,250.4 170.0,250.3 170.2,249.7 170.4,250.2 170.6,250.6 170.7,250.5 170.9,250.3 171.1,250.0 171.2,250.5 171.4,250.0 171.6,249.8 171.8,249.9 171.9,250.6 172.1,250.1 172.3,250.4 172.5,249.7 172.6,250.1 172.8,249.5 173.0,249.5 173.1,250.3 173.3,249.5 173.5,248.9 173.7,248.8 173.8,248.7 174.0,248.8 174.2,247.9 174.4,247.1 174.5,247.3 174.7,247.0 174.9,246.7 175.0,246.7 175.2,245.9 175.4,245.7 175.6,244.7 175.7,245.0 175.9,245.1 176.1,244.4 176.3,244.0 176.4,243.9 176.6,244.4 176.8,243.4 176.9,243.7 177.1,244.0 177.3,244.1 177.5,243.8 177.6,244.1 177.8,244.0 178.0,244.1 178.2,244.0 178.3,243.6 178.5,243.9 178.7,244.1 178.8,243.3 179.0,243.4 179.2,243.6 179.4,242.9 179.5,243.3 179.7,242.9 179.9,243.7 180.1,244.3 180.2,244.5 180.4,244.0 180.6,244.7 180.7,245.0 180.9,245.4 181.1,246.4 181.3,245.8 181.4,247.1 181.6,247.2 181.8,248.1 182.0,248.1 182.1,248.1 182.3,248.7 182.5,249.2 182.6,249.2 182.8,249.5 183.0,249.4 183.2,249.0 183.3,250.1 183.5,250.2 183.7,250.1 183.8,250.1 184.0,250.5 184.2,250.1 184.4,250.0 184.5,250.2 184.7,250.8 184.9,249.9 185.1,250.8 185.2,250.2 185.4,250.1 185.6,250.9 185.7,250.4 185.9,250.0 186.1,250.4 186.3,250.8 186.4,251.0 186.6,250.4 186.8,250.7 187.0,250.8 187.1,250.4 187.3,250.7 187.5,250.6 187.6,250.4 187.8,250.4 188.0,250.6 188.2,250.6 188.3,250.4 188.5,250.5 188.7,251.0 188.9,250.7 189.0,251.0 189.2,251.1 189.4,250.9 189.5,251.5 189.7,250.4 189.9,251.0 190.1,250.6 190.2,251.3 190.4,251.3 190.6,250.0 190.8,250.4 190.9,250.9 191.1,251.0 191.3,251.0 191.4,250.7 191.6,250.9 191.8,251.0 192.0,250.7 192.1,251.1 192.3,249.9 192.5,251.0 192.7,250.4 192.8,251.1 193.0,250.7 193.2,250.4 193.3,250.9 193.5,250.4 193.7,250.4 193.9,250.2 194.0,250.7 194.2,250.9 194.4,251.1 194.6,250.7 194.7,251.1 194.9,250.8 195.1,250.7 195.2,251.0 195.4,251.1 195.6,250.6 195.8,250.7 195.9,250.7 196.1,250.8 196.3,250.5 196.5,251.1 196.6,250.6 196.8,250.9 197.0,250.5 197.1,250.9 197.3,250.9 197.5,250.6 197.7,251.5 197.8,250.9 198.0,251.4 198.2,251.1 198.4,250.5 198.5,250.6 198.7,250.9 198.9,250.8 199.0,250.8 199.2,250.6 199.4,250.1 199.6,250.7 199.7,250.0 199.9,250.9 200.1,250.5 200.3,250.5 200.4,250.6 200.6,250.8 200.8,250.2 200.9,250.1 201.1,250.3 201.3,250.0 201.5,250.3 201.6,251.2 201.8,250.2 202.0,250.8 202.1,250.1 202.3,250.6 202.5,250.4 202.7,250.4 202.8,250.6 203.0,250.9 203.2,250.3 203.4,250.1 203.5,249.6 203.7,250.0 203.9,249.5 204.0,249.7 204.2,249.2 204.4,249.5 204.6,247.9 204.7,248.2 204.9,248.3 205.1,247.5 205.3,247.0 205.4,246.9 205.6,246.2 205.8,246.4 205.9,247.0 206.1,246.3 206.3,245.4 206.5,245.5 206.6,245.7 206.8,246.3 207.0,245.8 207.2,246.1 207.3,247.0 207.5,247.3 207.7,247.2 207.8,247.3 208.0,247.5 208.2,248.1 208.4,247.9 208.5,249.2 208.7,249.0 208.9,249.6 209.1,250.3 209.2,250.2 209.4,249.6 209.6,250.4 209.7,250.6 209.9,250.1 210.1,250.1 210.3,250.4 210.4,250.0 210.6,251.1 210.8,249.8 211.0,250.3 211.1,250.6 211.3,250.6 211.5,250.8 211.6,250.8 211.8,250.7 212.0,251.2 212.2,250.0 212.3,250.8 212.5,250.6 212.7,250.9 212.9,250.9 213.0,250.5 213.2,250.6 213.4,251.1 213.5,251.0 213.7,250.6 213.9,251.6 214.1,251.7 214.2,250.4 214.4,251.0 214.6,251.8 214.8,251.2 214.9,251.0 215.1,250.8 215.3,250.7 215.4,250.8 215.6,250.7 215.8,251.2 216.0,250.8 216.1,250.8 216.3,250.5 216.5,250.9 216.7,250.6 216.8,250.9 217.0,251.3 217.2,251.1 217.3,251.1 217.5,251.1 217.7,251.0 217.9,250.9 218.0,250.8 218.2,251.2 218.4,250.6 218.6,251.4 218.7,250.9 218.9,250.7 219.1,250.8 219.2,250.7 219.4,251.0 219.6,250.7 219.8,251.3 219.9,250.7 220.1,250.1 220.3,250.7 220.4,250.2 220.6,250.9 220.8,251.3 221.0,251.2 221.1,250.5 221.3,250.7 221.5,251.5 221.7,251.0 221.8,250.9 222.0,251.3 222.2,251.8 222.3,251.3 222.5,250.9 222.7,251.0 222.9,251.1 223.0,250.6 223.2,250.5 223.4,250.8 223.6,250.5 223.7,250.7 223.9,250.8 224.1,251.5 224.2,250.3 224.4,250.5 224.6,250.4 224.8,250.6 224.9,250.7 225.1,250.0 225.3,249.8 225.5,249.3 225.6,249.4 225.8,249.8 226.0,249.4 226.1,248.9 226.3,248.9 226.5,248.9 226.7,248.8 226.8,248.3 227.0,248.3 227.2,247.6 227.4,247.8 227.5,248.7 227.7,247.4 227.9,248.1 228.0,248.4 228.2,248.3 228.4,248.3 228.6,248.7 228.7,248.9 228.9,249.0 229.1,248.6 229.3,249.3 229.4,249.2 229.6,249.4 229.8,249.7 229.9,249.9 230.1,250.0 230.3,249.5 230.5,250.0 230.6,250.0 230.8,249.9 231.0,249.8 231.2,249.2 231.3,249.0 231.5,249.2 231.7,248.3 231.8,248.7 232.0,248.2 232.2,248.2 232.4,247.6 232.5,247.8 232.7,248.1 232.9,248.5 233.1,248.6 233.2,248.3 233.4,248.4 233.6,248.4 233.7,249.0 233.9,249.0 234.1,249.5 234.3,250.1 234.4,249.6 234.6,249.3 234.8,249.7 235.0,249.6 235.1,249.8 235.3,250.8 235.5,250.6 235.6,250.0 235.8,250.9 236.0,251.1 236.2,250.6 236.3,250.6 236.5,250.7 236.7,251.0 236.9,251.1 237.0,251.3 237.2,251.4 237.4,251.4 237.5,251.4 237.7,251.2 237.9,250.5 238.1,251.0 238.2,251.1 238.4,250.9 238.6,251.3 238.7,250.9 238.9,250.7 239.1,251.5 239.3,251.3 239.4,251.1 239.6,251.4 239.8,251.4 240.0,251.2 240.1,250.2 240.3,250.8 240.5,250.9 240.6,250.7 240.8,251.1 241.0,251.5 241.2,250.9 241.3,250.7 241.5,251.8 241.7,250.9 241.9,250.6 242.0,251.2 242.2,251.2 242.4,250.8 242.5,251.3 242.7,250.9 242.9,250.7 243.1,251.1 243.2,251.3 243.4,250.8 243.6,251.2 243.8,251.0 243.9,252.0 244.1,250.8 244.3,251.5 244.4,251.0 244.6,250.9 244.8,251.2 245.0,251.2 245.1,251.3 245.3,250.9 245.5,250.6 245.7,250.5 245.8,250.8 246.0,250.8 246.2,251.0 246.3,250.5 246.5,250.6 246.7,250.7 246.9,250.1 247.0,249.4 247.2,249.3 247.4,249.1 247.6,250.0 247.7,249.0 247.9,249.5 248.1,249.1 248.2,249.4 248.4,249.0 248.6,248.5 248.8,248.3 248.9,248.4 249.1,248.3 249.3,248.1 249.5,248.3 249.6,248.9 249.8,247.8 250.0,248.6 250.1,248.3 250.3,248.9 250.5,249.3 250.7,249.1 250.8,249.6 251.0,248.9 251.2,250.0 251.4,249.6 251.5,250.1 251.7,250.1 251.9,249.3 252.0,250.1 252.2,250.5 252.4,251.1 252.6,250.7 252.7,250.8 252.9,250.3 253.1,251.3 253.3,251.5 253.4,250.9 253.6,250.9 253.8,250.4 253.9,251.3 254.1,252.0 254.3,251.3 254.5,251.5 254.6,251.3 254.8,250.8 255.0,251.6 255.2,250.7 255.3,251.1 255.5,251.3 255.7,251.5 255.8,251.3 256.0,251.3 256.2,250.9 256.4,250.8 256.5,251.2 256.7,251.0 256.9,250.8 257.0,250.8 257.2,251.1 257.4,250.6 257.6,250.8 257.7,250.7 257.9,251.3 258.1,251.4 258.3,252.0 258.4,250.7 258.6,251.0 258.8,251.6 258.9,251.2 259.1,251.2 259.3,251.9 259.5,251.2 259.6,250.9 259.8,250.8 260.0,251.4 260.2,251.4 260.3,250.8 260.5,251.0 260.7,251.5 260.8,251.5 261.0,251.1 261.2,251.5 261.4,251.5 261.5,250.7 261.7,251.2 261.9,251.5 262.1,251.1 262.2,250.6 262.4,251.2 262.6,251.6 262.7,251.9 262.9,250.6 263.1,252.2 263.3,250.9 263.4,251.7 263.6,251.8 263.8,251.7 264.0,251.4 264.1,250.9 264.3,251.6 264.5,251.1 264.6,250.5 264.8,252.3 265.0,251.6 265.2,252.0 265.3,251.0 265.5,251.9 265.7,251.9 265.9,251.9 266.0,251.3 266.2,250.9" fill="none" stroke="#0000ff" stroke-width="1.3" stroke-linejoin="round"/></g><g clip-path="url(#clc)"><polyline points="24.5,281.3 24.7,281.4 24.8,281.4 25.0,281.8 25.2,281.1 25.4,281.8 25.5,281.5 25.7,282.2 25.9,282.2 26.1,282.4 26.2,282.1 26.4,281.9 26.6,282.2 26.7,282.4 26.9,281.6 27.1,282.1 27.3,281.9 27.4,282.4 27.6,281.6 27.8,281.8 28.0,282.0 28.1,282.0 28.3,281.3 28.5,282.0 28.6,281.8 28.8,281.8 29.0,281.8 29.2,281.9 29.3,281.2 29.5,282.4 29.7,281.6 29.9,281.1 30.0,281.8 30.2,282.4 30.4,281.7 30.5,282.4 30.7,282.4 30.9,281.6 31.1,281.0 31.2,281.4 31.4,282.3 31.6,281.6 31.8,281.3 31.9,281.4 32.1,281.9 32.3,281.8 32.4,282.2 32.6,282.2 32.8,281.5 33.0,281.8 33.1,281.5 33.3,281.9 33.5,281.4 33.7,281.4 33.8,282.6 34.0,281.9 34.2,282.1 34.3,282.7 34.5,282.1 34.7,281.8 34.9,281.9 35.0,281.6 35.2,282.2 35.4,281.7 35.5,282.5 35.7,281.7 35.9,281.7 36.1,281.7 36.2,282.1 36.4,281.9 36.6,282.3 36.8,281.6 36.9,281.9 37.1,282.5 37.3,281.8 37.4,282.0 37.6,282.4 37.8,282.0 38.0,281.6 38.1,281.1 38.3,282.7 38.5,282.0 38.7,282.3 38.8,281.7 39.0,282.5 39.2,282.0 39.3,281.8 39.5,281.5 39.7,282.0 39.9,281.7 40.0,281.7 40.2,281.3 40.4,281.6 40.6,281.9 40.7,281.4 40.9,281.8 41.1,282.1 41.2,281.7 41.4,281.6 41.6,281.6 41.8,282.1 41.9,281.3 42.1,281.7 42.3,281.7 42.5,281.9 42.6,281.8 42.8,281.4 43.0,282.5 43.1,281.9 43.3,281.3 43.5,281.5 43.7,281.8 43.8,282.0 44.0,281.3 44.2,282.1 44.4,281.3 44.5,281.5 44.7,282.1 44.9,282.4 45.0,281.8 45.2,281.7 45.4,282.2 45.6,281.4 45.7,281.9 45.9,281.9 46.1,282.1 46.3,281.9 46.4,281.7 46.6,282.0 46.8,281.4 46.9,282.1 47.1,281.6 47.3,281.5 47.5,281.7 47.6,281.8 47.8,282.0 48.0,281.7 48.2,282.0 48.3,282.1 48.5,281.7 48.7,281.4 48.8,282.1 49.0,281.9 49.2,281.0 49.4,281.4 49.5,281.8 49.7,281.3 49.9,281.5 50.1,281.2 50.2,281.9 50.4,281.9 50.6,281.8 50.7,282.3 50.9,281.6 51.1,281.7 51.3,282.5 51.4,281.3 51.6,282.0 51.8,281.3 52.0,281.8 52.1,282.5 52.3,281.8 52.5,281.5 52.6,282.6 52.8,281.6 53.0,281.7 53.2,281.9 53.3,281.3 53.5,282.1 53.7,282.3 53.8,282.0 54.0,281.9 54.2,281.7 54.4,282.1 54.5,280.6 54.7,281.7 54.9,281.8 55.1,281.0 55.2,281.9 55.4,281.7 55.6,281.7 55.7,281.8 55.9,281.9 56.1,281.9 56.3,281.4 56.4,281.7 56.6,281.7 56.8,281.7 57.0,281.5 57.1,282.1 57.3,282.2 57.5,282.3 57.6,282.4 57.8,282.2 58.0,281.6 58.2,281.5 58.3,281.6 58.5,281.9 58.7,281.7 58.9,282.1 59.0,282.3 59.2,281.6 59.4,282.1 59.5,281.6 59.7,281.3 59.9,281.3 60.1,281.6 60.2,281.0 60.4,281.9 60.6,282.2 60.8,281.3 60.9,281.6 61.1,282.2 61.3,281.8 61.4,281.8 61.6,281.6 61.8,282.1 62.0,281.8 62.1,281.3 62.3,280.8 62.5,280.8 62.7,281.9 62.8,281.6 63.0,282.2 63.2,281.9 63.3,281.2 63.5,281.8 63.7,282.1 63.9,281.4 64.0,281.5 64.2,282.3 64.4,281.1 64.6,281.3 64.7,282.0 64.9,281.7 65.1,281.3 65.2,281.1 65.4,281.8 65.6,282.1 65.8,281.9 65.9,281.8 66.1,282.2 66.3,281.7 66.5,281.3 66.6,282.3 66.8,281.2 67.0,281.5 67.1,281.6 67.3,282.1 67.5,281.3 67.7,281.5 67.8,280.9 68.0,281.6 68.2,281.7 68.4,281.7 68.5,281.2 68.7,281.6 68.9,281.1 69.0,281.3 69.2,281.4 69.4,281.8 69.6,281.2 69.7,281.4 69.9,281.0 70.1,281.1 70.3,281.0 70.4,281.2 70.6,281.5 70.8,280.8 70.9,281.4 71.1,280.7 71.3,281.1 71.5,280.8 71.6,280.8 71.8,280.7 72.0,281.1 72.1,280.8 72.3,281.0 72.5,280.4 72.7,280.3 72.8,280.8 73.0,279.5 73.2,279.7 73.4,279.7 73.5,280.2 73.7,279.1 73.9,279.3 74.0,279.3 74.2,278.2 74.4,277.8 74.6,277.9 74.7,276.5 74.9,275.5 75.1,275.3 75.3,273.9 75.4,273.4 75.6,271.8 75.8,269.6 75.9,268.8 76.1,267.1 76.3,265.1 76.5,264.1 76.6,261.4 76.8,260.1 77.0,259.2 77.2,258.9 77.3,257.8 77.5,258.4 77.7,259.2 77.8,260.1 78.0,261.9 78.2,263.3 78.4,265.3 78.5,267.2 78.7,268.4 78.9,270.0 79.1,271.4 79.2,272.7 79.4,273.6 79.6,274.7 79.7,276.0 79.9,276.4 80.1,278.6 80.3,277.7 80.4,278.6 80.6,278.3 80.8,279.1 81.0,279.3 81.1,279.7 81.3,280.4 81.5,280.1 81.6,279.9 81.8,280.5 82.0,280.2 82.2,280.6 82.3,281.3 82.5,281.2 82.7,281.3 82.9,281.2 83.0,281.1 83.2,280.6 83.4,281.1 83.5,281.1 83.7,281.6 83.9,281.8 84.1,281.6 84.2,281.2 84.4,282.2 84.6,282.1 84.8,281.5 84.9,281.7 85.1,281.9 85.3,281.7 85.4,281.7 85.6,281.9 85.8,281.8 86.0,281.9 86.1,281.3 86.3,281.3 86.5,282.5 86.7,281.4 86.8,282.1 87.0,282.0 87.2,282.0 87.3,281.7 87.5,282.3 87.7,282.1 87.9,281.9 88.0,281.5 88.2,282.0 88.4,281.8 88.6,281.6 88.7,282.2 88.9,282.3 89.1,282.4 89.2,282.2 89.4,282.0 89.6,282.5 89.8,282.4 89.9,283.0 90.1,282.4 90.3,281.9 90.4,282.5 90.6,283.0 90.8,282.3 91.0,282.2 91.1,282.0 91.3,282.9 91.5,282.2 91.7,282.2 91.8,282.4 92.0,281.8 92.2,282.2 92.3,281.9 92.5,282.3 92.7,282.5 92.9,282.6 93.0,282.2 93.2,282.6 93.4,282.2 93.6,281.8 93.7,282.6 93.9,282.3 94.1,282.4 94.2,281.5 94.4,282.5 94.6,282.5 94.8,282.5 94.9,282.8 95.1,282.3 95.3,283.2 95.5,282.7 95.6,282.6 95.8,281.6 96.0,281.7 96.1,283.0 96.3,282.6 96.5,282.8 96.7,282.3 96.8,282.4 97.0,282.7 97.2,282.2 97.4,282.9 97.5,282.1 97.7,282.6 97.9,282.4 98.0,282.6 98.2,282.9 98.4,282.1 98.6,282.7 98.7,282.6 98.9,282.8 99.1,282.5 99.3,282.4 99.4,282.7 99.6,283.0 99.8,282.8 99.9,282.6 100.1,282.7 100.3,282.0 100.5,282.4 100.6,282.5 100.8,282.4 101.0,282.3 101.2,282.6 101.3,282.7 101.5,283.3 101.7,282.4 101.8,282.3 102.0,283.0 102.2,282.7 102.4,282.3 102.5,283.1 102.7,282.5 102.9,282.5 103.1,282.4 103.2,282.3 103.4,282.7 103.6,282.3 103.7,283.5 103.9,282.8 104.1,282.6 104.3,282.4 104.4,282.7 104.6,283.0 104.8,282.7 105.0,282.2 105.1,282.6 105.3,282.1 105.5,283.2 105.6,282.9 105.8,282.7 106.0,282.8 106.2,282.5 106.3,282.6 106.5,283.0 106.7,282.7 106.9,282.9 107.0,282.8 107.2,282.8 107.4,282.8 107.5,283.0 107.7,282.6 107.9,282.9 108.1,282.4 108.2,282.5 108.4,282.4 108.6,283.0 108.7,282.6 108.9,283.1 109.1,282.3 109.3,282.8 109.4,282.3 109.6,283.1 109.8,282.5 110.0,282.9 110.1,282.5 110.3,282.4 110.5,282.8 110.6,282.1 110.8,282.3 111.0,283.2 111.2,282.4 111.3,283.0 111.5,282.4 111.7,282.1 111.9,282.6 112.0,283.0 112.2,282.7 112.4,282.6 112.5,283.0 112.7,282.4 112.9,283.0 113.1,282.8 113.2,282.3 113.4,283.0 113.6,283.1 113.8,282.6 113.9,282.7 114.1,282.6 114.3,282.3 114.4,282.9 114.6,282.3 114.8,282.8 115.0,282.4 115.1,282.2 115.3,282.8 115.5,282.6 115.7,283.2 115.8,282.5 116.0,282.5 116.2,282.5 116.3,282.3 116.5,282.8 116.7,282.8 116.9,282.4 117.0,281.7 117.2,282.1 117.4,281.9 117.6,281.6 117.7,281.1 117.9,281.8 118.1,281.7 118.2,281.2 118.4,281.1 118.6,281.3 118.8,281.2 118.9,280.3 119.1,279.0 119.3,280.1 119.5,279.6 119.6,279.6 119.8,279.0 120.0,278.6 120.1,279.0 120.3,278.6 120.5,278.6 120.7,278.7 120.8,278.5 121.0,278.0 121.2,278.8 121.4,278.5 121.5,278.8 121.7,279.2 121.9,278.7 122.0,279.3 122.2,279.0 122.4,279.7 122.6,280.2 122.7,280.3 122.9,280.4 123.1,281.0 123.3,280.8 123.4,280.6 123.6,281.7 123.8,281.6 123.9,282.0 124.1,281.7 124.3,281.8 124.5,281.8 124.6,281.5 124.8,282.1 125.0,282.1 125.2,283.0 125.3,281.8 125.5,282.5 125.7,282.5 125.8,282.6 126.0,282.6 126.2,282.8 126.4,283.0 126.5,282.2 126.7,283.1 126.9,282.7 127.0,282.4 127.2,282.2 127.4,282.2 127.6,282.8 127.7,282.4 127.9,282.5 128.1,282.7 128.3,282.9 128.4,282.7 128.6,282.5 128.8,282.7 128.9,282.8 129.1,282.5 129.3,283.2 129.5,283.4 129.6,283.4 129.8,282.8 130.0,282.8 130.2,282.6 130.3,283.4 130.5,282.8 130.7,283.7 130.8,282.3 131.0,283.1 131.2,283.2 131.4,283.0 131.5,283.2 131.7,283.7 131.9,283.0 132.1,283.3 132.2,282.8 132.4,282.6 132.6,282.6 132.7,283.3 132.9,283.1 133.1,282.5 133.3,283.1 133.4,283.2 133.6,283.2 133.8,283.4 134.0,282.5 134.1,282.7 134.3,282.7 134.5,283.1 134.6,283.5 134.8,282.9 135.0,283.2 135.2,283.4 135.3,282.9 135.5,283.3 135.7,283.0 135.9,283.7 136.0,283.6 136.2,282.9 136.4,282.9 136.5,283.7 136.7,282.8 136.9,283.5 137.1,282.9 137.2,282.7 137.4,283.7 137.6,283.2 137.8,282.7 137.9,283.0 138.1,282.8 138.3,282.8 138.4,283.1 138.6,283.5 138.8,282.6 139.0,283.3 139.1,282.6 139.3,283.1 139.5,282.6 139.7,282.6 139.8,282.9 140.0,283.5 140.2,283.4 140.3,283.1 140.5,283.0 140.7,283.1 140.9,284.1 141.0,283.2 141.2,283.1 141.4,282.9 141.6,283.0 141.7,283.3 141.9,283.3 142.1,282.3 142.2,283.8 142.4,283.3 142.6,283.1 142.8,284.0 142.9,282.6 143.1,282.7 143.3,283.5 143.5,283.1 143.6,283.4 143.8,283.5 144.0,283.8 144.1,283.3 144.3,282.9 144.5,282.5 144.7,283.2 144.8,282.5 145.0,283.1 145.2,282.8 145.4,283.2 145.5,283.4 145.7,283.1 145.9,282.6 146.0,283.2 146.2,282.9 146.4,283.2 146.6,282.9 146.7,283.9 146.9,282.9 147.1,282.4 147.2,282.8 147.4,283.1 147.6,284.1 147.8,283.6 147.9,282.9 148.1,283.1 148.3,282.7 148.5,282.6 148.6,283.4 148.8,283.2 149.0,282.8 149.1,282.8 149.3,283.2 149.5,283.3 149.7,282.8 149.8,282.4 150.0,283.3 150.2,282.8 150.4,282.4 150.5,282.9 150.7,283.1 150.9,283.3 151.0,282.8 151.2,283.0 151.4,282.5 151.6,283.1 151.7,282.3 151.9,283.1 152.1,282.9 152.3,282.2 152.4,282.5 152.6,283.2 152.8,282.1 152.9,281.8 153.1,282.1 153.3,282.1 153.5,282.1 153.6,281.4 153.8,280.9 154.0,280.6 154.2,280.5 154.3,279.7 154.5,279.4 154.7,278.0 154.8,277.9 155.0,277.4 155.2,277.3 155.4,276.8 155.5,276.4 155.7,276.6 155.9,276.4 156.1,277.7 156.2,276.7 156.4,277.5 156.6,278.7 156.7,278.9 156.9,279.3 157.1,280.1 157.3,280.1 157.4,280.8 157.6,281.2 157.8,282.2 158.0,281.9 158.1,282.8 158.3,282.2 158.5,282.5 158.6,281.9 158.8,282.9 159.0,282.0 159.2,283.0 159.3,283.2 159.5,283.0 159.7,282.5 159.9,282.8 160.0,282.0 160.2,282.7 160.4,283.1 160.5,283.0 160.7,282.9 160.9,283.5 161.1,283.2 161.2,283.1 161.4,283.1 161.6,282.7 161.8,283.0 161.9,282.4 162.1,282.1 162.3,283.0 162.4,283.4 162.6,282.7 162.8,283.2 163.0,282.5 163.1,283.1 163.3,283.1 163.5,283.1 163.7,282.6 163.8,283.3 164.0,283.4 164.2,283.3 164.3,283.9 164.5,283.0 164.7,283.2 164.9,283.6 165.0,282.7 165.2,282.8 165.4,283.5 165.5,283.0 165.7,282.9 165.9,283.3 166.1,282.7 166.2,283.2 166.4,282.8 166.6,282.9 166.8,282.2 166.9,283.2 167.1,283.2 167.3,283.1 167.4,282.9 167.6,283.2 167.8,283.7 168.0,283.4 168.1,282.9 168.3,283.2 168.5,283.0 168.7,283.3 168.8,282.8 169.0,283.6 169.2,282.8 169.3,282.8 169.5,283.2 169.7,283.7 169.9,282.5 170.0,283.1 170.2,283.3 170.4,284.0 170.6,282.5 170.7,283.4 170.9,282.7 171.1,282.9 171.2,283.3 171.4,283.0 171.6,282.4 171.8,282.8 171.9,282.7 172.1,282.8 172.3,282.4 172.5,282.4 172.6,282.4 172.8,282.5 173.0,282.3 173.1,282.4 173.3,282.3 173.5,282.1 173.7,281.5 173.8,281.0 174.0,281.1 174.2,280.9 174.4,280.8 174.5,281.0 174.7,280.4 174.9,279.8 175.0,279.4 175.2,279.6 175.4,279.3 175.6,278.8 175.7,278.3 175.9,278.6 176.1,278.6 176.3,278.4 176.4,277.7 176.6,278.0 176.8,278.0 176.9,277.8 177.1,278.1 177.3,277.9 177.5,278.4 177.6,277.9 177.8,278.7 178.0,278.5 178.2,278.3 178.3,278.2 178.5,278.5 178.7,277.9 178.8,278.1 179.0,277.8 179.2,278.4 179.4,277.7 179.5,277.7 179.7,276.9 179.9,278.0 180.1,277.9 180.2,278.4 180.4,277.9 180.6,278.4 180.7,279.5 180.9,279.0 181.1,279.7 181.3,280.2 181.4,280.3 181.6,280.6 181.8,281.3 182.0,280.9 182.1,281.6 182.3,281.5 182.5,281.4 182.6,282.0 182.8,282.6 183.0,282.2 183.2,282.2 183.3,282.5 183.5,282.5 183.7,282.9 183.8,282.4 184.0,283.2 184.2,283.1 184.4,283.4 184.5,282.8 184.7,283.4 184.9,282.7 185.1,283.3 185.2,283.0 185.4,282.7 185.6,283.4 185.7,283.7 185.9,283.8 186.1,283.3 186.3,283.1 186.4,283.7 186.6,282.9 186.8,283.3 187.0,282.7 187.1,283.3 187.3,283.3 187.5,283.1 187.6,283.6 187.8,283.2 188.0,283.4 188.2,283.5 188.3,283.2 188.5,282.4 188.7,283.1 188.9,283.4 189.0,282.9 189.2,283.3 189.4,282.8 189.5,283.5 189.7,283.5 189.9,283.5 190.1,283.2 190.2,283.4 190.4,282.9 190.6,283.1 190.8,283.5 190.9,283.1 191.1,283.3 191.3,283.3 191.4,283.7 191.6,283.1 191.8,283.2 192.0,283.1 192.1,282.8 192.3,283.4 192.5,282.6 192.7,283.1 192.8,283.8 193.0,283.4 193.2,282.6 193.3,283.0 193.5,283.9 193.7,283.3 193.9,284.0 194.0,283.2 194.2,282.5 194.4,283.5 194.6,283.3 194.7,283.5 194.9,283.0 195.1,283.0 195.2,283.2 195.4,283.0 195.6,283.7 195.8,283.8 195.9,283.3 196.1,283.7 196.3,283.1 196.5,283.3 196.6,282.8 196.8,283.8 197.0,283.2 197.1,283.8 197.3,283.8 197.5,283.6 197.7,283.5 197.8,283.0 198.0,283.7 198.2,283.6 198.4,283.8 198.5,283.5 198.7,283.0 198.9,283.0 199.0,283.7 199.2,284.0 199.4,283.3 199.6,283.4 199.7,283.5 199.9,283.5 200.1,283.5 200.3,283.3 200.4,283.4 200.6,283.2 200.8,283.3 200.9,283.6 201.1,283.4 201.3,283.1 201.5,283.4 201.6,282.9 201.8,283.1 202.0,282.9 202.1,283.3 202.3,283.4 202.5,283.0 202.7,282.8 202.8,283.3 203.0,283.1 203.2,282.4 203.4,283.2 203.5,283.1 203.7,282.6 203.9,282.6 204.0,282.4 204.2,282.2 204.4,282.3 204.6,281.8 204.7,281.7 204.9,281.7 205.1,280.9 205.3,281.1 205.4,280.7 205.6,280.8 205.8,280.6 205.9,280.6 206.1,280.7 206.3,280.2 206.5,280.6 206.6,279.9 206.8,280.9 207.0,280.7 207.2,281.1 207.3,280.3 207.5,281.6 207.7,281.2 207.8,281.6 208.0,281.7 208.2,281.8 208.4,281.8 208.5,281.5 208.7,282.8 208.9,283.1 209.1,282.4 209.2,283.2 209.4,283.1 209.6,283.0 209.7,282.9 209.9,283.3 210.1,282.9 210.3,283.0 210.4,283.0 210.6,283.0 210.8,283.1 211.0,283.5 211.1,283.6 211.3,283.1 211.5,283.3 211.6,283.3 211.8,282.8 212.0,283.8 212.2,283.0 212.3,283.8 212.5,282.6 212.7,283.2 212.9,283.7 213.0,283.6 213.2,283.6 213.4,283.4 213.5,284.2 213.7,283.5 213.9,283.6 214.1,283.2 214.2,283.2 214.4,284.0 214.6,284.0 214.8,282.9 214.9,283.3 215.1,283.9 215.3,283.5 215.4,283.8 215.6,282.9 215.8,283.6 216.0,283.5 216.1,283.5 216.3,283.3 216.5,283.5 216.7,284.1 216.8,283.1 217.0,283.5 217.2,283.4 217.3,283.4 217.5,284.2 217.7,284.1 217.9,283.4 218.0,283.7 218.2,283.2 218.4,283.6 218.6,283.4 218.7,284.0 218.9,283.7 219.1,283.2 219.2,282.9 219.4,283.1 219.6,284.3 219.8,283.2 219.9,283.0 220.1,283.3 220.3,283.3 220.4,283.7 220.6,283.2 220.8,284.1 221.0,283.5 221.1,283.6 221.3,284.0 221.5,283.6 221.7,283.6 221.8,283.7 222.0,283.2 222.2,283.3 222.3,283.7 222.5,283.2 222.7,283.3 222.9,283.8 223.0,283.6 223.2,283.5 223.4,283.0 223.6,284.1 223.7,283.3 223.9,283.2 224.1,283.2 224.2,282.9 224.4,283.1 224.6,283.8 224.8,282.5 224.9,283.7 225.1,282.5 225.3,282.4 225.5,283.1 225.6,283.2 225.8,282.2 226.0,282.5 226.1,281.8 226.3,281.8 226.5,281.6 226.7,281.7 226.8,281.4 227.0,281.5 227.2,281.3 227.4,281.4 227.5,281.4 227.7,281.1 227.9,281.2 228.0,281.0 228.2,281.7 228.4,281.9 228.6,281.6 228.7,281.7 228.9,281.7 229.1,281.8 229.3,282.1 229.4,281.6 229.6,281.7 229.8,282.3 229.9,282.6 230.1,282.0 230.3,282.6 230.5,282.6 230.6,282.2 230.8,282.9 231.0,282.0 231.2,282.0 231.3,281.5 231.5,281.4 231.7,281.7 231.8,281.8 232.0,281.4 232.2,281.4 232.4,281.4 232.5,281.6 232.7,280.7 232.9,281.6 233.1,281.1 233.2,281.6 233.4,281.8 233.6,281.2 233.7,282.2 233.9,281.9 234.1,281.9 234.3,282.8 234.4,281.9 234.6,281.9 234.8,282.7 235.0,282.9 235.1,282.7 235.3,283.1 235.5,282.2 235.6,283.4 235.8,283.2 236.0,282.8 236.2,282.8 236.3,283.5 236.5,283.5 236.7,283.1 236.9,283.4 237.0,283.4 237.2,283.8 237.4,283.1 237.5,283.8 237.7,283.5 237.9,283.5 238.1,283.7 238.2,283.4 238.4,283.0 238.6,283.0 238.7,283.9 238.9,282.9 239.1,283.9 239.3,283.3 239.4,284.0 239.6,283.3 239.8,283.7 240.0,283.6 240.1,283.9 240.3,283.5 240.5,283.8 240.6,284.2 240.8,283.1 241.0,284.0 241.2,283.2 241.3,283.9 241.5,283.5 241.7,284.1 241.9,283.5 242.0,283.4 242.2,284.0 242.4,283.5 242.5,283.5 242.7,283.9 242.9,284.1 243.1,283.9 243.2,282.9 243.4,283.7 243.6,283.7 243.8,283.9 243.9,284.0 244.1,283.9 244.3,283.7 244.4,284.3 244.6,283.5 244.8,283.3 245.0,283.1 245.1,283.4 245.3,283.7 245.5,283.4 245.7,283.9 245.8,283.3 246.0,283.1 246.2,283.7 246.3,283.1 246.5,283.4 246.7,282.2 246.9,282.4 247.0,282.6 247.2,282.3 247.4,282.6 247.6,282.4 247.7,282.3 247.9,281.8 248.1,281.7 248.2,281.7 248.4,282.3 248.6,281.6 248.8,281.9 248.9,281.3 249.1,281.0 249.3,281.5 249.5,281.8 249.6,281.0 249.8,281.4 250.0,281.9 250.1,281.7 250.3,281.8 250.5,282.3 250.7,282.2 250.8,282.3 251.0,282.2 251.2,282.6 251.4,282.5 251.5,283.2 251.7,281.8 251.9,283.0 252.0,283.3 252.2,282.8 252.4,283.4 252.6,283.0 252.7,283.6 252.9,284.0 253.1,283.4 253.3,284.3 253.4,283.5 253.6,282.7 253.8,283.4 253.9,283.7 254.1,283.7 254.3,283.6 254.5,283.8 254.6,283.6 254.8,284.1 255.0,283.8 255.2,283.7 255.3,284.3 255.5,283.3 255.7,283.1 255.8,283.5 256.0,282.8 256.2,283.9 256.4,283.6 256.5,284.5 256.7,283.4 256.9,283.3 257.0,284.0 257.2,284.0 257.4,284.0 257.6,283.6 257.7,283.6 257.9,284.0 258.1,283.7 258.3,284.0 258.4,284.2 258.6,283.7 258.8,284.0 258.9,283.1 259.1,284.4 259.3,284.3 259.5,283.9 259.6,283.7 259.8,283.9 260.0,283.9 260.2,283.8 260.3,283.6 260.5,283.9 260.7,284.3 260.8,283.2 261.0,283.7 261.2,283.6 261.4,283.4 261.5,283.8 261.7,283.1 261.9,283.7 262.1,284.1 262.2,284.2 262.4,284.1 262.6,284.0 262.7,284.1 262.9,283.9 263.1,284.0 263.3,284.1 263.4,284.4 263.6,284.2 263.8,284.2 264.0,283.3 264.1,284.0 264.3,283.9 264.5,283.7 264.6,283.5 264.8,284.1 265.0,283.9 265.2,283.8 265.3,283.5 265.5,283.6 265.7,283.7 265.9,284.0 266.0,284.4 266.2,283.9" fill="none" stroke="#11ee11" stroke-width="1.3" stroke-linejoin="round"/></g><g clip-path="url(#clc)"><polyline points="24.5,359.1 24.7,359.4 24.8,358.9 25.0,359.5 25.2,359.6 25.4,359.2 25.5,359.4 25.7,359.4 25.9,359.2 26.1,359.1 26.2,358.8 26.4,359.7 26.6,359.3 26.7,360.0 26.9,359.5 27.1,359.4 27.3,359.2 27.4,359.7 27.6,359.2 27.8,359.7 28.0,359.2 28.1,359.4 28.3,359.0 28.5,359.9 28.6,359.3 28.8,359.2 29.0,359.5 29.2,359.1 29.3,359.5 29.5,359.1 29.7,359.5 29.9,359.1 30.0,358.9 30.2,359.2 30.4,359.0 30.5,359.5 30.7,359.4 30.9,359.5 31.1,359.4 31.2,359.3 31.4,359.4 31.6,359.6 31.8,359.3 31.9,359.2 32.1,359.1 32.3,359.3 32.4,359.2 32.6,359.8 32.8,359.1 33.0,359.1 33.1,359.3 33.3,359.5 33.5,359.3 33.7,359.1 33.8,359.2 34.0,359.3 34.2,359.6 34.3,359.1 34.5,359.4 34.7,359.2 34.9,359.5 35.0,359.5 35.2,359.0 35.4,360.0 35.5,359.4 35.7,359.3 35.9,359.2 36.1,359.3 36.2,359.4 36.4,359.6 36.6,359.4 36.8,359.5 36.9,359.0 37.1,359.2 37.3,359.2 37.4,359.5 37.6,359.5 37.8,359.0 38.0,359.4 38.1,359.6 38.3,359.6 38.5,359.1 38.7,359.6 38.8,359.5 39.0,359.3 39.2,359.9 39.3,359.1 39.5,359.4 39.7,359.5 39.9,359.5 40.0,359.4 40.2,359.8 40.4,359.8 40.6,359.7 40.7,359.7 40.9,359.4 41.1,359.2 41.2,360.0 41.4,359.2 41.6,360.0 41.8,359.4 41.9,359.5 42.1,359.4 42.3,359.7 42.5,359.3 42.6,359.9 42.8,359.6 43.0,359.5 43.1,359.3 43.3,359.5 43.5,359.5 43.7,359.9 43.8,359.7 44.0,359.1 44.2,359.9 44.4,358.9 44.5,359.9 44.7,359.0 44.9,359.5 45.0,359.7 45.2,359.5 45.4,359.2 45.6,359.8 45.7,359.0 45.9,359.1 46.1,359.8 46.3,359.3 46.4,359.6 46.6,359.7 46.8,359.5 46.9,359.6 47.1,359.5 47.3,359.5 47.5,359.8 47.6,359.7 47.8,359.6 48.0,359.7 48.2,359.4 48.3,359.3 48.5,359.3 48.7,359.7 48.8,359.9 49.0,359.5 49.2,359.0 49.4,359.4 49.5,359.6 49.7,359.6 49.9,359.5 50.1,359.8 50.2,359.8 50.4,359.2 50.6,359.6 50.7,359.3 50.9,359.6 51.1,359.8 51.3,360.0 51.4,359.7 51.6,359.4 51.8,359.4 52.0,359.7 52.1,359.3 52.3,359.5 52.5,359.7 52.6,359.8 52.8,359.5 53.0,359.6 53.2,359.9 53.3,359.6 53.5,359.1 53.7,359.6 53.8,359.6 54.0,359.4 54.2,359.6 54.4,359.2 54.5,359.9 54.7,359.7 54.9,359.4 55.1,359.6 55.2,359.6 55.4,359.3 55.6,358.9 55.7,358.9 55.9,360.1 56.1,359.3 56.3,359.5 56.4,359.7 56.6,359.5 56.8,359.9 57.0,359.3 57.1,359.7 57.3,359.1 57.5,359.8 57.6,359.8 57.8,359.7 58.0,359.7 58.2,359.7 58.3,359.8 58.5,359.8 58.7,359.4 58.9,359.9 59.0,359.4 59.2,359.6 59.4,359.5 59.5,359.7 59.7,359.5 59.9,359.7 60.1,359.5 60.2,359.4 60.4,359.9 60.6,359.8 60.8,359.7 60.9,359.9 61.1,359.3 61.3,359.8 61.4,359.4 61.6,359.7 61.8,359.6 62.0,359.7 62.1,359.8 62.3,359.6 62.5,359.4 62.7,359.9 62.8,359.9 63.0,359.8 63.2,359.9 63.3,359.2 63.5,359.7 63.7,359.6 63.9,359.1 64.0,359.7 64.2,359.6 64.4,359.3 64.6,359.4 64.7,359.7 64.9,359.8 65.1,359.8 65.2,359.4 65.4,359.4 65.6,359.5 65.8,359.6 65.9,359.5 66.1,359.6 66.3,359.8 66.5,359.8 66.6,359.7 66.8,359.4 67.0,359.5 67.1,359.8 67.3,359.9 67.5,359.9 67.7,359.4 67.8,359.6 68.0,359.4 68.2,358.9 68.4,359.4 68.5,359.2 68.7,360.0 68.9,359.8 69.0,359.5 69.2,359.7 69.4,359.8 69.6,360.1 69.7,359.9 69.9,360.1 70.1,359.8 70.3,360.0 70.4,360.0 70.6,359.9 70.8,359.7 70.9,360.0 71.1,359.6 71.3,360.1 71.5,359.6 71.6,359.5 71.8,360.2 72.0,359.6 72.1,359.7 72.3,359.4 72.5,359.5 72.7,359.6 72.8,359.5 73.0,360.0 73.2,359.5 73.4,359.4 73.5,360.0 73.7,359.9 73.9,359.1 74.0,359.6 74.2,360.0 74.4,359.5 74.6,359.6 74.7,359.7 74.9,359.1 75.1,359.5 75.3,359.9 75.4,360.1 75.6,359.7 75.8,359.7 75.9,359.9 76.1,359.8 76.3,359.8 76.5,359.5 76.6,359.7 76.8,359.8 77.0,359.9 77.2,359.3 77.3,359.9 77.5,359.7 77.7,359.8 77.8,359.3 78.0,359.7 78.2,359.3 78.4,359.1 78.5,359.7 78.7,359.7 78.9,359.7 79.1,359.7 79.2,359.7 79.4,360.0 79.6,359.9 79.7,360.1 79.9,360.3 80.1,359.9 80.3,359.9 80.4,360.1 80.6,359.4 80.8,359.5 81.0,359.7 81.1,359.2 81.3,359.8 81.5,359.9 81.6,359.2 81.8,359.3 82.0,359.7 82.2,359.7 82.3,358.9 82.5,359.4 82.7,359.1 82.9,358.6 83.0,358.7 83.2,358.5 83.4,358.3 83.5,357.5 83.7,355.5 83.9,350.6 84.1,339.6 84.2,321.5 84.4,301.2 84.6,291.4 84.8,300.8 84.9,321.2 85.1,339.5 85.3,351.0 85.4,355.7 85.6,357.3 85.8,358.0 86.0,358.4 86.1,358.9 86.3,358.8 86.5,359.2 86.7,359.6 86.8,359.3 87.0,359.6 87.2,359.1 87.3,359.6 87.5,359.6 87.7,359.4 87.9,360.0 88.0,359.6 88.2,359.5 88.4,359.6 88.6,359.9 88.7,359.4 88.9,359.8 89.1,359.5 89.2,359.8 89.4,359.6 89.6,359.7 89.8,360.0 89.9,359.8 90.1,359.9 90.3,360.0 90.4,359.9 90.6,359.9 90.8,359.8 91.0,360.0 91.1,360.1 91.3,360.3 91.5,360.3 91.7,359.6 91.8,359.9 92.0,360.0 92.2,360.1 92.3,360.1 92.5,359.5 92.7,359.9 92.9,359.4 93.0,359.7 93.2,359.6 93.4,359.7 93.6,360.3 93.7,359.7 93.9,359.7 94.1,359.9 94.2,360.1 94.4,359.5 94.6,360.3 94.8,359.7 94.9,359.6 95.1,359.9 95.3,360.1 95.5,360.6 95.6,360.1 95.8,359.7 96.0,359.8 96.1,359.7 96.3,360.1 96.5,360.1 96.7,359.8 96.8,360.2 97.0,359.5 97.2,359.8 97.4,359.7 97.5,359.8 97.7,359.5 97.9,360.1 98.0,359.7 98.2,359.9 98.4,360.2 98.6,360.3 98.7,360.2 98.9,359.4 99.1,359.8 99.3,359.8 99.4,359.8 99.6,359.7 99.8,359.8 99.9,360.1 100.1,359.8 100.3,359.6 100.5,359.5 100.6,360.0 100.8,359.5 101.0,360.1 101.2,359.8 101.3,359.8 101.5,360.0 101.7,359.9 101.8,360.1 102.0,359.6 102.2,359.5 102.4,360.4 102.5,360.0 102.7,359.3 102.9,360.4 103.1,359.6 103.2,360.5 103.4,360.4 103.6,360.2 103.7,360.0 103.9,359.7 104.1,360.2 104.3,359.9 104.4,360.2 104.6,359.9 104.8,359.6 105.0,359.8 105.1,360.0 105.3,359.8 105.5,360.0 105.6,359.7 105.8,360.4 106.0,359.8 106.2,360.1 106.3,359.6 106.5,360.2 106.7,360.4 106.9,360.1 107.0,359.9 107.2,359.7 107.4,360.1 107.5,360.1 107.7,359.7 107.9,360.0 108.1,360.1 108.2,359.8 108.4,360.1 108.6,359.9 108.7,360.3 108.9,359.7 109.1,360.1 109.3,360.0 109.4,359.5 109.6,359.7 109.8,359.8 110.0,360.2 110.1,359.9 110.3,360.0 110.5,360.0 110.6,360.6 110.8,359.9 111.0,360.4 111.2,359.9 111.3,359.5 111.5,359.7 111.7,359.6 111.9,359.8 112.0,359.5 112.2,359.7 112.4,360.3 112.5,359.9 112.7,359.9 112.9,360.2 113.1,359.3 113.2,359.7 113.4,359.4 113.6,359.3 113.8,358.6 113.9,357.2 114.1,353.5 114.3,345.7 114.4,335.7 114.6,330.9 114.8,335.4 115.0,344.6 115.1,353.4 115.3,357.7 115.5,358.9 115.7,359.1 115.8,359.5 116.0,359.9 116.2,359.4 116.3,359.8 116.5,360.0 116.7,359.6 116.9,360.4 117.0,360.1 117.2,360.4 117.4,359.7 117.6,360.0 117.7,360.4 117.9,360.1 118.1,360.3 118.2,359.5 118.4,360.0 118.6,359.5 118.8,359.9 118.9,360.1 119.1,360.0 119.3,359.7 119.5,360.1 119.6,360.2 119.8,360.0 120.0,360.3 120.1,360.3 120.3,360.4 120.5,360.0 120.7,360.2 120.8,359.9 121.0,360.0 121.2,360.3 121.4,360.0 121.5,360.0 121.7,359.9 121.9,360.2 122.0,360.5 122.2,360.3 122.4,360.0 122.6,360.3 122.7,360.3 122.9,360.4 123.1,359.9 123.3,360.2 123.4,360.0 123.6,359.9 123.8,360.4 123.9,360.2 124.1,360.0 124.3,360.3 124.5,360.0 124.6,359.5 124.8,359.4 125.0,357.9 125.2,356.6 125.3,356.1 125.5,356.8 125.7,358.4 125.8,359.1 126.0,359.3 126.2,359.8 126.4,360.1 126.5,360.0 126.7,360.0 126.9,359.8 127.0,360.0 127.2,360.2 127.4,360.2 127.6,359.9 127.7,359.9 127.9,359.9 128.1,360.3 128.3,359.9 128.4,360.0 128.6,359.9 128.8,359.9 128.9,360.1 129.1,360.3 129.3,359.9 129.5,360.4 129.6,360.1 129.8,360.2 130.0,360.7 130.2,360.6 130.3,360.1 130.5,360.0 130.7,359.9 130.8,360.1 131.0,359.4 131.2,359.6 131.4,359.4 131.5,358.4 131.7,356.1 131.9,352.4 132.1,346.4 132.2,343.9 132.4,346.6 132.6,352.0 132.7,356.1 132.9,358.8 133.1,359.4 133.3,360.2 133.4,359.5 133.6,360.0 133.8,359.7 134.0,360.1 134.1,360.3 134.3,359.8 134.5,360.3 134.6,359.9 134.8,359.8 135.0,360.2 135.2,360.3 135.3,360.2 135.5,360.2 135.7,360.1 135.9,360.0 136.0,359.6 136.2,360.1 136.4,360.0 136.5,360.3 136.7,360.0 136.9,360.7 137.1,360.3 137.2,360.1 137.4,360.4 137.6,360.1 137.8,360.5 137.9,360.1 138.1,360.6 138.3,359.9 138.4,360.2 138.6,360.2 138.8,360.0 139.0,360.1 139.1,360.2 139.3,359.9 139.5,360.0 139.7,360.3 139.8,360.0 140.0,360.6 140.2,360.6 140.3,360.0 140.5,360.2 140.7,360.3 140.9,360.3 141.0,359.9 141.2,359.9 141.4,358.8 141.6,357.5 141.7,356.0 141.9,354.8 142.1,355.5 142.2,357.4 142.4,359.0 142.6,359.5 142.8,359.8 142.9,360.1 143.1,359.9 143.3,360.7 143.5,360.0 143.6,360.4 143.8,359.8 144.0,360.1 144.1,360.4 144.3,360.4 144.5,360.4 144.7,360.1 144.8,360.3 145.0,360.2 145.2,359.9 145.4,360.5 145.5,360.1 145.7,360.2 145.9,360.5 146.0,360.4 146.2,360.9 146.4,360.3 146.6,360.6 146.7,360.2 146.9,360.3 147.1,360.5 147.2,360.4 147.4,360.2 147.6,360.3 147.8,360.3 147.9,360.7 148.1,360.1 148.3,360.3 148.5,360.4 148.6,360.3 148.8,360.2 149.0,360.5 149.1,360.1 149.3,360.8 149.5,359.6 149.7,359.8 149.8,360.3 150.0,360.5 150.2,360.4 150.4,360.2 150.5,360.3 150.7,360.3 150.9,360.1 151.0,360.2 151.2,360.1 151.4,360.6 151.6,360.4 151.7,360.2 151.9,360.2 152.1,360.2 152.3,360.2 152.4,360.4 152.6,360.2 152.8,360.2 152.9,360.4 153.1,360.3 153.3,360.3 153.5,360.3 153.6,360.3 153.8,360.1 154.0,360.3 154.2,360.6 154.3,360.1 154.5,360.1 154.7,360.2 154.8,360.2 155.0,360.7 155.2,360.3 155.4,360.6 155.5,360.5 155.7,360.5 155.9,360.5 156.1,360.4 156.2,360.5 156.4,360.7 156.6,359.8 156.7,360.4 156.9,360.6 157.1,360.2 157.3,360.3 157.4,360.6 157.6,359.9 157.8,360.4 158.0,360.1 158.1,360.4 158.3,360.5 158.5,360.4 158.6,360.1 158.8,360.4 159.0,360.2 159.2,360.4 159.3,360.3 159.5,360.2 159.7,360.6 159.9,360.1 160.0,360.2 160.2,360.6 160.4,360.5 160.5,360.6 160.7,360.1 160.9,360.4 161.1,360.2 161.2,359.9 161.4,360.5 161.6,360.1 161.8,360.4 161.9,360.1 162.1,360.5 162.3,360.5 162.4,360.1 162.6,360.1 162.8,359.7 163.0,360.3 163.1,360.3 163.3,360.2 163.5,360.6 163.7,360.4 163.8,360.4 164.0,360.2 164.2,360.0 164.3,360.4 164.5,360.6 164.7,360.7 164.9,360.4 165.0,360.1 165.2,360.3 165.4,360.4 165.5,360.1 165.7,360.3 165.9,360.2 166.1,360.2 166.2,360.1 166.4,360.5 166.6,360.5 166.8,360.7 166.9,360.3 167.1,360.4 167.3,360.0 167.4,360.5 167.6,360.7 167.8,360.2 168.0,360.5 168.1,360.3 168.3,360.5 168.5,360.6 168.7,360.0 168.8,360.2 169.0,360.2 169.2,360.3 169.3,360.7 169.5,360.4 169.7,360.4 169.9,360.4 170.0,360.2 170.2,360.7 170.4,360.5 170.6,360.6 170.7,360.5 170.9,360.1 171.1,360.5 171.2,360.2 171.4,360.2 171.6,361.1 171.8,360.6 171.9,360.3 172.1,360.6 172.3,360.7 172.5,360.4 172.6,360.3 172.8,360.6 173.0,360.6 173.1,360.5 173.3,359.9 173.5,360.5 173.7,360.9 173.8,360.1 174.0,360.2 174.2,360.1 174.4,360.2 174.5,360.3 174.7,360.8 174.9,360.2 175.0,360.6 175.2,360.0 175.4,360.3 175.6,360.1 175.7,359.9 175.9,360.0 176.1,360.2 176.3,359.7 176.4,359.5 176.6,358.6 176.8,356.5 176.9,350.6 177.1,339.4 177.3,325.2 177.5,317.8 177.6,325.1 177.8,339.1 178.0,350.6 178.2,356.1 178.3,358.8 178.5,359.4 178.7,360.0 178.8,359.9 179.0,360.2 179.2,360.2 179.4,360.2 179.5,360.1 179.7,360.3 179.9,360.3 180.1,360.1 180.2,360.2 180.4,359.8 180.6,360.6 180.7,360.6 180.9,360.2 181.1,360.0 181.3,360.5 181.4,360.7 181.6,360.4 181.8,360.2 182.0,360.7 182.1,360.6 182.3,360.6 182.5,360.9 182.6,360.4 182.8,360.4 183.0,360.9 183.2,360.6 183.3,361.0 183.5,359.7 183.7,359.9 183.8,360.4 184.0,360.4 184.2,359.9 184.4,359.9 184.5,359.6 184.7,359.3 184.9,356.8 185.1,353.5 185.2,348.7 185.4,345.8 185.6,349.0 185.7,354.0 185.9,357.1 186.1,359.3 186.3,359.9 186.4,360.0 186.6,359.8 186.8,360.2 187.0,359.8 187.1,360.2 187.3,360.4 187.5,360.4 187.6,360.2 187.8,360.4 188.0,360.1 188.2,360.6 188.3,360.1 188.5,361.1 188.7,360.6 188.9,360.4 189.0,360.9 189.2,360.2 189.4,360.8 189.5,360.3 189.7,360.5 189.9,360.3 190.1,360.3 190.2,360.3 190.4,360.5 190.6,360.4 190.8,360.9 190.9,360.5 191.1,359.8 191.3,360.3 191.4,360.4 191.6,360.6 191.8,360.6 192.0,360.1 192.1,360.5 192.3,360.3 192.5,360.5 192.7,360.4 192.8,360.8 193.0,360.7 193.2,360.9 193.3,360.3 193.5,360.3 193.7,360.5 193.9,360.3 194.0,360.3 194.2,360.6 194.4,361.0 194.6,360.6 194.7,360.9 194.9,360.1 195.1,361.0 195.2,361.0 195.4,360.5 195.6,360.4 195.8,360.6 195.9,360.1 196.1,360.6 196.3,360.1 196.5,360.9 196.6,360.5 196.8,360.3 197.0,360.0 197.1,360.9 197.3,360.5 197.5,360.4 197.7,360.8 197.8,360.2 198.0,360.8 198.2,360.8 198.4,360.4 198.5,360.8 198.7,360.9 198.9,360.3 199.0,360.3 199.2,360.7 199.4,360.7 199.6,360.3 199.7,359.7 199.9,360.1 200.1,360.8 200.3,360.4 200.4,360.3 200.6,360.6 200.8,360.1 200.9,361.1 201.1,360.0 201.3,360.5 201.5,360.6 201.6,360.7 201.8,360.3 202.0,360.4 202.1,360.8 202.3,360.6 202.5,360.7 202.7,360.6 202.8,360.6 203.0,360.3 203.2,360.2 203.4,360.5 203.5,360.2 203.7,360.9 203.9,360.7 204.0,360.8 204.2,360.1 204.4,360.2 204.6,360.7 204.7,360.5 204.9,360.5 205.1,360.7 205.3,360.2 205.4,360.1 205.6,360.1 205.8,360.5 205.9,359.1 206.1,357.2 206.3,355.7 206.5,354.5 206.6,355.6 206.8,357.6 207.0,359.0 207.2,360.4 207.3,360.5 207.5,360.1 207.7,360.1 207.8,360.3 208.0,360.7 208.2,360.3 208.4,360.4 208.5,360.4 208.7,360.5 208.9,360.8 209.1,360.4 209.2,360.5 209.4,360.9 209.6,360.1 209.7,360.5 209.9,360.5 210.1,360.3 210.3,360.3 210.4,359.9 210.6,358.0 210.8,356.3 211.0,355.6 211.1,356.1 211.3,357.9 211.5,359.5 211.6,360.1 211.8,360.2 212.0,360.7 212.2,360.2 212.3,360.3 212.5,360.3 212.7,360.6 212.9,360.7 213.0,360.5 213.2,360.8 213.4,360.5 213.5,360.6 213.7,360.6 213.9,360.6 214.1,360.6 214.2,360.3 214.4,360.1 214.6,360.4 214.8,360.5 214.9,360.5 215.1,360.3 215.3,360.3 215.4,361.1 215.6,360.8 215.8,360.7 216.0,360.6 216.1,360.4 216.3,360.6 216.5,360.9 216.7,360.8 216.8,360.5 217.0,360.5 217.2,360.5 217.3,360.4 217.5,360.8 217.7,360.8 217.9,360.7 218.0,360.5 218.2,360.9 218.4,360.6 218.6,360.0 218.7,360.9 218.9,360.7 219.1,360.5 219.2,360.9 219.4,360.0 219.6,360.4 219.8,360.8 219.9,360.4 220.1,361.1 220.3,361.1 220.4,360.7 220.6,360.7 220.8,361.0 221.0,360.8 221.1,360.4 221.3,360.6 221.5,360.4 221.7,360.8 221.8,360.7 222.0,361.0 222.2,360.7 222.3,360.4 222.5,360.3 222.7,361.0 222.9,360.9 223.0,360.4 223.2,360.2 223.4,360.2 223.6,360.9 223.7,360.5 223.9,361.1 224.1,360.5 224.2,360.5 224.4,360.5 224.6,360.8 224.8,361.0 224.9,360.4 225.1,360.8 225.3,360.9 225.5,360.6 225.6,360.5 225.8,360.9 226.0,360.4 226.1,360.5 226.3,360.3 226.5,360.4 226.7,360.6 226.8,360.5 227.0,360.3 227.2,360.3 227.4,359.7 227.5,359.8 227.7,357.1 227.9,353.8 228.0,348.9 228.2,346.8 228.4,348.6 228.6,353.5 228.7,357.1 228.9,359.4 229.1,360.0 229.3,360.0 229.4,360.1 229.6,360.5 229.8,360.2 229.9,360.5 230.1,360.3 230.3,359.8 230.5,358.9 230.6,356.7 230.8,354.9 231.0,353.7 231.2,354.9 231.3,357.6 231.5,359.1 231.7,360.0 231.8,360.3 232.0,360.4 232.2,360.9 232.4,360.5 232.5,360.9 232.7,360.8 232.9,360.4 233.1,360.7 233.2,360.9 233.4,360.5 233.6,360.7 233.7,360.6 233.9,360.6 234.1,360.8 234.3,360.4 234.4,360.6 234.6,360.7 234.8,360.0 235.0,360.6 235.1,360.7 235.3,360.8 235.5,360.5 235.6,360.4 235.8,360.9 236.0,360.5 236.2,360.8 236.3,360.7 236.5,360.5 236.7,360.6 236.9,360.5 237.0,360.9 237.2,360.7 237.4,360.2 237.5,361.1 237.7,361.0 237.9,361.0 238.1,360.5 238.2,360.6 238.4,360.5 238.6,361.1 238.7,360.7 238.9,360.8 239.1,360.6 239.3,360.3 239.4,360.9 239.6,361.3 239.8,360.6 240.0,360.5 240.1,360.5 240.3,360.5 240.5,360.3 240.6,360.6 240.8,360.6 241.0,360.3 241.2,360.8 241.3,360.6 241.5,360.4 241.7,360.7 241.9,361.1 242.0,361.1 242.2,361.0 242.4,361.0 242.5,361.0 242.7,360.9 242.9,360.9 243.1,361.2 243.2,360.6 243.4,360.9 243.6,360.4 243.8,360.9 243.9,361.1 244.1,360.6 244.3,361.2 244.4,360.5 244.6,361.1 244.8,360.7 245.0,360.8 245.1,360.6 245.3,360.9 245.5,360.7 245.7,361.0 245.8,360.7 246.0,360.8 246.2,360.7 246.3,360.8 246.5,360.6 246.7,360.7 246.9,360.4 247.0,360.6 247.2,360.6 247.4,360.7 247.6,360.7 247.7,360.4 247.9,360.9 248.1,361.3 248.2,360.7 248.4,360.2 248.6,360.9 248.8,360.7 248.9,360.7 249.1,360.8 249.3,360.7 249.5,360.7 249.6,360.9 249.8,360.8 250.0,360.7 250.1,360.9 250.3,361.1 250.5,361.1 250.7,360.5 250.8,360.8 251.0,360.9 251.2,360.8 251.4,360.7 251.5,361.0 251.7,360.8 251.9,360.9 252.0,360.4 252.2,360.4 252.4,360.6 252.6,360.8 252.7,360.9 252.9,360.5 253.1,361.0 253.3,360.6 253.4,360.2 253.6,360.1 253.8,359.8 253.9,359.0 254.1,358.7 254.3,359.0 254.5,359.6 254.6,359.9 254.8,360.3 255.0,360.6 255.2,360.6 255.3,360.8 255.5,360.6 255.7,360.3 255.8,360.6 256.0,360.7 256.2,361.2 256.4,361.0 256.5,360.9 256.7,360.6 256.9,360.5 257.0,360.6 257.2,360.9 257.4,360.7 257.6,360.5 257.7,360.8 257.9,360.6 258.1,360.9 258.3,361.2 258.4,361.0 258.6,360.2 258.8,361.1 258.9,360.6 259.1,360.8 259.3,360.9 259.5,360.8 259.6,360.3 259.8,361.1 260.0,360.5 260.2,360.6 260.3,360.8 260.5,361.0 260.7,360.6 260.8,360.4 261.0,360.9 261.2,360.7 261.4,361.0 261.5,361.1 261.7,360.5 261.9,360.5 262.1,360.7 262.2,360.6 262.4,361.2 262.6,360.8 262.7,360.8 262.9,360.9 263.1,361.2 263.3,360.9 263.4,361.0 263.6,360.6 263.8,361.0 264.0,360.7 264.1,360.7 264.3,360.7 264.5,361.1 264.6,360.7 264.8,360.9 265.0,360.8 265.2,360.9 265.3,360.7 265.5,360.5 265.7,360.7 265.9,360.8 266.0,360.6 266.2,360.8" fill="none" stroke="#ff0000" stroke-width="1.15" stroke-linejoin="round"/></g><g clip-path="url(#cld)"><polyline points="300.3,249.1 300.5,249.2 300.6,249.2 300.8,249.5 301.0,249.3 301.2,249.4 301.3,249.7 301.5,249.7 301.7,249.6 301.9,249.3 302.0,249.2 302.2,249.2 302.4,249.3 302.5,249.4 302.7,249.1 302.9,249.1 303.1,249.5 303.2,248.9 303.4,249.4 303.6,249.5 303.8,249.1 303.9,249.1 304.1,249.2 304.3,249.6 304.4,249.4 304.6,248.9 304.8,249.3 305.0,249.7 305.1,249.7 305.3,249.6 305.5,249.4 305.7,248.9 305.8,249.5 306.0,249.4 306.2,249.4 306.3,249.9 306.5,249.5 306.7,249.5 306.9,249.6 307.0,249.4 307.2,249.2 307.4,249.2 307.6,249.7 307.7,249.6 307.9,249.3 308.1,249.8 308.2,249.5 308.4,249.0 308.6,249.6 308.8,249.4 308.9,249.0 309.1,249.6 309.3,249.3 309.5,249.3 309.6,249.6 309.8,248.8 310.0,249.1 310.1,249.3 310.3,249.5 310.5,249.2 310.7,249.1 310.8,249.1 311.0,249.4 311.2,249.7 311.3,249.0 311.5,248.8 311.7,249.4 311.9,249.3 312.0,249.2 312.2,249.6 312.4,249.7 312.6,249.3 312.7,249.4 312.9,249.6 313.1,249.3 313.2,249.0 313.4,249.4 313.6,249.2 313.8,249.6 313.9,249.3 314.1,249.4 314.3,249.6 314.5,249.4 314.6,249.3 314.8,249.2 315.0,250.0 315.1,249.8 315.3,249.0 315.5,249.1 315.7,249.6 315.8,249.3 316.0,249.5 316.2,249.7 316.4,249.5 316.5,249.4 316.7,249.3 316.9,249.4 317.0,249.6 317.2,250.0 317.4,249.8 317.6,249.4 317.7,249.7 317.9,249.5 318.1,249.0 318.3,249.4 318.4,249.8 318.6,249.3 318.8,249.7 318.9,249.4 319.1,249.5 319.3,249.1 319.5,250.1 319.6,249.6 319.8,249.8 320.0,249.3 320.2,249.0 320.3,249.8 320.5,249.2 320.7,249.9 320.8,249.4 321.0,249.9 321.2,249.2 321.4,248.9 321.5,249.6 321.7,249.4 321.9,249.4 322.1,249.7 322.2,249.2 322.4,249.0 322.6,249.1 322.7,248.9 322.9,248.9 323.1,249.0 323.3,249.1 323.4,249.3 323.6,249.0 323.8,249.3 324.0,249.6 324.1,249.3 324.3,249.5 324.5,249.1 324.6,249.4 324.8,249.5 325.0,249.1 325.2,248.9 325.3,249.3 325.5,249.3 325.7,249.7 325.9,249.2 326.0,249.8 326.2,248.6 326.4,249.2 326.5,249.1 326.7,249.2 326.9,249.1 327.1,249.2 327.2,249.7 327.4,249.2 327.6,249.6 327.8,249.2 327.9,249.3 328.1,248.5 328.3,249.2 328.4,249.4 328.6,248.9 328.8,249.0 329.0,248.9 329.1,249.8 329.3,248.9 329.5,249.0 329.6,248.4 329.8,248.7 330.0,249.2 330.2,248.8 330.3,248.3 330.5,249.1 330.7,249.2 330.9,249.2 331.0,249.2 331.2,249.0 331.4,250.0 331.5,249.0 331.7,249.2 331.9,248.7 332.1,248.9 332.2,248.7 332.4,249.2 332.6,249.0 332.8,248.8 332.9,248.5 333.1,249.2 333.3,249.3 333.4,249.3 333.6,249.0 333.8,249.3 334.0,249.3 334.1,249.2 334.3,249.5 334.5,249.0 334.7,249.1 334.8,248.6 335.0,249.7 335.2,248.8 335.3,249.1 335.5,249.2 335.7,248.8 335.9,249.0 336.0,249.2 336.2,249.0 336.4,248.9 336.6,248.9 336.7,248.8 336.9,249.0 337.1,249.1 337.2,249.1 337.4,249.3 337.6,249.0 337.8,248.8 337.9,249.2 338.1,249.1 338.3,249.3 338.5,249.0 338.6,249.1 338.8,249.1 339.0,249.2 339.1,248.7 339.3,248.9 339.5,249.0 339.7,249.5 339.8,249.0 340.0,249.1 340.2,248.9 340.4,248.4 340.5,249.3 340.7,249.2 340.9,249.3 341.0,248.6 341.2,249.1 341.4,249.0 341.6,248.5 341.7,249.1 341.9,248.8 342.1,249.1 342.3,248.5 342.4,248.7 342.6,248.8 342.8,248.5 342.9,249.0 343.1,249.4 343.3,249.0 343.5,249.2 343.6,249.4 343.8,249.1 344.0,248.9 344.2,248.4 344.3,249.1 344.5,248.9 344.7,248.9 344.8,249.2 345.0,249.2 345.2,248.5 345.4,249.1 345.5,248.9 345.7,249.3 345.9,249.0 346.1,249.3 346.2,248.8 346.4,248.9 346.6,248.9 346.7,249.0 346.9,249.0 347.1,249.4 347.3,248.8 347.4,249.1 347.6,248.7 347.8,248.7 347.9,248.9 348.1,248.6 348.3,249.1 348.5,248.9 348.6,248.9 348.8,249.2 349.0,249.6 349.2,248.9 349.3,248.5 349.5,249.0 349.7,249.1 349.8,249.4 350.0,249.1 350.2,248.8 350.4,249.4 350.5,249.4 350.7,249.0 350.9,249.1 351.1,249.1 351.2,249.8 351.4,248.8 351.6,248.7 351.7,248.6 351.9,248.5 352.1,247.3 352.3,246.1 352.4,243.8 352.6,241.0 352.8,236.9 353.0,233.9 353.1,232.8 353.3,233.5 353.5,236.6 353.6,240.5 353.8,243.6 354.0,246.7 354.2,247.8 354.3,248.5 354.5,249.2 354.7,248.7 354.9,248.8 355.0,248.8 355.2,249.1 355.4,249.8 355.5,249.1 355.7,249.0 355.9,249.2 356.1,249.4 356.2,249.3 356.4,249.4 356.6,248.8 356.8,248.8 356.9,249.0 357.1,249.1 357.3,249.4 357.4,248.5 357.6,249.0 357.8,248.7 358.0,248.8 358.1,248.3 358.3,247.9 358.5,248.4 358.7,247.8 358.8,246.5 359.0,246.1 359.2,243.1 359.3,238.3 359.5,229.2 359.7,214.5 359.9,199.1 360.0,199.1 360.2,199.1 360.4,199.1 360.6,199.1 360.7,199.1 360.9,199.1 361.1,214.7 361.2,229.1 361.4,238.2 361.6,243.8 361.8,246.3 361.9,247.3 362.1,248.0 362.3,247.8 362.5,248.9 362.6,248.6 362.8,248.9 363.0,248.9 363.1,249.3 363.3,249.1 363.5,249.3 363.7,249.3 363.8,249.2 364.0,249.2 364.2,249.6 364.4,249.6 364.5,249.8 364.7,250.0 364.9,249.2 365.0,249.1 365.2,249.5 365.4,250.1 365.6,249.7 365.7,249.2 365.9,250.2 366.1,249.9 366.2,249.3 366.4,249.5 366.6,249.8 366.8,249.6 366.9,249.8 367.1,250.0 367.3,249.8 367.5,250.3 367.6,249.8 367.8,250.3 368.0,249.7 368.1,249.5 368.3,249.3 368.5,249.6 368.7,249.9 368.8,250.2 369.0,248.9 369.2,249.9 369.4,249.6 369.5,250.1 369.7,249.8 369.9,250.0 370.0,250.5 370.2,250.0 370.4,249.9 370.6,250.3 370.7,250.1 370.9,249.9 371.1,249.5 371.3,249.9 371.4,249.5 371.6,250.1 371.8,250.2 371.9,250.0 372.1,250.6 372.3,249.7 372.5,250.1 372.6,250.0 372.8,249.7 373.0,250.2 373.2,250.3 373.3,250.4 373.5,250.0 373.7,250.2 373.8,249.9 374.0,250.5 374.2,250.6 374.4,250.1 374.5,250.1 374.7,249.8 374.9,250.1 375.1,250.0 375.2,250.2 375.4,249.7 375.6,250.6 375.7,250.2 375.9,250.4 376.1,250.3 376.3,250.0 376.4,250.7 376.6,250.5 376.8,249.7 377.0,250.1 377.1,250.1 377.3,249.9 377.5,250.8 377.6,249.8 377.8,250.6 378.0,249.6 378.2,250.6 378.3,250.0 378.5,249.5 378.7,250.3 378.9,250.3 379.0,249.9 379.2,250.5 379.4,249.7 379.5,250.5 379.7,250.4 379.9,250.7 380.1,250.1 380.2,250.5 380.4,250.0 380.6,250.5 380.8,250.3 380.9,250.5 381.1,249.8 381.3,250.4 381.4,250.3 381.6,250.7 381.8,250.1 382.0,250.2 382.1,250.4 382.3,250.4 382.5,249.5 382.7,250.2 382.8,250.5 383.0,250.2 383.2,249.7 383.3,250.2 383.5,250.3 383.7,250.0 383.9,250.3 384.0,249.9 384.2,250.2 384.4,250.3 384.5,250.8 384.7,250.4 384.9,250.7 385.1,250.3 385.2,249.9 385.4,249.9 385.6,250.5 385.8,249.8 385.9,249.8 386.1,250.6 386.3,250.0 386.4,249.9 386.6,250.8 386.8,250.0 387.0,250.5 387.1,250.3 387.3,250.3 387.5,250.3 387.7,250.6 387.8,250.7 388.0,250.0 388.2,250.7 388.3,250.1 388.5,250.1 388.7,250.3 388.9,249.9 389.0,249.7 389.2,250.3 389.4,249.5 389.6,248.3 389.7,246.1 389.9,242.9 390.1,235.8 390.2,228.6 390.4,224.0 390.6,227.7 390.8,235.8 390.9,243.3 391.1,247.5 391.3,249.0 391.5,249.5 391.6,250.0 391.8,250.5 392.0,250.1 392.1,250.1 392.3,250.4 392.5,250.3 392.7,250.3 392.8,250.9 393.0,250.5 393.2,250.4 393.4,250.3 393.5,250.3 393.7,250.5 393.9,250.6 394.0,250.2 394.2,250.2 394.4,250.3 394.6,250.1 394.7,250.7 394.9,250.1 395.1,250.4 395.3,250.6 395.4,250.0 395.6,250.0 395.8,250.1 395.9,250.0 396.1,249.4 396.3,248.4 396.5,247.7 396.6,246.6 396.8,247.1 397.0,248.6 397.2,249.4 397.3,250.2 397.5,250.5 397.7,250.0 397.8,249.7 398.0,250.6 398.2,250.4 398.4,250.5 398.5,250.2 398.7,250.7 398.9,250.4 399.1,250.7 399.2,250.8 399.4,250.5 399.6,250.5 399.7,250.3 399.9,251.3 400.1,250.0 400.3,250.5 400.4,249.7 400.6,249.5 400.8,249.5 401.0,248.1 401.1,248.3 401.3,248.3 401.5,249.4 401.6,249.4 401.8,249.8 402.0,250.8 402.2,250.5 402.3,250.2 402.5,250.4 402.7,249.7 402.8,250.5 403.0,250.2 403.2,250.3 403.4,251.0 403.5,250.4 403.7,250.4 403.9,250.3 404.1,250.8 404.2,250.8 404.4,250.3 404.6,250.1 404.7,250.5 404.9,250.6 405.1,250.0 405.3,250.9 405.4,250.3 405.6,250.6 405.8,250.3 406.0,250.2 406.1,250.7 406.3,250.4 406.5,249.9 406.6,250.4 406.8,250.4 407.0,249.9 407.2,249.8 407.3,248.3 407.5,247.1 407.7,243.8 407.9,240.1 408.0,238.6 408.2,240.3 408.4,243.7 408.5,246.9 408.7,248.4 408.9,249.7 409.1,250.3 409.2,250.5 409.4,250.1 409.6,250.3 409.8,250.6 409.9,250.7 410.1,250.3 410.3,250.6 410.4,250.7 410.6,251.1 410.8,250.7 411.0,250.6 411.1,250.3 411.3,250.3 411.5,250.9 411.7,250.7 411.8,250.6 412.0,251.0 412.2,250.8 412.3,250.7 412.5,250.9 412.7,250.6 412.9,250.9 413.0,250.8 413.2,250.6 413.4,250.6 413.6,250.5 413.7,251.0 413.9,250.7 414.1,250.4 414.2,251.0 414.4,250.9 414.6,250.7 414.8,250.8 414.9,250.6 415.1,250.6 415.3,251.0 415.5,250.4 415.6,250.3 415.8,250.3 416.0,250.9 416.1,250.3 416.3,250.6 416.5,250.4 416.7,250.2 416.8,250.3 417.0,250.0 417.2,250.0 417.4,248.2 417.5,247.1 417.7,247.0 417.9,247.5 418.0,248.5 418.2,249.7 418.4,250.1 418.6,250.6 418.7,250.6 418.9,250.4 419.1,251.2 419.3,250.7 419.4,250.9 419.6,250.6 419.8,250.4 419.9,250.3 420.1,249.8 420.3,251.0 420.5,250.3 420.6,250.6 420.8,250.8 421.0,250.4 421.2,250.7 421.3,250.9 421.5,250.8 421.7,251.0 421.8,250.0 422.0,251.0 422.2,251.1 422.4,250.4 422.5,251.1 422.7,250.7 422.9,250.8 423.0,251.0 423.2,250.4 423.4,251.1 423.6,250.6 423.7,251.1 423.9,250.8 424.1,250.9 424.3,250.6 424.4,250.9 424.6,250.5 424.8,250.7 424.9,250.5 425.1,250.9 425.3,250.6 425.5,251.6 425.6,250.6 425.8,250.2 426.0,251.2 426.2,250.8 426.3,251.0 426.5,250.9 426.7,250.6 426.8,250.7 427.0,250.6 427.2,251.3 427.4,251.1 427.5,250.5 427.7,251.2 427.9,251.0 428.1,250.4 428.2,250.6 428.4,251.0 428.6,250.9 428.7,251.5 428.9,250.8 429.1,251.1 429.3,250.7 429.4,250.7 429.6,250.8 429.8,250.7 430.0,250.7 430.1,250.6 430.3,250.0 430.5,250.5 430.6,249.5 430.8,249.6 431.0,248.7 431.2,247.8 431.3,246.6 431.5,246.6 431.7,247.0 431.9,247.5 432.0,248.1 432.2,249.8 432.4,249.8 432.5,250.1 432.7,250.2 432.9,250.3 433.1,249.9 433.2,250.4 433.4,250.5 433.6,250.6 433.8,251.4 433.9,250.8 434.1,250.8 434.3,250.9 434.4,250.7 434.6,251.3 434.8,251.3 435.0,250.7 435.1,251.2 435.3,251.2 435.5,251.8 435.7,251.3 435.8,250.6 436.0,250.9 436.2,251.2 436.3,251.2 436.5,251.4 436.7,251.0 436.9,251.1 437.0,251.4 437.2,251.2 437.4,251.0 437.6,251.7 437.7,251.0 437.9,251.1 438.1,250.8 438.2,251.1 438.4,250.5 438.6,251.5 438.8,250.4 438.9,251.3 439.1,250.8 439.3,251.1 439.5,251.5 439.6,251.0 439.8,251.2 440.0,250.9 440.1,251.0 440.3,251.4 440.5,250.8 440.7,251.3 440.8,251.1 441.0,250.9 441.2,251.3 441.3,250.8 441.5,251.2 441.7,250.7 441.9,251.0 442.0,250.7 442.2,251.1 442.4,251.3 442.6,251.4 442.7,251.2 442.9,251.1 443.1,250.9 443.2,251.0 443.4,250.8 443.6,251.7 443.8,251.1 443.9,251.0 444.1,251.1 444.3,250.8 444.5,251.6 444.6,250.9 444.8,250.8 445.0,251.6 445.1,251.4 445.3,251.3 445.5,250.9 445.7,251.5 445.8,251.1 446.0,251.2 446.2,251.4 446.4,251.1 446.5,251.0 446.7,250.4 446.9,251.4 447.0,250.4 447.2,250.9 447.4,250.8 447.6,250.9 447.7,250.9 447.9,251.2 448.1,251.0 448.3,250.2 448.4,251.0 448.6,250.7 448.8,250.9 448.9,250.6 449.1,251.0 449.3,250.9 449.5,251.3 449.6,251.1 449.8,251.3 450.0,250.6 450.2,251.4 450.3,250.8 450.5,251.1 450.7,251.1 450.8,251.2 451.0,250.9 451.2,250.4 451.4,251.1 451.5,251.2 451.7,251.0 451.9,250.9 452.1,250.8 452.2,250.0 452.4,248.0 452.6,245.2 452.7,239.2 452.9,232.3 453.1,225.5 453.3,222.8 453.4,225.4 453.6,232.3 453.8,239.4 454.0,245.2 454.1,247.7 454.3,249.0 454.5,250.8 454.6,251.0 454.8,250.9 455.0,250.9 455.2,250.7 455.3,250.5 455.5,251.1 455.7,250.6 455.9,251.3 456.0,251.1 456.2,250.6 456.4,251.1 456.5,250.5 456.7,250.9 456.9,251.4 457.1,250.9 457.2,251.0 457.4,250.9 457.6,250.9 457.8,251.4 457.9,251.2 458.1,251.3 458.3,250.7 458.4,251.0 458.6,250.9 458.8,251.1 459.0,250.8 459.1,251.4 459.3,251.9 459.5,251.1 459.6,250.8 459.8,251.2 460.0,250.4 460.2,250.5 460.3,250.7 460.5,249.7 460.7,248.5 460.9,246.8 461.0,243.9 461.2,242.7 461.4,243.5 461.5,247.0 461.7,248.4 461.9,250.0 462.1,250.5 462.2,250.7 462.4,250.5 462.6,250.9 462.8,251.1 462.9,251.5 463.1,251.2 463.3,251.0 463.4,251.2 463.6,251.3 463.8,251.2 464.0,251.3 464.1,251.7 464.3,251.3 464.5,250.9 464.7,251.1 464.8,251.2 465.0,251.1 465.2,251.3 465.3,251.6 465.5,250.7 465.7,251.0 465.9,251.2 466.0,251.5 466.2,250.8 466.4,251.6 466.6,251.8 466.7,251.7 466.9,251.4 467.1,250.9 467.2,251.2 467.4,251.1 467.6,251.4 467.8,251.6 467.9,251.5 468.1,251.1 468.3,251.6 468.5,251.7 468.6,251.1 468.8,251.1 469.0,251.2 469.1,251.5 469.3,251.1 469.5,251.7 469.7,251.4 469.8,251.6 470.0,251.2 470.2,251.1 470.4,251.5 470.5,252.0 470.7,251.6 470.9,251.8 471.0,251.3 471.2,251.2 471.4,251.4 471.6,251.6 471.7,251.4 471.9,251.1 472.1,250.9 472.3,251.5 472.4,251.4 472.6,252.2 472.8,251.2 472.9,251.1 473.1,251.6 473.3,251.3 473.5,251.4 473.6,251.7 473.8,251.1 474.0,251.2 474.2,251.2 474.3,251.2 474.5,251.2 474.7,251.3 474.8,251.8 475.0,251.3 475.2,251.1 475.4,251.3 475.5,251.2 475.7,251.4 475.9,251.4 476.1,251.1 476.2,251.3 476.4,251.5 476.6,251.8 476.7,251.3 476.9,251.8 477.1,251.7 477.3,251.0 477.4,251.2 477.6,250.4 477.8,251.0 477.9,251.3 478.1,251.1 478.3,251.4 478.5,251.2 478.6,251.4 478.8,251.2 479.0,251.5 479.2,251.4 479.3,251.4 479.5,251.6 479.7,251.1 479.8,251.8 480.0,251.3 480.2,251.4 480.4,251.2 480.5,251.1 480.7,250.7 480.9,250.9 481.1,250.5 481.2,250.3 481.4,250.6 481.6,249.5 481.7,248.3 481.9,246.8 482.1,245.9 482.3,245.4 482.4,246.1 482.6,247.1 482.8,248.4 483.0,249.8 483.1,250.3 483.3,250.9 483.5,250.4 483.6,250.9 483.8,251.4 484.0,251.2 484.2,251.6 484.3,251.1 484.5,251.5 484.7,250.6 484.9,251.0 485.0,251.2 485.2,250.8 485.4,250.5 485.5,251.2 485.7,251.4 485.9,250.6 486.1,249.6 486.2,249.2 486.4,247.9 486.6,246.8 486.8,247.2 486.9,247.6 487.1,248.3 487.3,248.9 487.4,249.2 487.6,250.7 487.8,250.8 488.0,251.4 488.1,250.7 488.3,250.5 488.5,251.5 488.7,251.8 488.8,251.6 489.0,251.5 489.2,251.4 489.3,251.6 489.5,251.2 489.7,252.0 489.9,251.9 490.0,250.9 490.2,251.8 490.4,250.7 490.6,251.5 490.7,251.3 490.9,251.9 491.1,251.5 491.2,251.4 491.4,251.8 491.6,251.2 491.8,251.2 491.9,251.9 492.1,251.6 492.3,251.5 492.5,251.3 492.6,251.4 492.8,251.3 493.0,251.6 493.1,251.5 493.3,251.4 493.5,251.4 493.7,251.9 493.8,251.7 494.0,251.6 494.2,251.4 494.4,251.6 494.5,251.5 494.7,251.5 494.9,251.6 495.0,251.3 495.2,251.3 495.4,250.7 495.6,251.1 495.7,251.5 495.9,252.1 496.1,252.1 496.2,251.4 496.4,250.6 496.6,251.6 496.8,251.6 496.9,251.9 497.1,251.2 497.3,251.4 497.5,251.4 497.6,251.5 497.8,251.1 498.0,251.6 498.1,251.3 498.3,251.5 498.5,251.4 498.7,250.8 498.8,251.5 499.0,251.1 499.2,251.1 499.4,251.2 499.5,251.0 499.7,251.4 499.9,250.6 500.0,251.2 500.2,251.5 500.4,251.5 500.6,251.7 500.7,251.8 500.9,251.7 501.1,251.3 501.3,251.1 501.4,250.9 501.6,251.2 501.8,251.4 501.9,251.2 502.1,251.0 502.3,251.5 502.5,251.7 502.6,251.0 502.8,251.3 503.0,250.9 503.2,249.9 503.3,249.3 503.5,247.6 503.7,246.0 503.8,243.8 504.0,242.6 504.2,243.3 504.4,245.8 504.5,247.8 504.7,249.6 504.9,250.5 505.1,250.8 505.2,250.4 505.4,251.1 505.6,251.2 505.7,250.7 505.9,250.3 506.1,250.3 506.3,248.9 506.4,248.0 506.6,246.8 506.8,246.1 507.0,246.4 507.1,248.7 507.3,249.3 507.5,249.8 507.6,251.3 507.8,251.1 508.0,251.6 508.2,251.8 508.3,251.1 508.5,251.6 508.7,251.7 508.9,251.2 509.0,251.2 509.2,251.8 509.4,251.6 509.5,251.2 509.7,251.3 509.9,251.5 510.1,251.3 510.2,252.1 510.4,252.2 510.6,251.8 510.8,251.4 510.9,251.2 511.1,251.4 511.3,252.3 511.4,252.0 511.6,251.4 511.8,251.5 512.0,251.9 512.1,251.5 512.3,251.5 512.5,251.8 512.7,251.9 512.8,251.7 513.0,252.3 513.2,251.7 513.3,251.6 513.5,251.1 513.7,251.3 513.9,251.6 514.0,251.6 514.2,251.2 514.4,252.5 514.5,251.8 514.7,251.7 514.9,251.6 515.1,251.6 515.2,251.0 515.4,251.7 515.6,251.3 515.8,251.2 515.9,252.1 516.1,251.7 516.3,251.8 516.4,251.6 516.6,251.5 516.8,251.3 517.0,251.9 517.1,251.4 517.3,251.3 517.5,251.3 517.7,251.8 517.8,251.8 518.0,251.9 518.2,251.6 518.3,251.6 518.5,252.1 518.7,251.2 518.9,251.9 519.0,251.7 519.2,251.5 519.4,251.4 519.6,251.2 519.7,251.2 519.9,251.3 520.1,251.6 520.2,252.3 520.4,251.5 520.6,251.6 520.8,251.5 520.9,251.2 521.1,251.4 521.3,252.1 521.5,251.7 521.6,251.2 521.8,251.1 522.0,252.1 522.1,251.6 522.3,251.3 522.5,251.9 522.7,251.6 522.8,251.5 523.0,251.7 523.2,252.1 523.4,251.4 523.5,251.9 523.7,251.7 523.9,251.5 524.0,252.2 524.2,251.6 524.4,251.7 524.6,251.5 524.7,251.3 524.9,251.8 525.1,251.4 525.3,252.2 525.4,252.2 525.6,251.5 525.8,251.5 525.9,251.4 526.1,252.2 526.3,251.3 526.5,251.4 526.6,251.4 526.8,251.4 527.0,252.1 527.2,251.6 527.3,251.7 527.5,251.6 527.7,251.6 527.8,252.3 528.0,252.2 528.2,251.8 528.4,251.5 528.5,252.4 528.7,251.7 528.9,251.3 529.1,251.3 529.2,251.5 529.4,251.6 529.6,250.4 529.7,251.1 529.9,250.7 530.1,250.6 530.3,250.1 530.4,250.8 530.6,250.6 530.8,251.3 531.0,251.9 531.1,251.5 531.3,251.6 531.5,251.7 531.6,251.1 531.8,251.8 532.0,251.2 532.2,250.9 532.3,251.6 532.5,251.9 532.7,251.4 532.8,251.1 533.0,252.0 533.2,251.1 533.4,251.9 533.5,251.4 533.7,251.0 533.9,251.2 534.1,250.1 534.2,250.4 534.4,250.6 534.6,250.6 534.7,251.3 534.9,250.8 535.1,251.5 535.3,251.4 535.4,251.8 535.6,251.7 535.8,252.0 536.0,251.6 536.1,252.1 536.3,251.7 536.5,251.5 536.6,251.7 536.8,251.8 537.0,252.2 537.2,251.4 537.3,251.7 537.5,251.4 537.7,252.0 537.9,252.0 538.0,251.9 538.2,251.3 538.4,251.4 538.5,251.7 538.7,251.9 538.9,252.0 539.1,251.6 539.2,251.8 539.4,251.7 539.6,251.6 539.8,251.7 539.9,251.4 540.1,252.1 540.3,252.2 540.4,252.0 540.6,251.6 540.8,252.2 541.0,251.5 541.1,252.1 541.3,252.1 541.5,252.1 541.7,251.3 541.8,251.9 542.0,251.6" fill="none" stroke="#0000ff" stroke-width="1.3" stroke-linejoin="round"/></g><g clip-path="url(#cld)"><polyline points="300.3,299.1 300.5,299.5 300.6,299.4 300.8,298.9 301.0,299.0 301.2,298.9 301.3,299.2 301.5,299.0 301.7,299.3 301.9,298.5 302.0,299.5 302.2,299.0 302.4,299.3 302.5,299.0 302.7,298.9 302.9,299.2 303.1,299.3 303.2,299.0 303.4,299.0 303.6,299.2 303.8,298.8 303.9,298.6 304.1,299.2 304.3,298.8 304.4,298.5 304.6,298.8 304.8,298.9 305.0,298.7 305.1,298.6 305.3,299.0 305.5,299.3 305.7,298.9 305.8,298.8 306.0,299.1 306.2,299.2 306.3,298.9 306.5,299.2 306.7,299.3 306.9,298.9 307.0,298.7 307.2,299.1 307.4,299.1 307.6,299.3 307.7,298.6 307.9,298.8 308.1,298.7 308.2,298.4 308.4,299.0 308.6,299.1 308.8,298.7 308.9,299.4 309.1,299.2 309.3,299.1 309.5,299.1 309.6,299.2 309.8,298.5 310.0,299.1 310.1,299.1 310.3,298.4 310.5,299.0 310.7,298.8 310.8,299.1 311.0,298.8 311.2,298.9 311.3,299.0 311.5,298.6 311.7,299.1 311.9,298.8 312.0,299.0 312.2,298.7 312.4,299.2 312.6,299.0 312.7,298.8 312.9,299.0 313.1,299.2 313.2,299.3 313.4,298.3 313.6,299.1 313.8,298.9 313.9,298.7 314.1,298.5 314.3,299.1 314.5,298.4 314.6,298.9 314.8,299.1 315.0,298.2 315.1,298.6 315.3,298.3 315.5,298.8 315.7,299.1 315.8,299.3 316.0,298.1 316.2,298.5 316.4,298.8 316.5,299.1 316.7,298.7 316.9,298.4 317.0,298.7 317.2,298.6 317.4,298.5 317.6,298.3 317.7,298.6 317.9,298.6 318.1,298.5 318.3,298.4 318.4,298.1 318.6,298.3 318.8,298.8 318.9,298.4 319.1,298.0 319.3,298.8 319.5,298.5 319.6,299.0 319.8,298.4 320.0,298.2 320.2,297.9 320.3,298.7 320.5,299.1 320.7,298.0 320.8,298.1 321.0,298.4 321.2,298.0 321.4,298.1 321.5,298.1 321.7,298.2 321.9,298.5 322.1,298.1 322.2,298.4 322.4,298.0 322.6,298.2 322.7,297.4 322.9,297.6 323.1,298.3 323.3,297.9 323.4,298.2 323.6,298.2 323.8,298.4 324.0,298.2 324.1,298.2 324.3,297.9 324.5,297.7 324.6,297.7 324.8,297.7 325.0,297.5 325.2,297.7 325.3,297.8 325.5,297.9 325.7,297.7 325.9,297.2 326.0,297.7 326.2,297.8 326.4,298.0 326.5,297.9 326.7,297.5 326.9,297.4 327.1,298.3 327.2,297.9 327.4,298.2 327.6,298.2 327.8,297.3 327.9,297.7 328.1,297.7 328.3,297.7 328.4,297.7 328.6,297.5 328.8,297.5 329.0,297.0 329.1,297.4 329.3,297.2 329.5,297.4 329.6,297.2 329.8,297.5 330.0,297.6 330.2,297.4 330.3,297.4 330.5,297.3 330.7,297.1 330.9,297.2 331.0,297.1 331.2,297.3 331.4,297.2 331.5,297.3 331.7,296.8 331.9,297.4 332.1,296.9 332.2,296.9 332.4,297.0 332.6,296.9 332.8,297.1 332.9,296.9 333.1,296.7 333.3,296.7 333.4,297.4 333.6,297.0 333.8,296.6 334.0,296.9 334.1,296.4 334.3,297.4 334.5,296.4 334.7,297.0 334.8,297.0 335.0,296.4 335.2,296.9 335.3,297.1 335.5,296.9 335.7,296.9 335.9,297.1 336.0,296.8 336.2,296.9 336.4,296.7 336.6,296.9 336.7,296.4 336.9,297.0 337.1,296.6 337.2,296.4 337.4,296.8 337.6,297.2 337.8,297.0 337.9,296.5 338.1,296.9 338.3,296.5 338.5,296.6 338.6,296.7 338.8,296.0 339.0,296.7 339.1,296.3 339.3,296.4 339.5,296.2 339.7,296.2 339.8,296.4 340.0,296.9 340.2,297.2 340.4,296.7 340.5,297.0 340.7,296.6 340.9,296.1 341.0,296.8 341.2,296.9 341.4,296.6 341.6,296.8 341.7,296.9 341.9,296.5 342.1,296.3 342.3,296.7 342.4,296.8 342.6,296.7 342.8,297.1 342.9,297.4 343.1,296.8 343.3,297.1 343.5,297.2 343.6,297.2 343.8,297.3 344.0,296.9 344.2,297.2 344.3,297.6 344.5,297.3 344.7,296.9 344.8,297.3 345.0,297.5 345.2,297.3 345.4,297.0 345.5,297.7 345.7,296.9 345.9,297.4 346.1,297.3 346.2,297.0 346.4,297.7 346.6,297.5 346.7,297.1 346.9,297.6 347.1,297.4 347.3,296.9 347.4,297.3 347.6,297.7 347.8,297.8 347.9,297.7 348.1,297.7 348.3,297.8 348.5,297.7 348.6,298.1 348.8,297.8 349.0,297.9 349.2,298.0 349.3,297.5 349.5,297.7 349.7,298.4 349.8,298.0 350.0,297.9 350.2,298.1 350.4,297.8 350.5,298.1 350.7,297.8 350.9,298.1 351.1,297.6 351.2,298.4 351.4,297.9 351.6,297.5 351.7,297.8 351.9,297.4 352.1,297.0 352.3,295.5 352.4,294.2 352.6,292.8 352.8,288.7 353.0,287.0 353.1,286.0 353.3,287.0 353.5,288.6 353.6,291.5 353.8,294.3 354.0,296.0 354.2,297.6 354.3,297.6 354.5,298.2 354.7,299.2 354.9,298.2 355.0,298.2 355.2,298.5 355.4,298.5 355.5,298.8 355.7,298.6 355.9,298.3 356.1,298.7 356.2,299.4 356.4,299.0 356.6,297.8 356.8,298.6 356.9,298.3 357.1,298.8 357.3,298.5 357.4,299.1 357.6,298.8 357.8,298.8 358.0,298.5 358.1,298.4 358.3,298.5 358.5,298.6 358.7,298.3 358.8,297.8 359.0,297.7 359.2,296.3 359.3,294.1 359.5,290.1 359.7,284.1 359.9,275.9 360.0,266.3 360.2,260.0 360.4,257.0 360.6,259.7 360.7,267.5 360.9,276.3 361.1,284.4 361.2,289.6 361.4,294.2 361.6,296.5 361.8,297.9 361.9,298.5 362.1,298.7 362.3,298.1 362.5,297.9 362.6,298.8 362.8,298.7 363.0,299.0 363.1,298.7 363.3,298.9 363.5,298.4 363.7,299.0 363.8,298.8 364.0,299.0 364.2,299.1 364.4,298.9 364.5,299.1 364.7,299.0 364.9,299.3 365.0,299.2 365.2,298.9 365.4,298.9 365.6,299.6 365.7,299.1 365.9,299.4 366.1,299.2 366.2,299.0 366.4,298.9 366.6,299.2 366.8,299.2 366.9,299.3 367.1,298.8 367.3,299.0 367.5,299.1 367.6,299.7 367.8,298.5 368.0,299.3 368.1,299.0 368.3,299.3 368.5,299.1 368.7,299.3 368.8,299.7 369.0,299.3 369.2,299.4 369.4,299.3 369.5,299.0 369.7,299.4 369.9,299.2 370.0,299.0 370.2,299.2 370.4,299.2 370.6,299.5 370.7,299.3 370.9,299.1 371.1,299.7 371.3,299.6 371.4,299.7 371.6,299.5 371.8,299.3 371.9,299.2 372.1,299.2 372.3,299.6 372.5,299.3 372.6,298.9 372.8,299.3 373.0,298.9 373.2,299.4 373.3,299.0 373.5,299.0 373.7,299.4 373.8,299.3 374.0,298.8 374.2,299.6 374.4,300.0 374.5,298.9 374.7,299.9 374.9,299.2 375.1,299.2 375.2,299.3 375.4,298.9 375.6,299.8 375.7,299.5 375.9,299.2 376.1,299.3 376.3,298.9 376.4,299.3 376.6,299.7 376.8,298.9 377.0,299.3 377.1,299.4 377.3,299.7 377.5,299.8 377.6,299.3 377.8,299.2 378.0,299.5 378.2,299.3 378.3,299.3 378.5,299.7 378.7,299.9 378.9,299.5 379.0,299.4 379.2,299.6 379.4,298.9 379.5,299.4 379.7,299.1 379.9,300.2 380.1,299.7 380.2,299.5 380.4,299.4 380.6,298.7 380.8,299.7 380.9,299.9 381.1,299.2 381.3,299.7 381.4,299.7 381.6,299.0 381.8,299.7 382.0,299.9 382.1,299.5 382.3,299.5 382.5,299.7 382.7,299.0 382.8,299.5 383.0,299.8 383.2,299.1 383.3,299.8 383.5,299.4 383.7,298.9 383.9,299.5 384.0,299.2 384.2,299.6 384.4,299.1 384.5,299.8 384.7,299.3 384.9,299.6 385.1,299.3 385.2,299.4 385.4,299.9 385.6,299.6 385.8,299.4 385.9,299.1 386.1,299.9 386.3,299.7 386.4,299.4 386.6,299.6 386.8,299.2 387.0,299.2 387.1,299.3 387.3,299.6 387.5,299.6 387.7,299.3 387.8,299.7 388.0,299.7 388.2,299.5 388.3,299.8 388.5,299.3 388.7,299.4 388.9,299.5 389.0,299.3 389.2,299.5 389.4,298.7 389.6,299.0 389.7,297.0 389.9,294.2 390.1,288.9 390.2,284.0 390.4,281.6 390.6,284.1 390.8,289.5 390.9,293.8 391.1,297.0 391.3,298.5 391.5,298.8 391.6,299.6 391.8,299.4 392.0,299.4 392.1,299.6 392.3,299.2 392.5,299.2 392.7,299.2 392.8,299.7 393.0,299.6 393.2,299.7 393.4,299.9 393.5,299.2 393.7,299.4 393.9,299.6 394.0,299.2 394.2,299.4 394.4,299.9 394.6,299.9 394.7,299.9 394.9,299.6 395.1,299.5 395.3,299.9 395.4,299.4 395.6,299.6 395.8,299.8 395.9,299.1 396.1,298.6 396.3,298.0 396.5,297.4 396.6,296.9 396.8,297.3 397.0,298.2 397.2,298.3 397.3,298.9 397.5,299.4 397.7,299.2 397.8,299.1 398.0,299.2 398.2,299.3 398.4,299.6 398.5,299.3 398.7,299.7 398.9,300.1 399.1,299.6 399.2,300.0 399.4,299.7 399.6,299.3 399.7,299.5 399.9,299.3 400.1,299.8 400.3,299.1 400.4,299.7 400.6,299.1 400.8,297.7 401.0,297.9 401.1,297.7 401.3,297.4 401.5,298.7 401.6,298.4 401.8,299.4 402.0,299.0 402.2,299.7 402.3,299.1 402.5,298.9 402.7,299.8 402.8,300.4 403.0,299.5 403.2,299.9 403.4,299.7 403.5,299.6 403.7,299.9 403.9,300.2 404.1,299.3 404.2,299.9 404.4,299.8 404.6,299.3 404.7,300.2 404.9,300.3 405.1,299.4 405.3,300.2 405.4,299.7 405.6,299.6 405.8,300.1 406.0,299.7 406.1,299.7 406.3,300.0 406.5,299.9 406.6,299.7 406.8,298.9 407.0,298.7 407.2,299.2 407.3,297.9 407.5,296.7 407.7,293.9 407.9,291.3 408.0,289.4 408.2,291.8 408.4,293.9 408.5,296.6 408.7,298.1 408.9,299.2 409.1,298.8 409.2,299.4 409.4,299.4 409.6,299.7 409.8,299.7 409.9,299.5 410.1,299.7 410.3,299.6 410.4,299.8 410.6,299.7 410.8,299.5 411.0,299.7 411.1,299.9 411.3,300.4 411.5,299.6 411.7,299.9 411.8,300.2 412.0,299.2 412.2,299.3 412.3,299.4 412.5,299.8 412.7,300.5 412.9,299.9 413.0,300.2 413.2,299.7 413.4,299.1 413.6,299.1 413.7,300.1 413.9,299.9 414.1,299.4 414.2,300.1 414.4,299.4 414.6,300.2 414.8,300.2 414.9,299.6 415.1,299.5 415.3,300.1 415.5,299.5 415.6,300.1 415.8,299.4 416.0,300.0 416.1,299.8 416.3,299.6 416.5,299.4 416.7,299.7 416.8,299.0 417.0,299.2 417.2,298.7 417.4,298.2 417.5,296.6 417.7,297.0 417.9,296.9 418.0,297.6 418.2,299.2 418.4,299.8 418.6,299.5 418.7,299.4 418.9,299.7 419.1,299.5 419.3,299.7 419.4,300.3 419.6,299.9 419.8,299.9 419.9,299.9 420.1,299.8 420.3,300.1 420.5,300.1 420.6,299.7 420.8,299.9 421.0,300.6 421.2,300.0 421.3,299.8 421.5,300.5 421.7,299.9 421.8,299.5 422.0,300.1 422.2,299.6 422.4,299.7 422.5,300.0 422.7,299.8 422.9,299.7 423.0,299.7 423.2,299.7 423.4,300.2 423.6,299.7 423.7,299.7 423.9,300.5 424.1,299.7 424.3,300.3 424.4,300.3 424.6,299.9 424.8,299.5 424.9,300.0 425.1,300.1 425.3,300.2 425.5,299.9 425.6,300.3 425.8,300.3 426.0,299.6 426.2,300.3 426.3,300.0 426.5,299.7 426.7,299.8 426.8,300.5 427.0,300.2 427.2,299.4 427.4,299.9 427.5,299.9 427.7,299.8 427.9,299.7 428.1,299.5 428.2,300.1 428.4,299.6 428.6,299.8 428.7,299.7 428.9,299.6 429.1,300.1 429.3,300.0 429.4,299.6 429.6,299.5 429.8,299.6 430.0,300.0 430.1,299.7 430.3,299.7 430.5,299.3 430.6,299.0 430.8,298.8 431.0,297.5 431.2,297.9 431.3,296.5 431.5,296.3 431.7,297.2 431.9,297.5 432.0,298.1 432.2,298.5 432.4,298.7 432.5,299.5 432.7,300.0 432.9,299.4 433.1,300.2 433.2,299.5 433.4,299.6 433.6,300.0 433.8,299.9 433.9,300.1 434.1,299.7 434.3,299.6 434.4,299.4 434.6,299.6 434.8,299.6 435.0,299.5 435.1,300.0 435.3,299.7 435.5,299.3 435.7,300.7 435.8,299.7 436.0,299.6 436.2,300.3 436.3,300.3 436.5,299.6 436.7,299.5 436.9,299.7 437.0,300.3 437.2,299.9 437.4,299.7 437.6,300.0 437.7,300.3 437.9,299.6 438.1,299.9 438.2,299.6 438.4,300.6 438.6,300.5 438.8,300.3 438.9,299.9 439.1,300.2 439.3,299.4 439.5,300.1 439.6,299.6 439.8,299.6 440.0,299.8 440.1,299.9 440.3,300.2 440.5,300.2 440.7,300.1 440.8,299.7 441.0,300.2 441.2,300.0 441.3,300.4 441.5,299.7 441.7,299.2 441.9,299.9 442.0,300.7 442.2,300.1 442.4,299.9 442.6,300.3 442.7,300.2 442.9,300.1 443.1,299.9 443.2,300.0 443.4,300.1 443.6,299.8 443.8,299.7 443.9,300.1 444.1,300.3 444.3,300.2 444.5,300.2 444.6,300.2 444.8,300.8 445.0,300.1 445.1,300.3 445.3,300.6 445.5,300.0 445.7,300.1 445.8,300.3 446.0,300.5 446.2,300.1 446.4,300.1 446.5,300.0 446.7,299.7 446.9,300.4 447.0,299.9 447.2,299.5 447.4,300.0 447.6,299.5 447.7,299.7 447.9,300.0 448.1,299.7 448.3,300.3 448.4,299.6 448.6,300.1 448.8,300.2 448.9,300.4 449.1,300.3 449.3,300.1 449.5,300.0 449.6,300.0 449.8,300.3 450.0,299.8 450.2,300.1 450.3,299.9 450.5,300.0 450.7,299.9 450.8,300.6 451.0,299.7 451.2,299.9 451.4,299.9 451.5,300.0 451.7,299.9 451.9,299.7 452.1,299.7 452.2,298.5 452.4,297.7 452.6,294.9 452.7,291.1 452.9,285.0 453.1,279.6 453.3,277.6 453.4,280.3 453.6,285.5 453.8,291.1 454.0,295.7 454.1,297.5 454.3,298.3 454.5,299.3 454.6,299.5 454.8,300.1 455.0,300.4 455.2,299.4 455.3,300.6 455.5,300.4 455.7,300.2 455.9,300.1 456.0,300.7 456.2,300.0 456.4,299.8 456.5,300.0 456.7,299.6 456.9,300.2 457.1,300.0 457.2,300.1 457.4,300.1 457.6,299.7 457.8,300.4 457.9,299.7 458.1,300.3 458.3,299.5 458.4,300.1 458.6,299.8 458.8,300.0 459.0,299.8 459.1,299.3 459.3,299.6 459.5,300.0 459.6,300.1 459.8,299.4 460.0,299.2 460.2,299.4 460.3,299.4 460.5,298.8 460.7,297.7 460.9,296.5 461.0,294.5 461.2,293.4 461.4,294.0 461.5,296.3 461.7,297.9 461.9,298.5 462.1,299.7 462.2,299.7 462.4,299.7 462.6,300.3 462.8,300.2 462.9,300.2 463.1,300.4 463.3,300.2 463.4,299.7 463.6,299.9 463.8,300.4 464.0,299.8 464.1,300.1 464.3,300.2 464.5,300.5 464.7,300.5 464.8,300.4 465.0,300.1 465.2,300.4 465.3,300.3 465.5,300.1 465.7,300.5 465.9,300.3 466.0,299.9 466.2,300.5 466.4,300.1 466.6,300.3 466.7,299.7 466.9,300.1 467.1,299.9 467.2,299.9 467.4,299.6 467.6,300.8 467.8,300.1 467.9,300.2 468.1,300.5 468.3,300.1 468.5,300.3 468.6,299.8 468.8,300.2 469.0,300.0 469.1,300.3 469.3,300.2 469.5,299.7 469.7,299.6 469.8,299.9 470.0,300.4 470.2,300.3 470.4,300.3 470.5,299.6 470.7,299.4 470.9,300.0 471.0,300.1 471.2,300.0 471.4,300.3 471.6,300.1 471.7,299.8 471.9,299.9 472.1,300.2 472.3,300.2 472.4,300.2 472.6,300.9 472.8,300.1 472.9,300.2 473.1,299.9 473.3,300.1 473.5,300.3 473.6,300.4 473.8,300.1 474.0,300.3 474.2,300.2 474.3,299.6 474.5,299.2 474.7,300.9 474.8,300.4 475.0,300.2 475.2,299.7 475.4,299.8 475.5,300.6 475.7,299.3 475.9,300.1 476.1,300.4 476.2,300.2 476.4,300.4 476.6,300.1 476.7,300.9 476.9,299.9 477.1,299.8 477.3,300.3 477.4,300.6 477.6,300.2 477.8,300.5 477.9,300.0 478.1,299.8 478.3,300.6 478.5,300.6 478.6,300.6 478.8,300.0 479.0,299.8 479.2,299.8 479.3,300.1 479.5,300.3 479.7,300.3 479.8,299.7 480.0,300.2 480.2,300.1 480.4,300.1 480.5,300.0 480.7,299.9 480.9,300.1 481.1,299.9 481.2,299.7 481.4,299.1 481.6,298.9 481.7,298.1 481.9,296.6 482.1,296.5 482.3,295.9 482.4,296.6 482.6,297.1 482.8,298.1 483.0,298.9 483.1,299.3 483.3,299.5 483.5,299.3 483.6,300.5 483.8,299.5 484.0,299.9 484.2,300.2 484.3,300.2 484.5,300.2 484.7,300.3 484.9,300.4 485.0,300.1 485.2,300.9 485.4,299.7 485.5,300.0 485.7,299.7 485.9,299.5 486.1,299.4 486.2,299.3 486.4,298.0 486.6,297.5 486.8,297.7 486.9,297.9 487.1,298.8 487.3,299.2 487.4,299.4 487.6,299.6 487.8,299.9 488.0,299.9 488.1,299.6 488.3,300.1 488.5,300.1 488.7,300.1 488.8,300.0 489.0,300.7 489.2,300.4 489.3,300.5 489.5,300.0 489.7,299.9 489.9,300.1 490.0,300.3 490.2,300.1 490.4,300.2 490.6,300.5 490.7,300.3 490.9,299.9 491.1,300.1 491.2,300.0 491.4,300.3 491.6,299.9 491.8,300.2 491.9,300.4 492.1,300.2 492.3,300.0 492.5,300.0 492.6,300.3 492.8,300.4 493.0,300.5 493.1,300.2 493.3,299.8 493.5,300.7 493.7,300.3 493.8,300.4 494.0,300.3 494.2,299.9 494.4,300.1 494.5,300.3 494.7,300.6 494.9,300.3 495.0,299.3 495.2,300.2 495.4,300.3 495.6,300.6 495.7,300.5 495.9,301.0 496.1,300.7 496.2,300.6 496.4,300.5 496.6,299.8 496.8,300.5 496.9,300.4 497.1,300.1 497.3,300.4 497.5,300.4 497.6,300.1 497.8,300.2 498.0,300.2 498.1,300.3 498.3,300.1 498.5,300.4 498.7,299.7 498.8,300.2 499.0,299.7 499.2,300.1 499.4,300.4 499.5,300.2 499.7,300.2 499.9,300.2 500.0,300.7 500.2,299.9 500.4,300.5 500.6,299.8 500.7,300.1 500.9,300.2 501.1,299.9 501.3,300.2 501.4,300.4 501.6,299.8 501.8,300.1 501.9,300.0 502.1,299.5 502.3,300.0 502.5,299.7 502.6,300.3 502.8,299.5 503.0,300.1 503.2,299.1 503.3,299.1 503.5,297.5 503.7,295.8 503.8,294.2 504.0,293.4 504.2,294.4 504.4,296.2 504.5,297.2 504.7,298.1 504.9,298.4 505.1,299.4 505.2,299.9 505.4,299.9 505.6,299.8 505.7,299.6 505.9,299.4 506.1,299.1 506.3,298.7 506.4,297.2 506.6,297.0 506.8,296.0 507.0,296.8 507.1,297.6 507.3,298.6 507.5,299.0 507.6,299.3 507.8,299.8 508.0,299.7 508.2,300.8 508.3,300.0 508.5,299.9 508.7,300.0 508.9,299.9 509.0,299.5 509.2,300.1 509.4,300.3 509.5,299.8 509.7,300.2 509.9,299.9 510.1,300.2 510.2,300.4 510.4,300.4 510.6,300.4 510.8,300.1 510.9,300.5 511.1,300.1 511.3,300.4 511.4,300.5 511.6,300.2 511.8,299.9 512.0,300.5 512.1,299.9 512.3,300.0 512.5,300.0 512.7,300.5 512.8,300.2 513.0,299.6 513.2,300.5 513.3,300.9 513.5,300.8 513.7,300.1 513.9,300.3 514.0,300.5 514.2,300.6 514.4,300.3 514.5,300.0 514.7,300.5 514.9,300.5 515.1,299.9 515.2,300.2 515.4,300.4 515.6,300.3 515.8,300.5 515.9,300.5 516.1,300.5 516.3,300.3 516.4,299.9 516.6,300.5 516.8,300.7 517.0,300.9 517.1,300.3 517.3,300.3 517.5,300.7 517.7,300.7 517.8,300.4 518.0,300.5 518.2,300.1 518.3,300.5 518.5,300.1 518.7,300.3 518.9,300.3 519.0,300.2 519.2,299.7 519.4,300.1 519.6,300.4 519.7,300.3 519.9,300.2 520.1,300.5 520.2,300.5 520.4,300.6 520.6,300.1 520.8,300.3 520.9,300.2 521.1,300.1 521.3,299.9 521.5,300.3 521.6,300.1 521.8,301.0 522.0,300.3 522.1,300.3 522.3,300.2 522.5,300.9 522.7,300.0 522.8,300.3 523.0,300.1 523.2,300.3 523.4,300.3 523.5,300.7 523.7,299.9 523.9,300.3 524.0,300.8 524.2,300.2 524.4,300.3 524.6,300.1 524.7,299.6 524.9,300.3 525.1,300.7 525.3,300.2 525.4,299.8 525.6,300.4 525.8,300.4 525.9,300.6 526.1,300.6 526.3,300.3 526.5,300.5 526.6,299.8 526.8,300.7 527.0,300.4 527.2,300.7 527.3,300.6 527.5,300.2 527.7,300.3 527.8,300.1 528.0,299.7 528.2,300.3 528.4,300.3 528.5,300.0 528.7,300.5 528.9,300.3 529.1,300.3 529.2,299.8 529.4,299.3 529.6,299.7 529.7,299.3 529.9,299.0 530.1,299.0 530.3,299.4 530.4,299.8 530.6,299.9 530.8,299.6 531.0,300.5 531.1,299.8 531.3,300.2 531.5,300.2 531.6,300.4 531.8,299.8 532.0,300.7 532.2,300.5 532.3,300.6 532.5,300.7 532.7,300.1 532.8,299.4 533.0,300.5 533.2,300.7 533.4,300.7 533.5,300.2 533.7,300.3 533.9,300.4 534.1,299.8 534.2,300.2 534.4,300.2 534.6,300.8 534.7,300.2 534.9,300.8 535.1,300.4 535.3,299.9 535.4,301.0 535.6,300.1 535.8,300.6 536.0,300.9 536.1,300.2 536.3,300.0 536.5,300.7 536.6,300.4 536.8,300.0 537.0,300.1 537.2,300.3 537.3,300.7 537.5,300.3 537.7,300.6 537.9,300.9 538.0,300.8 538.2,300.8 538.4,300.8 538.5,299.9 538.7,300.8 538.9,300.5 539.1,300.3 539.2,300.1 539.4,299.9 539.6,300.1 539.8,300.4 539.9,300.0 540.1,300.1 540.3,300.2 540.4,300.6 540.6,300.3 540.8,300.3 541.0,300.8 541.1,300.3 541.3,300.6 541.5,300.1 541.7,300.5 541.8,300.4 542.0,300.4" fill="none" stroke="#11ee11" stroke-width="1.3" stroke-linejoin="round"/></g><g clip-path="url(#cld)"><polyline points="300.3,349.9 300.5,350.1 300.6,350.1 300.8,350.1 301.0,350.2 301.2,349.7 301.3,349.8 301.5,349.7 301.7,349.9 301.9,350.1 302.0,349.9 302.2,350.0 302.4,349.5 302.5,350.0 302.7,349.7 302.9,350.3 303.1,350.1 303.2,350.1 303.4,349.9 303.6,350.1 303.8,350.1 303.9,349.9 304.1,349.8 304.3,349.9 304.4,349.8 304.6,349.8 304.8,349.9 305.0,349.8 305.1,350.1 305.3,349.6 305.5,350.1 305.7,349.8 305.8,349.8 306.0,349.7 306.2,349.9 306.3,349.9 306.5,350.0 306.7,349.8 306.9,350.0 307.0,350.3 307.2,350.0 307.4,349.8 307.6,350.2 307.7,349.9 307.9,350.1 308.1,350.1 308.2,349.9 308.4,349.6 308.6,349.9 308.8,350.1 308.9,349.9 309.1,350.1 309.3,350.2 309.5,349.9 309.6,350.2 309.8,350.3 310.0,350.2 310.1,350.2 310.3,350.2 310.5,350.4 310.7,350.0 310.8,350.0 311.0,350.1 311.2,349.8 311.3,349.7 311.5,349.8 311.7,350.1 311.9,350.1 312.0,349.7 312.2,349.6 312.4,349.9 312.6,350.0 312.7,350.0 312.9,350.1 313.1,350.3 313.2,350.1 313.4,350.1 313.6,349.8 313.8,349.8 313.9,350.1 314.1,350.2 314.3,350.2 314.5,350.1 314.6,350.2 314.8,350.2 315.0,349.7 315.1,349.9 315.3,350.1 315.5,350.2 315.7,349.7 315.8,350.3 316.0,349.9 316.2,350.0 316.4,350.1 316.5,350.2 316.7,349.8 316.9,350.2 317.0,350.1 317.2,349.9 317.4,350.0 317.6,349.6 317.7,349.9 317.9,350.1 318.1,349.9 318.3,350.0 318.4,350.0 318.6,350.1 318.8,350.3 318.9,350.1 319.1,350.0 319.3,350.2 319.5,350.5 319.6,350.0 319.8,350.2 320.0,349.8 320.2,350.3 320.3,350.2 320.5,350.3 320.7,350.1 320.8,349.9 321.0,350.3 321.2,350.2 321.4,349.9 321.5,349.8 321.7,350.2 321.9,350.1 322.1,350.6 322.2,350.0 322.4,350.0 322.6,350.1 322.7,349.8 322.9,349.9 323.1,350.4 323.3,350.1 323.4,350.0 323.6,349.8 323.8,350.2 324.0,350.2 324.1,350.2 324.3,350.0 324.5,350.2 324.6,350.2 324.8,350.0 325.0,350.2 325.2,349.7 325.3,349.9 325.5,350.1 325.7,350.1 325.9,349.9 326.0,350.2 326.2,350.3 326.4,350.2 326.5,350.2 326.7,350.3 326.9,350.2 327.1,349.9 327.2,350.1 327.4,350.4 327.6,349.9 327.8,350.1 327.9,350.1 328.1,350.0 328.3,349.9 328.4,350.2 328.6,350.2 328.8,350.2 329.0,349.9 329.1,350.1 329.3,350.2 329.5,350.3 329.6,350.3 329.8,350.3 330.0,350.4 330.2,350.3 330.3,350.0 330.5,350.2 330.7,350.0 330.9,349.7 331.0,349.8 331.2,350.6 331.4,349.9 331.5,349.7 331.7,350.1 331.9,350.5 332.1,350.2 332.2,350.3 332.4,350.1 332.6,350.2 332.8,350.4 332.9,350.3 333.1,350.2 333.3,350.4 333.4,350.4 333.6,350.1 333.8,350.2 334.0,350.2 334.1,350.1 334.3,350.4 334.5,350.2 334.7,350.1 334.8,349.9 335.0,349.9 335.2,350.5 335.3,350.0 335.5,350.3 335.7,350.1 335.9,350.3 336.0,350.3 336.2,350.1 336.4,350.2 336.6,350.2 336.7,350.2 336.9,350.2 337.1,350.2 337.2,350.3 337.4,350.5 337.6,350.3 337.8,350.1 337.9,350.3 338.1,350.2 338.3,350.3 338.5,350.6 338.6,350.2 338.8,350.2 339.0,350.1 339.1,350.2 339.3,350.1 339.5,350.6 339.7,350.3 339.8,350.1 340.0,350.6 340.2,350.0 340.4,350.4 340.5,350.4 340.7,350.4 340.9,350.2 341.0,350.2 341.2,350.2 341.4,350.4 341.6,349.8 341.7,350.2 341.9,350.3 342.1,350.1 342.3,349.9 342.4,350.2 342.6,350.1 342.8,350.4 342.9,350.5 343.1,350.3 343.3,349.9 343.5,350.2 343.6,350.1 343.8,350.4 344.0,350.6 344.2,350.3 344.3,350.7 344.5,350.6 344.7,350.4 344.8,350.1 345.0,350.3 345.2,350.0 345.4,350.5 345.5,350.3 345.7,350.6 345.9,350.4 346.1,349.9 346.2,350.4 346.4,350.5 346.6,350.7 346.7,350.1 346.9,350.1 347.1,350.3 347.3,350.1 347.4,350.1 347.6,350.1 347.8,350.8 347.9,350.2 348.1,350.1 348.3,350.2 348.5,350.3 348.6,350.6 348.8,350.5 349.0,350.5 349.2,350.3 349.3,350.4 349.5,350.2 349.7,350.0 349.8,350.7 350.0,350.2 350.2,350.5 350.4,350.3 350.5,350.3 350.7,350.3 350.9,350.1 351.1,350.3 351.2,350.4 351.4,350.5 351.6,350.4 351.7,350.6 351.9,350.4 352.1,350.3 352.3,350.0 352.4,350.2 352.6,350.7 352.8,350.4 353.0,350.5 353.1,350.3 353.3,350.2 353.5,350.8 353.6,350.4 353.8,350.7 354.0,350.5 354.2,350.3 354.3,349.9 354.5,350.4 354.7,350.0 354.9,349.9 355.0,350.6 355.2,350.5 355.4,350.5 355.5,350.4 355.7,350.3 355.9,350.4 356.1,350.4 356.2,350.3 356.4,350.5 356.6,349.8 356.8,350.5 356.9,350.2 357.1,350.5 357.3,350.5 357.4,350.1 357.6,350.4 357.8,350.4 358.0,350.1 358.1,350.1 358.3,350.1 358.5,349.6 358.7,349.9 358.8,349.9 359.0,349.7 359.2,349.3 359.3,349.1 359.5,348.3 359.7,345.0 359.9,337.3 360.0,325.1 360.2,311.8 360.4,305.5 360.6,311.7 360.7,325.2 360.9,337.5 361.1,344.9 361.2,347.5 361.4,349.4 361.6,349.6 361.8,350.0 361.9,349.9 362.1,350.1 362.3,350.4 362.5,349.6 362.6,350.5 362.8,350.3 363.0,349.9 363.1,349.7 363.3,350.4 363.5,350.1 363.7,350.5 363.8,350.4 364.0,350.3 364.2,350.6 364.4,350.4 364.5,350.5 364.7,350.6 364.9,350.5 365.0,350.6 365.2,350.6 365.4,350.1 365.6,350.4 365.7,350.4 365.9,350.3 366.1,350.1 366.2,350.3 366.4,350.5 366.6,350.5 366.8,350.7 366.9,350.3 367.1,350.4 367.3,350.3 367.5,350.4 367.6,350.3 367.8,350.1 368.0,350.5 368.1,350.7 368.3,350.7 368.5,350.2 368.7,350.4 368.8,350.8 369.0,350.4 369.2,350.5 369.4,350.4 369.5,350.7 369.7,350.7 369.9,350.9 370.0,350.6 370.2,350.6 370.4,350.2 370.6,350.4 370.7,350.3 370.9,350.4 371.1,350.2 371.3,350.7 371.4,350.3 371.6,350.5 371.8,350.2 371.9,350.6 372.1,350.8 372.3,350.3 372.5,350.6 372.6,350.5 372.8,350.5 373.0,350.6 373.2,350.4 373.3,350.5 373.5,350.4 373.7,350.3 373.8,350.3 374.0,350.7 374.2,350.3 374.4,350.6 374.5,350.6 374.7,350.3 374.9,350.7 375.1,350.3 375.2,350.6 375.4,350.8 375.6,350.4 375.7,350.3 375.9,350.3 376.1,351.0 376.3,350.4 376.4,350.3 376.6,350.7 376.8,350.5 377.0,350.5 377.1,350.3 377.3,350.1 377.5,350.4 377.6,350.3 377.8,350.2 378.0,350.3 378.2,350.3 378.3,350.7 378.5,350.6 378.7,350.6 378.9,350.4 379.0,350.3 379.2,350.6 379.4,350.6 379.5,350.7 379.7,350.5 379.9,350.5 380.1,350.6 380.2,350.3 380.4,350.3 380.6,350.6 380.8,350.3 380.9,350.5 381.1,350.7 381.3,350.6 381.4,350.6 381.6,350.3 381.8,350.5 382.0,350.5 382.1,350.6 382.3,350.6 382.5,350.5 382.7,350.9 382.8,350.6 383.0,350.5 383.2,350.4 383.3,350.5 383.5,350.4 383.7,350.8 383.9,350.6 384.0,350.4 384.2,350.4 384.4,350.3 384.5,350.5 384.7,350.8 384.9,350.7 385.1,350.5 385.2,350.5 385.4,350.1 385.6,350.7 385.8,350.5 385.9,350.8 386.1,350.5 386.3,350.4 386.4,350.5 386.6,350.4 386.8,350.8 387.0,350.5 387.1,350.6 387.3,350.5 387.5,350.4 387.7,350.6 387.8,350.5 388.0,350.8 388.2,350.4 388.3,350.5 388.5,350.3 388.7,350.3 388.9,350.3 389.0,350.5 389.2,350.2 389.4,350.2 389.6,349.6 389.7,348.3 389.9,344.6 390.1,338.6 390.2,330.9 390.4,326.4 390.6,330.7 390.8,338.7 390.9,344.9 391.1,348.5 391.3,349.5 391.5,350.0 391.6,350.4 391.8,350.3 392.0,350.1 392.1,350.7 392.3,350.2 392.5,350.4 392.7,350.4 392.8,350.4 393.0,350.3 393.2,350.2 393.4,350.9 393.5,350.3 393.7,350.3 393.9,350.0 394.0,350.5 394.2,350.8 394.4,350.8 394.6,351.1 394.7,350.8 394.9,350.6 395.1,350.5 395.3,350.8 395.4,350.5 395.6,350.6 395.8,350.3 395.9,350.6 396.1,350.9 396.3,350.5 396.5,350.6 396.6,350.1 396.8,350.8 397.0,350.6 397.2,350.8 397.3,350.6 397.5,350.4 397.7,350.3 397.8,350.6 398.0,350.5 398.2,350.3 398.4,350.5 398.5,350.4 398.7,350.7 398.9,350.4 399.1,350.3 399.2,350.5 399.4,350.4 399.6,350.8 399.7,350.4 399.9,350.2 400.1,350.5 400.3,350.4 400.4,350.3 400.6,349.7 400.8,348.5 401.0,347.5 401.1,346.9 401.3,347.3 401.5,348.6 401.6,349.7 401.8,349.9 402.0,350.2 402.2,350.4 402.3,350.5 402.5,350.6 402.7,350.2 402.8,350.6 403.0,350.6 403.2,350.8 403.4,350.4 403.5,350.3 403.7,350.2 403.9,350.6 404.1,350.8 404.2,350.4 404.4,350.6 404.6,350.7 404.7,350.7 404.9,350.4 405.1,350.6 405.3,350.5 405.4,350.3 405.6,350.6 405.8,350.6 406.0,350.3 406.1,350.6 406.3,350.9 406.5,350.1 406.6,350.6 406.8,350.6 407.0,350.3 407.2,350.2 407.3,349.4 407.5,348.1 407.7,344.3 407.9,340.5 408.0,338.1 408.2,340.6 408.4,344.6 408.5,347.5 408.7,349.3 408.9,350.2 409.1,350.2 409.2,350.1 409.4,349.9 409.6,350.5 409.8,350.9 409.9,350.4 410.1,350.6 410.3,350.6 410.4,350.5 410.6,350.5 410.8,350.5 411.0,350.3 411.1,351.0 411.3,351.1 411.5,350.6 411.7,350.9 411.8,350.4 412.0,350.5 412.2,350.8 412.3,350.3 412.5,350.3 412.7,350.6 412.9,350.1 413.0,350.9 413.2,350.7 413.4,350.6 413.6,350.7 413.7,350.4 413.9,350.4 414.1,350.7 414.2,350.7 414.4,350.6 414.6,350.5 414.8,350.4 414.9,350.8 415.1,350.3 415.3,350.4 415.5,350.4 415.6,350.2 415.8,350.3 416.0,350.3 416.1,350.7 416.3,350.9 416.5,350.6 416.7,350.1 416.8,350.3 417.0,350.1 417.2,349.4 417.4,348.1 417.5,346.6 417.7,345.3 417.9,346.4 418.0,348.2 418.2,349.6 418.4,350.2 418.6,350.4 418.7,350.5 418.9,350.4 419.1,350.5 419.3,350.5 419.4,350.4 419.6,350.8 419.8,350.8 419.9,350.5 420.1,350.7 420.3,350.8 420.5,350.6 420.6,350.6 420.8,350.7 421.0,350.3 421.2,350.3 421.3,350.7 421.5,350.6 421.7,350.9 421.8,350.5 422.0,350.8 422.2,350.8 422.4,351.0 422.5,350.4 422.7,350.5 422.9,350.7 423.0,350.6 423.2,350.4 423.4,350.5 423.6,350.3 423.7,351.1 423.9,350.6 424.1,350.6 424.3,350.5 424.4,350.6 424.6,350.8 424.8,350.5 424.9,350.6 425.1,351.0 425.3,350.8 425.5,350.7 425.6,350.5 425.8,350.6 426.0,350.5 426.2,350.7 426.3,350.5 426.5,350.5 426.7,350.5 426.8,350.4 427.0,350.6 427.2,351.1 427.4,350.5 427.5,350.3 427.7,350.8 427.9,350.6 428.1,351.0 428.2,350.7 428.4,350.8 428.6,350.4 428.7,350.3 428.9,350.6 429.1,350.7 429.3,350.4 429.4,350.3 429.6,350.5 429.8,350.5 430.0,350.5 430.1,350.6 430.3,351.1 430.5,350.6 430.6,350.5 430.8,350.4 431.0,350.8 431.2,350.3 431.3,350.9 431.5,350.6 431.7,350.3 431.9,350.6 432.0,350.6 432.2,350.8 432.4,350.3 432.5,350.6 432.7,350.6 432.9,350.8 433.1,350.4 433.2,350.4 433.4,351.0 433.6,350.7 433.8,350.3 433.9,350.7 434.1,350.4 434.3,350.5 434.4,350.4 434.6,350.8 434.8,350.5 435.0,350.6 435.1,350.6 435.3,350.3 435.5,350.4 435.7,350.7 435.8,350.3 436.0,350.6 436.2,350.6 436.3,350.7 436.5,350.7 436.7,350.8 436.9,350.6 437.0,350.6 437.2,350.5 437.4,350.5 437.6,350.8 437.7,350.5 437.9,350.8 438.1,350.8 438.2,350.4 438.4,350.7 438.6,350.4 438.8,350.7 438.9,350.4 439.1,350.7 439.3,350.6 439.5,350.4 439.6,351.0 439.8,350.8 440.0,350.3 440.1,350.7 440.3,350.5 440.5,351.0 440.7,350.6 440.8,350.7 441.0,350.6 441.2,350.7 441.3,350.5 441.5,350.4 441.7,350.5 441.9,350.5 442.0,350.7 442.2,350.6 442.4,350.5 442.6,350.5 442.7,350.4 442.9,350.6 443.1,350.2 443.2,350.6 443.4,350.8 443.6,350.5 443.8,350.5 443.9,350.6 444.1,350.4 444.3,350.5 444.5,350.7 444.6,350.5 444.8,351.0 445.0,350.7 445.1,350.6 445.3,350.5 445.5,350.6 445.7,350.2 445.8,350.7 446.0,350.8 446.2,350.7 446.4,350.5 446.5,350.7 446.7,350.7 446.9,350.6 447.0,350.7 447.2,350.8 447.4,350.7 447.6,350.5 447.7,350.6 447.9,350.6 448.1,350.3 448.3,350.6 448.4,350.6 448.6,350.2 448.8,350.2 448.9,350.9 449.1,350.6 449.3,350.8 449.5,350.5 449.6,350.9 449.8,350.7 450.0,350.4 450.2,350.6 450.3,350.9 450.5,351.0 450.7,350.6 450.8,350.4 451.0,350.3 451.2,350.6 451.4,350.6 451.5,350.4 451.7,350.3 451.9,350.4 452.1,350.2 452.2,350.0 452.4,349.1 452.6,347.6 452.7,343.4 452.9,334.2 453.1,323.7 453.3,317.8 453.4,323.1 453.6,334.2 453.8,343.2 454.0,347.5 454.1,349.4 454.3,349.8 454.5,350.4 454.6,350.2 454.8,350.4 455.0,350.1 455.2,350.2 455.3,350.4 455.5,350.3 455.7,350.5 455.9,350.6 456.0,350.7 456.2,350.3 456.4,350.5 456.5,350.7 456.7,350.4 456.9,350.3 457.1,350.4 457.2,350.9 457.4,350.6 457.6,350.9 457.8,350.5 457.9,350.8 458.1,350.3 458.3,350.5 458.4,350.6 458.6,350.9 458.8,350.7 459.0,350.8 459.1,350.5 459.3,350.5 459.5,350.8 459.6,350.8 459.8,350.8 460.0,350.7 460.2,350.3 460.3,350.7 460.5,349.7 460.7,348.5 460.9,345.6 461.0,341.7 461.2,339.9 461.4,341.7 461.5,345.5 461.7,348.5 461.9,349.7 462.1,350.4 462.2,350.2 462.4,350.4 462.6,350.4 462.8,350.6 462.9,350.3 463.1,350.6 463.3,350.7 463.4,350.5 463.6,350.4 463.8,350.5 464.0,350.4 464.1,350.4 464.3,350.8 464.5,350.7 464.7,350.4 464.8,350.6 465.0,350.7 465.2,350.8 465.3,350.8 465.5,350.8 465.7,350.6 465.9,350.6 466.0,350.6 466.2,350.9 466.4,350.8 466.6,351.0 466.7,350.9 466.9,350.5 467.1,350.4 467.2,350.4 467.4,350.5 467.6,350.8 467.8,350.4 467.9,350.3 468.1,350.6 468.3,350.8 468.5,350.8 468.6,351.0 468.8,350.7 469.0,350.6 469.1,350.6 469.3,350.4 469.5,350.5 469.7,350.9 469.8,351.1 470.0,350.9 470.2,350.7 470.4,350.6 470.5,350.7 470.7,350.3 470.9,350.8 471.0,350.8 471.2,350.6 471.4,350.7 471.6,350.3 471.7,350.8 471.9,350.8 472.1,350.1 472.3,350.5 472.4,350.7 472.6,351.0 472.8,350.5 472.9,350.7 473.1,351.0 473.3,350.8 473.5,350.6 473.6,350.6 473.8,350.7 474.0,350.5 474.2,350.9 474.3,350.5 474.5,350.8 474.7,350.9 474.8,350.9 475.0,350.7 475.2,350.7 475.4,350.8 475.5,350.7 475.7,350.9 475.9,350.7 476.1,351.1 476.2,351.3 476.4,350.6 476.6,350.8 476.7,350.5 476.9,350.8 477.1,350.8 477.3,350.7 477.4,350.5 477.6,350.7 477.8,351.1 477.9,351.0 478.1,350.8 478.3,350.6 478.5,350.7 478.6,350.5 478.8,350.4 479.0,350.5 479.2,350.8 479.3,350.7 479.5,350.7 479.7,350.5 479.8,350.4 480.0,350.9 480.2,350.6 480.4,350.9 480.5,350.5 480.7,350.9 480.9,350.7 481.1,350.5 481.2,350.5 481.4,350.9 481.6,350.5 481.7,349.7 481.9,348.7 482.1,347.1 482.3,347.0 482.4,347.6 482.6,348.6 482.8,349.9 483.0,349.8 483.1,350.7 483.3,350.7 483.5,350.7 483.6,350.8 483.8,350.7 484.0,350.5 484.2,350.5 484.3,350.6 484.5,350.8 484.7,350.7 484.9,350.5 485.0,350.7 485.2,350.4 485.4,351.1 485.5,350.7 485.7,350.4 485.9,350.6 486.1,350.5 486.2,349.8 486.4,348.9 486.6,346.7 486.8,346.5 486.9,346.9 487.1,348.6 487.3,350.0 487.4,350.1 487.6,350.2 487.8,350.5 488.0,350.3 488.1,350.2 488.3,350.7 488.5,350.9 488.7,350.6 488.8,350.8 489.0,351.4 489.2,350.8 489.3,350.6 489.5,350.7 489.7,350.8 489.9,350.6 490.0,350.8 490.2,350.7 490.4,350.9 490.6,350.7 490.7,350.7 490.9,350.5 491.1,350.4 491.2,350.6 491.4,350.6 491.6,350.8 491.8,350.7 491.9,350.6 492.1,351.2 492.3,350.8 492.5,351.0 492.6,350.5 492.8,350.9 493.0,350.9 493.1,350.8 493.3,350.5 493.5,351.0 493.7,350.6 493.8,350.4 494.0,350.4 494.2,350.7 494.4,350.6 494.5,350.9 494.7,350.8 494.9,351.0 495.0,350.8 495.2,350.7 495.4,350.7 495.6,350.6 495.7,350.5 495.9,350.6 496.1,350.8 496.2,350.5 496.4,350.7 496.6,350.9 496.8,350.2 496.9,350.5 497.1,350.5 497.3,350.7 497.5,350.4 497.6,350.6 497.8,351.2 498.0,350.4 498.1,350.7 498.3,350.7 498.5,350.6 498.7,350.5 498.8,350.9 499.0,350.3 499.2,350.5 499.4,350.7 499.5,350.6 499.7,350.9 499.9,350.6 500.0,351.1 500.2,350.7 500.4,351.0 500.6,350.8 500.7,350.6 500.9,350.6 501.1,350.9 501.3,350.6 501.4,350.7 501.6,350.5 501.8,350.2 501.9,350.8 502.1,350.8 502.3,350.4 502.5,350.7 502.6,350.5 502.8,350.2 503.0,350.3 503.2,350.4 503.3,349.9 503.5,348.3 503.7,345.8 503.8,341.7 504.0,339.6 504.2,341.3 504.4,345.5 504.5,348.1 504.7,349.6 504.9,350.1 505.1,350.3 505.2,350.4 505.4,350.6 505.6,350.6 505.7,350.6 505.9,350.6 506.1,350.0 506.3,349.0 506.4,347.5 506.6,345.0 506.8,344.5 507.0,345.5 507.1,347.6 507.3,349.0 507.5,350.0 507.6,350.5 507.8,350.4 508.0,350.4 508.2,350.6 508.3,350.7 508.5,350.5 508.7,350.9 508.9,351.1 509.0,350.8 509.2,350.7 509.4,350.6 509.5,351.0 509.7,350.8 509.9,350.8 510.1,350.8 510.2,350.6 510.4,351.0 510.6,350.7 510.8,350.8 510.9,350.3 511.1,351.2 511.3,350.9 511.4,350.7 511.6,350.6 511.8,350.6 512.0,350.4 512.1,350.8 512.3,350.6 512.5,350.8 512.7,350.8 512.8,351.1 513.0,350.8 513.2,350.8 513.3,350.8 513.5,350.6 513.7,350.7 513.9,350.8 514.0,351.0 514.2,350.9 514.4,350.7 514.5,351.0 514.7,350.7 514.9,350.4 515.1,351.1 515.2,350.8 515.4,350.7 515.6,350.5 515.8,350.7 515.9,351.1 516.1,350.7 516.3,351.2 516.4,350.8 516.6,351.0 516.8,350.8 517.0,350.7 517.1,350.7 517.3,350.7 517.5,350.5 517.7,350.5 517.8,350.8 518.0,351.0 518.2,350.8 518.3,350.8 518.5,350.6 518.7,351.0 518.9,351.0 519.0,350.5 519.2,350.8 519.4,350.7 519.6,350.5 519.7,351.1 519.9,351.0 520.1,350.8 520.2,351.1 520.4,350.7 520.6,350.8 520.8,351.1 520.9,350.7 521.1,350.8 521.3,350.6 521.5,350.9 521.6,351.0 521.8,350.6 522.0,350.6 522.1,350.8 522.3,351.1 522.5,350.7 522.7,350.6 522.8,350.8 523.0,351.0 523.2,350.5 523.4,350.7 523.5,351.0 523.7,350.8 523.9,350.7 524.0,350.9 524.2,350.5 524.4,351.2 524.6,350.9 524.7,350.7 524.9,350.8 525.1,350.8 525.3,350.7 525.4,350.5 525.6,350.7 525.8,350.4 525.9,351.0 526.1,350.5 526.3,350.6 526.5,350.6 526.6,350.9 526.8,350.7 527.0,351.1 527.2,350.7 527.3,350.8 527.5,350.8 527.7,350.7 527.8,351.0 528.0,351.0 528.2,351.0 528.4,350.5 528.5,350.8 528.7,350.5 528.9,350.5 529.1,350.3 529.2,350.3 529.4,350.3 529.6,350.1 529.7,349.8 529.9,349.1 530.1,349.3 530.3,349.9 530.4,350.2 530.6,350.5 530.8,350.3 531.0,350.7 531.1,350.9 531.3,350.8 531.5,350.7 531.6,350.6 531.8,350.7 532.0,351.1 532.2,350.9 532.3,351.0 532.5,351.1 532.7,350.6 532.8,350.9 533.0,350.9 533.2,351.0 533.4,350.7 533.5,350.7 533.7,350.6 533.9,350.8 534.1,350.7 534.2,350.7 534.4,350.8 534.6,350.7 534.7,350.6 534.9,350.7 535.1,350.7 535.3,350.9 535.4,351.0 535.6,350.7 535.8,350.3 536.0,350.9 536.1,350.8 536.3,350.6 536.5,350.7 536.6,351.2 536.8,350.5 537.0,350.5 537.2,350.8 537.3,350.2 537.5,350.7 537.7,351.0 537.9,350.9 538.0,350.9 538.2,350.7 538.4,350.8 538.5,351.3 538.7,350.8 538.9,351.1 539.1,350.5 539.2,350.8 539.4,350.9 539.6,350.8 539.8,350.4 539.9,350.7 540.1,351.1 540.3,350.9 540.4,350.6 540.6,351.0 540.8,350.4 541.0,350.9 541.1,350.9 541.3,350.7 541.5,350.6 541.7,350.5 541.8,350.7 542.0,351.1" fill="none" stroke="#ff0000" stroke-width="1.15" stroke-linejoin="round"/></g>
<path d="M24.0 174.4V5.3H265.5V174.4" fill="none" stroke="#666" stroke-width="1.3"/><line x1="23.4" y1="174.4" x2="266.1" y2="174.4" stroke="#4a4a4a" stroke-width="1.35"/><line x1="24.0" y1="174.4" x2="24.0" y2="177.4" stroke="#444" stroke-width="1.1"/><line x1="41.2" y1="174.4" x2="41.2" y2="175.9" stroke="#444" stroke-width="1.1"/><line x1="58.5" y1="174.4" x2="58.5" y2="177.4" stroke="#444" stroke-width="1.1"/><line x1="75.8" y1="174.4" x2="75.8" y2="175.9" stroke="#444" stroke-width="1.1"/><line x1="93.0" y1="174.4" x2="93.0" y2="177.4" stroke="#444" stroke-width="1.1"/><line x1="110.2" y1="174.4" x2="110.2" y2="175.9" stroke="#444" stroke-width="1.1"/><line x1="127.5" y1="174.4" x2="127.5" y2="177.4" stroke="#444" stroke-width="1.1"/><line x1="144.8" y1="174.4" x2="144.8" y2="175.9" stroke="#444" stroke-width="1.1"/><line x1="162.0" y1="174.4" x2="162.0" y2="177.4" stroke="#444" stroke-width="1.1"/><line x1="179.2" y1="174.4" x2="179.2" y2="175.9" stroke="#444" stroke-width="1.1"/><line x1="196.5" y1="174.4" x2="196.5" y2="177.4" stroke="#444" stroke-width="1.1"/><line x1="213.8" y1="174.4" x2="213.8" y2="175.9" stroke="#444" stroke-width="1.1"/><line x1="231.0" y1="174.4" x2="231.0" y2="177.4" stroke="#444" stroke-width="1.1"/><line x1="248.2" y1="174.4" x2="248.2" y2="175.9" stroke="#444" stroke-width="1.1"/><line x1="265.5" y1="174.4" x2="265.5" y2="177.4" stroke="#444" stroke-width="1.1"/><path d="M300.3 174.5V5.3H542.0V174.5" fill="none" stroke="#666" stroke-width="1.3"/><line x1="299.7" y1="174.5" x2="542.6" y2="174.5" stroke="#4a4a4a" stroke-width="1.35"/><line x1="300.3" y1="174.5" x2="300.3" y2="177.5" stroke="#444" stroke-width="1.1"/><line x1="317.6" y1="174.5" x2="317.6" y2="176.0" stroke="#444" stroke-width="1.1"/><line x1="334.8" y1="174.5" x2="334.8" y2="177.5" stroke="#444" stroke-width="1.1"/><line x1="352.1" y1="174.5" x2="352.1" y2="176.0" stroke="#444" stroke-width="1.1"/><line x1="369.4" y1="174.5" x2="369.4" y2="177.5" stroke="#444" stroke-width="1.1"/><line x1="386.6" y1="174.5" x2="386.6" y2="176.0" stroke="#444" stroke-width="1.1"/><line x1="403.9" y1="174.5" x2="403.9" y2="177.5" stroke="#444" stroke-width="1.1"/><line x1="421.1" y1="174.5" x2="421.1" y2="176.0" stroke="#444" stroke-width="1.1"/><line x1="438.4" y1="174.5" x2="438.4" y2="177.5" stroke="#444" stroke-width="1.1"/><line x1="455.7" y1="174.5" x2="455.7" y2="176.0" stroke="#444" stroke-width="1.1"/><line x1="472.9" y1="174.5" x2="472.9" y2="177.5" stroke="#444" stroke-width="1.1"/><line x1="490.2" y1="174.5" x2="490.2" y2="176.0" stroke="#444" stroke-width="1.1"/><line x1="507.5" y1="174.5" x2="507.5" y2="177.5" stroke="#444" stroke-width="1.1"/><line x1="524.7" y1="174.5" x2="524.7" y2="176.0" stroke="#444" stroke-width="1.1"/><line x1="542.0" y1="174.5" x2="542.0" y2="177.5" stroke="#444" stroke-width="1.1"/><path d="M23.9 368.2V198.6H265.6V368.2" fill="none" stroke="#666" stroke-width="1.3"/><line x1="23.2" y1="368.2" x2="266.2" y2="368.2" stroke="#4a4a4a" stroke-width="1.35"/><path d="M300.3 368.4V198.6H542.0V368.4" fill="none" stroke="#666" stroke-width="1.3"/><line x1="299.7" y1="368.4" x2="542.6" y2="368.4" stroke="#4a4a4a" stroke-width="1.35"/><line x1="300.3" y1="368.4" x2="300.3" y2="371.4" stroke="#444" stroke-width="1.1"/><line x1="317.6" y1="368.4" x2="317.6" y2="369.9" stroke="#444" stroke-width="1.1"/><line x1="334.8" y1="368.4" x2="334.8" y2="371.4" stroke="#444" stroke-width="1.1"/><line x1="352.1" y1="368.4" x2="352.1" y2="369.9" stroke="#444" stroke-width="1.1"/><line x1="369.4" y1="368.4" x2="369.4" y2="371.4" stroke="#444" stroke-width="1.1"/><line x1="386.6" y1="368.4" x2="386.6" y2="369.9" stroke="#444" stroke-width="1.1"/><line x1="403.9" y1="368.4" x2="403.9" y2="371.4" stroke="#444" stroke-width="1.1"/><line x1="421.1" y1="368.4" x2="421.1" y2="369.9" stroke="#444" stroke-width="1.1"/><line x1="438.4" y1="368.4" x2="438.4" y2="371.4" stroke="#444" stroke-width="1.1"/><line x1="455.7" y1="368.4" x2="455.7" y2="369.9" stroke="#444" stroke-width="1.1"/><line x1="472.9" y1="368.4" x2="472.9" y2="371.4" stroke="#444" stroke-width="1.1"/><line x1="490.2" y1="368.4" x2="490.2" y2="369.9" stroke="#444" stroke-width="1.1"/><line x1="507.5" y1="368.4" x2="507.5" y2="371.4" stroke="#444" stroke-width="1.1"/><line x1="524.7" y1="368.4" x2="524.7" y2="369.9" stroke="#444" stroke-width="1.1"/><line x1="542.0" y1="368.4" x2="542.0" y2="371.4" stroke="#444" stroke-width="1.1"/>
<g fill="#111" stroke="#111" stroke-width="0.3"><text x="24.0" y="187.9" font-size="10.5" font-family="'Liberation Serif', 'Times New Roman', serif" text-anchor="middle" >10</text><text x="58.5" y="187.9" font-size="10.5" font-family="'Liberation Serif', 'Times New Roman', serif" text-anchor="middle" >20</text><text x="93.0" y="187.9" font-size="10.5" font-family="'Liberation Serif', 'Times New Roman', serif" text-anchor="middle" >30</text><text x="127.5" y="187.9" font-size="10.5" font-family="'Liberation Serif', 'Times New Roman', serif" text-anchor="middle" >40</text><text x="162.0" y="187.9" font-size="10.5" font-family="'Liberation Serif', 'Times New Roman', serif" text-anchor="middle" >50</text><text x="196.5" y="187.9" font-size="10.5" font-family="'Liberation Serif', 'Times New Roman', serif" text-anchor="middle" >60</text><text x="231.0" y="187.9" font-size="10.5" font-family="'Liberation Serif', 'Times New Roman', serif" text-anchor="middle" >70</text><text x="265.5" y="187.9" font-size="10.5" font-family="'Liberation Serif', 'Times New Roman', serif" text-anchor="middle" >80</text><text x="12.0" y="21.2" font-size="18" font-family="'Liberation Serif', 'Times New Roman', serif" text-anchor="start" >a</text><text x="300.3" y="187.9" font-size="10.5" font-family="'Liberation Serif', 'Times New Roman', serif" text-anchor="middle" >10</text><text x="334.8" y="187.9" font-size="10.5" font-family="'Liberation Serif', 'Times New Roman', serif" text-anchor="middle" >20</text><text x="369.4" y="187.9" font-size="10.5" font-family="'Liberation Serif', 'Times New Roman', serif" text-anchor="middle" >30</text><text x="403.9" y="187.9" font-size="10.5" font-family="'Liberation Serif', 'Times New Roman', serif" text-anchor="middle" >40</text><text x="438.4" y="187.9" font-size="10.5" font-family="'Liberation Serif', 'Times New Roman', serif" text-anchor="middle" >50</text><text x="472.9" y="187.9" font-size="10.5" font-family="'Liberation Serif', 'Times New Roman', serif" text-anchor="middle" >60</text><text x="507.5" y="187.9" font-size="10.5" font-family="'Liberation Serif', 'Times New Roman', serif" text-anchor="middle" >70</text><text x="542.0" y="187.9" font-size="10.5" font-family="'Liberation Serif', 'Times New Roman', serif" text-anchor="middle" >80</text><text x="288.8" y="21.5" font-size="18" font-family="'Liberation Serif', 'Times New Roman', serif" text-anchor="start" >b</text><text x="23.9" y="379.9" font-size="10.5" font-family="'Liberation Serif', 'Times New Roman', serif" text-anchor="middle" >10</text><text x="58.4" y="379.9" font-size="10.5" font-family="'Liberation Serif', 'Times New Roman', serif" text-anchor="middle" >20</text><text x="93.0" y="379.9" font-size="10.5" font-family="'Liberation Serif', 'Times New Roman', serif" text-anchor="middle" >30</text><text x="127.5" y="379.9" font-size="10.5" font-family="'Liberation Serif', 'Times New Roman', serif" text-anchor="middle" >40</text><text x="162.0" y="379.9" font-size="10.5" font-family="'Liberation Serif', 'Times New Roman', serif" text-anchor="middle" >50</text><text x="196.5" y="379.9" font-size="10.5" font-family="'Liberation Serif', 'Times New Roman', serif" text-anchor="middle" >60</text><text x="231.1" y="379.9" font-size="10.5" font-family="'Liberation Serif', 'Times New Roman', serif" text-anchor="middle" >70</text><text x="265.6" y="379.9" font-size="10.5" font-family="'Liberation Serif', 'Times New Roman', serif" text-anchor="middle" >80</text><text x="11.9" y="214.4" font-size="18" font-family="'Liberation Serif', 'Times New Roman', serif" text-anchor="start" >c</text><text x="300.3" y="381.7" font-size="10.5" font-family="'Liberation Serif', 'Times New Roman', serif" text-anchor="middle" >10</text><text x="334.8" y="381.7" font-size="10.5" font-family="'Liberation Serif', 'Times New Roman', serif" text-anchor="middle" >20</text><text x="369.4" y="381.7" font-size="10.5" font-family="'Liberation Serif', 'Times New Roman', serif" text-anchor="middle" >30</text><text x="403.9" y="381.7" font-size="10.5" font-family="'Liberation Serif', 'Times New Roman', serif" text-anchor="middle" >40</text><text x="438.4" y="381.7" font-size="10.5" font-family="'Liberation Serif', 'Times New Roman', serif" text-anchor="middle" >50</text><text x="472.9" y="381.7" font-size="10.5" font-family="'Liberation Serif', 'Times New Roman', serif" text-anchor="middle" >60</text><text x="507.5" y="381.7" font-size="10.5" font-family="'Liberation Serif', 'Times New Roman', serif" text-anchor="middle" >70</text><text x="542.0" y="381.7" font-size="10.5" font-family="'Liberation Serif', 'Times New Roman', serif" text-anchor="middle" >80</text><text x="289.8" y="214.4" font-size="18" font-family="'Liberation Serif', 'Times New Roman', serif" text-anchor="start" >d</text><text x="144.6" y="398.6" font-size="10.7" font-family="'Liberation Serif', 'Times New Roman', serif" text-anchor="middle" >2θ (Degree)</text><text x="421.2" y="399.3" font-size="10.7" font-family="'Liberation Serif', 'Times New Roman', serif" text-anchor="middle" >2θ (Degree)</text><text x="12.8" y="89.8" font-size="10.8" font-family="'Liberation Serif', 'Times New Roman', serif" text-anchor="middle" transform="rotate(-90 12.8 89.85)">Intensiy (a.u.)</text><text x="12.8" y="283.2" font-size="10.8" font-family="'Liberation Serif', 'Times New Roman', serif" text-anchor="middle" transform="rotate(-90 12.8 283.2)">Intensiy (a.u.)</text><text x="288.8" y="89.6" font-size="10.8" font-family="'Liberation Serif', 'Times New Roman', serif" text-anchor="middle" transform="rotate(-90 288.8 89.6)">Intensiy (a.u.)</text><text x="288.8" y="283.2" font-size="10.8" font-family="'Liberation Serif', 'Times New Roman', serif" text-anchor="middle" transform="rotate(-90 288.8 283.2)">Intensiy (a.u.)</text><text x="26.2" y="14.9" font-size="9.6" font-family="'Liberation Sans', Arial, sans-serif" text-anchor="start" stroke-width="0.4" transform="matrix(1.04,0,0,1,-1.05,0)">A-Aantate</text><text x="301.6" y="14.9" font-size="9.6" font-family="'Liberation Sans', Arial, sans-serif" text-anchor="start" stroke-width="0.4" transform="matrix(1.04,0,0,1,-12.06,0)">A-Aantate</text><text x="26.2" y="208.3" font-size="9.6" font-family="'Liberation Sans', Arial, sans-serif" text-anchor="start" stroke-width="0.4" transform="matrix(1.04,0,0,1,-1.05,0)">A-Aantate</text><text x="26.2" y="221.6" font-size="9.6" font-family="'Liberation Sans', Arial, sans-serif" text-anchor="start" stroke-width="0.4" transform="matrix(1.04,0,0,1,-1.05,0)">R-Rutile</text><text x="301.9" y="208.5" font-size="9.6" font-family="'Liberation Sans', Arial, sans-serif" text-anchor="start" stroke-width="0.4" transform="matrix(1.04,0,0,1,-12.08,0)">A-Aantate</text><text x="301.9" y="221.5" font-size="9.6" font-family="'Liberation Sans', Arial, sans-serif" text-anchor="start" stroke-width="0.4" transform="matrix(1.04,0,0,1,-12.08,0)">R-Rutile</text><text x="262.0" y="38.3" font-size="11.0" font-family="'Liberation Serif', 'Times New Roman', serif" text-anchor="end">Hollow TiO<tspan font-size="7.6" dy="3.0">2</tspan></text><text x="262.3" y="73.6" font-size="11.0" font-family="'Liberation Serif', 'Times New Roman', serif" text-anchor="end" transform="matrix(0.97,0,0,1,7.87,0)">SiO<tspan font-size="7.6" dy="3.0">2</tspan><tspan dy="-3.0">@TiO</tspan><tspan font-size="7.6" dy="3.0">2</tspan></text><text x="261.5" y="146.3" font-size="11.0" font-family="'Liberation Serif', 'Times New Roman', serif" text-anchor="end">TiO<tspan font-size="7.6" dy="3.0">2</tspan></text><text x="540.0" y="37.1" font-size="11.0" font-family="'Liberation Serif', 'Times New Roman', serif" text-anchor="end">Hollow TiO<tspan font-size="7.6" dy="3.0">2</tspan></text><text x="540.0" y="66.4" font-size="11.0" font-family="'Liberation Serif', 'Times New Roman', serif" text-anchor="end" transform="matrix(0.97,0,0,1,16.20,0)">SiO<tspan font-size="7.6" dy="3.0">2</tspan><tspan dy="-3.0">@TiO</tspan><tspan font-size="7.6" dy="3.0">2</tspan></text><text x="538.5" y="138.1" font-size="11.0" font-family="'Liberation Serif', 'Times New Roman', serif" text-anchor="end">TiO<tspan font-size="7.6" dy="3.0">2</tspan></text><text x="261.8" y="227.7" font-size="11.0" font-family="'Liberation Serif', 'Times New Roman', serif" text-anchor="end">Hollow TiO<tspan font-size="7.6" dy="3.0">2</tspan></text><text x="261.8" y="272.7" font-size="11.0" font-family="'Liberation Serif', 'Times New Roman', serif" text-anchor="end" transform="matrix(0.97,0,0,1,7.85,0)">SiO<tspan font-size="7.6" dy="3.0">2</tspan><tspan dy="-3.0">@TiO</tspan><tspan font-size="7.6" dy="3.0">2</tspan></text><text x="262.5" y="350.3" font-size="11.0" font-family="'Liberation Serif', 'Times New Roman', serif" text-anchor="end">TiO<tspan font-size="7.6" dy="3.0">2</tspan></text><text x="539.9" y="224.9" font-size="11.0" font-family="'Liberation Serif', 'Times New Roman', serif" text-anchor="end">Hollow TiO<tspan font-size="7.6" dy="3.0">2</tspan></text><text x="539.9" y="276.0" font-size="11.0" font-family="'Liberation Serif', 'Times New Roman', serif" text-anchor="end" transform="matrix(0.97,0,0,1,16.20,0)">SiO<tspan font-size="7.6" dy="3.0">2</tspan><tspan dy="-3.0">@TiO</tspan><tspan font-size="7.6" dy="3.0">2</tspan></text><text x="540.3" y="343.2" font-size="11.0" font-family="'Liberation Serif', 'Times New Roman', serif" text-anchor="end">TiO<tspan font-size="7.6" dy="3.0">2</tspan></text><text x="77.1" y="93.1" font-size="10.9" font-family="'Liberation Serif', 'Times New Roman', serif" text-anchor="middle" >A</text><text x="120.5" y="149.8" font-size="10.9" font-family="'Liberation Serif', 'Times New Roman', serif" text-anchor="middle" >A</text><text x="156.1" y="145.6" font-size="10.9" font-family="'Liberation Serif', 'Times New Roman', serif" text-anchor="middle" >A</text><text x="206.9" y="156.0" font-size="10.9" font-family="'Liberation Serif', 'Times New Roman', serif" text-anchor="middle" >A</text><text x="249.3" y="159.2" font-size="10.9" font-family="'Liberation Serif', 'Times New Roman', serif" text-anchor="middle" >A</text><text x="174.5" y="152.6" font-size="10.9" font-family="'Liberation Serif', 'Times New Roman', serif" text-anchor="middle" >A</text><text x="181.9" y="152.6" font-size="10.9" font-family="'Liberation Serif', 'Times New Roman', serif" text-anchor="middle" >A</text><text x="353.7" y="21.8" font-size="10.9" font-family="'Liberation Serif', 'Times New Roman', serif" text-anchor="middle" >A</text><text x="398.0" y="36.4" font-size="10.9" font-family="'Liberation Serif', 'Times New Roman', serif" text-anchor="middle" >A</text><text x="432.4" y="37.1" font-size="10.9" font-family="'Liberation Serif', 'Times New Roman', serif" text-anchor="middle" >A</text><text x="455.1" y="37.1" font-size="10.9" font-family="'Liberation Serif', 'Times New Roman', serif" text-anchor="middle" >A</text><text x="353.7" y="52.5" font-size="10.9" font-family="'Liberation Serif', 'Times New Roman', serif" text-anchor="middle" >A</text><text x="397.2" y="67.6" font-size="10.9" font-family="'Liberation Serif', 'Times New Roman', serif" text-anchor="middle" >A</text><text x="432.1" y="67.3" font-size="10.9" font-family="'Liberation Serif', 'Times New Roman', serif" text-anchor="middle" >A</text><text x="454.9" y="68.6" font-size="10.9" font-family="'Liberation Serif', 'Times New Roman', serif" text-anchor="middle" >A</text><text x="353.7" y="80.0" font-size="10.9" font-family="'Liberation Serif', 'Times New Roman', serif" text-anchor="middle" >A</text><text x="398.1" y="145.0" font-size="10.9" font-family="'Liberation Serif', 'Times New Roman', serif" text-anchor="middle" >A</text><text x="432.9" y="138.7" font-size="10.9" font-family="'Liberation Serif', 'Times New Roman', serif" text-anchor="middle" >A</text><text x="483.2" y="149.8" font-size="10.9" font-family="'Liberation Serif', 'Times New Roman', serif" text-anchor="middle" >A</text><text x="525.6" y="155.3" font-size="10.9" font-family="'Liberation Serif', 'Times New Roman', serif" text-anchor="middle" >A</text><text x="451.9" y="148.5" font-size="10.9" font-family="'Liberation Serif', 'Times New Roman', serif" text-anchor="middle" >A</text><text x="459.6" y="148.5" font-size="10.9" font-family="'Liberation Serif', 'Times New Roman', serif" text-anchor="middle" >A</text><text x="503.1" y="157.7" font-size="10.9" font-family="'Liberation Serif', 'Times New Roman', serif" text-anchor="middle" >A</text><text x="509.9" y="157.7" font-size="10.9" font-family="'Liberation Serif', 'Times New Roman', serif" text-anchor="middle" >A</text><text x="77.5" y="210.1" font-size="10.9" font-family="'Liberation Serif', 'Times New Roman', serif" text-anchor="middle" >A</text><text x="121.1" y="242.0" font-size="10.9" font-family="'Liberation Serif', 'Times New Roman', serif" text-anchor="middle" >A</text><text x="156.7" y="240.3" font-size="10.9" font-family="'Liberation Serif', 'Times New Roman', serif" text-anchor="middle" >A</text><text x="177.6" y="242.0" font-size="10.9" font-family="'Liberation Serif', 'Times New Roman', serif" text-anchor="middle" >A</text><text x="207.1" y="243.5" font-size="10.9" font-family="'Liberation Serif', 'Times New Roman', serif" text-anchor="middle" >A</text><text x="77.5" y="256.6" font-size="10.9" font-family="'Liberation Serif', 'Times New Roman', serif" text-anchor="middle" >A</text><text x="121.1" y="276.3" font-size="10.9" font-family="'Liberation Serif', 'Times New Roman', serif" text-anchor="middle" >A</text><text x="156.7" y="275.2" font-size="10.9" font-family="'Liberation Serif', 'Times New Roman', serif" text-anchor="middle" >A</text><text x="180.4" y="278.5" font-size="10.9" font-family="'Liberation Serif', 'Times New Roman', serif" text-anchor="middle" >A</text><text x="207.1" y="278.0" font-size="10.9" font-family="'Liberation Serif', 'Times New Roman', serif" text-anchor="middle" >A</text><text x="84.6" y="290.8" font-size="10.9" font-family="'Liberation Serif', 'Times New Roman', serif" text-anchor="middle" transform="matrix(0.88,0,0,1,10.15,0)">R</text><text x="114.6" y="327.5" font-size="10.9" font-family="'Liberation Serif', 'Times New Roman', serif" text-anchor="middle" transform="matrix(0.88,0,0,1,13.75,0)">R</text><text x="132.2" y="340.6" font-size="10.9" font-family="'Liberation Serif', 'Times New Roman', serif" text-anchor="middle" transform="matrix(0.88,0,0,1,15.87,0)">R</text><text x="141.9" y="351.3" font-size="10.9" font-family="'Liberation Serif', 'Times New Roman', serif" text-anchor="middle" transform="matrix(0.88,0,0,1,17.03,0)">R</text><text x="177.5" y="314.7" font-size="10.9" font-family="'Liberation Serif', 'Times New Roman', serif" text-anchor="middle" transform="matrix(0.88,0,0,1,21.30,0)">R</text><text x="185.4" y="343.9" font-size="10.9" font-family="'Liberation Serif', 'Times New Roman', serif" text-anchor="middle" transform="matrix(0.88,0,0,1,22.25,0)">R</text><text x="206.8" y="351.8" font-size="10.9" font-family="'Liberation Serif', 'Times New Roman', serif" text-anchor="middle" transform="matrix(0.88,0,0,1,24.82,0)">R</text><text x="228.6" y="344.9" font-size="10.9" font-family="'Liberation Serif', 'Times New Roman', serif" text-anchor="middle" transform="matrix(0.88,0,0,1,27.43,0)">R</text><text x="353.9" y="234.1" font-size="10.9" font-family="'Liberation Serif', 'Times New Roman', serif" text-anchor="middle" >A</text><text x="366.3" y="208.7" font-size="10.9" font-family="'Liberation Serif', 'Times New Roman', serif" text-anchor="middle" transform="matrix(0.88,0,0,1,43.95,0)">R</text><text x="392.0" y="223.0" font-size="10.9" font-family="'Liberation Serif', 'Times New Roman', serif" text-anchor="middle" transform="matrix(0.88,0,0,1,47.04,0)">R</text><text x="409.2" y="235.6" font-size="10.9" font-family="'Liberation Serif', 'Times New Roman', serif" text-anchor="middle" transform="matrix(0.88,0,0,1,49.11,0)">R</text><text x="432.7" y="245.8" font-size="10.9" font-family="'Liberation Serif', 'Times New Roman', serif" text-anchor="middle" >A</text><text x="453.6" y="220.3" font-size="10.9" font-family="'Liberation Serif', 'Times New Roman', serif" text-anchor="middle" transform="matrix(0.88,0,0,1,54.43,0)">R</text><text x="462.4" y="240.6" font-size="10.9" font-family="'Liberation Serif', 'Times New Roman', serif" text-anchor="middle" transform="matrix(0.88,0,0,1,55.49,0)">R</text><text x="482.8" y="244.4" font-size="10.9" font-family="'Liberation Serif', 'Times New Roman', serif" text-anchor="middle" transform="matrix(0.88,0,0,1,57.93,0)">R</text><text x="504.5" y="239.9" font-size="10.9" font-family="'Liberation Serif', 'Times New Roman', serif" text-anchor="middle" transform="matrix(0.88,0,0,1,60.54,0)">R</text><text x="353.9" y="283.3" font-size="10.9" font-family="'Liberation Serif', 'Times New Roman', serif" text-anchor="middle" >A</text><text x="366.3" y="265.6" font-size="10.9" font-family="'Liberation Serif', 'Times New Roman', serif" text-anchor="middle" transform="matrix(0.88,0,0,1,43.95,0)">R</text><text x="392.8" y="280.9" font-size="10.9" font-family="'Liberation Serif', 'Times New Roman', serif" text-anchor="middle" transform="matrix(0.88,0,0,1,47.14,0)">R</text><text x="409.0" y="287.9" font-size="10.9" font-family="'Liberation Serif', 'Times New Roman', serif" text-anchor="middle" transform="matrix(0.88,0,0,1,49.08,0)">R</text><text x="432.7" y="292.4" font-size="10.9" font-family="'Liberation Serif', 'Times New Roman', serif" text-anchor="middle" >A</text><text x="453.6" y="274.7" font-size="10.9" font-family="'Liberation Serif', 'Times New Roman', serif" text-anchor="middle" transform="matrix(0.88,0,0,1,54.43,0)">R</text><text x="462.4" y="291.1" font-size="10.9" font-family="'Liberation Serif', 'Times New Roman', serif" text-anchor="middle" transform="matrix(0.88,0,0,1,55.49,0)">R</text><text x="482.6" y="292.9" font-size="10.9" font-family="'Liberation Serif', 'Times New Roman', serif" text-anchor="middle" transform="matrix(0.88,0,0,1,57.91,0)">R</text><text x="504.3" y="289.8" font-size="10.9" font-family="'Liberation Serif', 'Times New Roman', serif" text-anchor="middle" transform="matrix(0.88,0,0,1,60.52,0)">R</text><text x="366.4" y="312.4" font-size="10.9" font-family="'Liberation Serif', 'Times New Roman', serif" text-anchor="middle" transform="matrix(0.88,0,0,1,43.97,0)">R</text><text x="391.8" y="324.0" font-size="10.9" font-family="'Liberation Serif', 'Times New Roman', serif" text-anchor="middle" transform="matrix(0.88,0,0,1,47.02,0)">R</text><text x="408.7" y="336.1" font-size="10.9" font-family="'Liberation Serif', 'Times New Roman', serif" text-anchor="middle" transform="matrix(0.88,0,0,1,49.05,0)">R</text><text x="453.6" y="314.4" font-size="10.9" font-family="'Liberation Serif', 'Times New Roman', serif" text-anchor="middle" transform="matrix(0.88,0,0,1,54.43,0)">R</text><text x="462.4" y="338.0" font-size="10.9" font-family="'Liberation Serif', 'Times New Roman', serif" text-anchor="middle" transform="matrix(0.88,0,0,1,55.49,0)">R</text><text x="482.6" y="342.3" font-size="10.9" font-family="'Liberation Serif', 'Times New Roman', serif" text-anchor="middle" transform="matrix(0.88,0,0,1,57.91,0)">R</text><text x="504.3" y="338.0" font-size="10.9" font-family="'Liberation Serif', 'Times New Roman', serif" text-anchor="middle" transform="matrix(0.88,0,0,1,60.52,0)">R</text></g>
</svg></div></body></html>
